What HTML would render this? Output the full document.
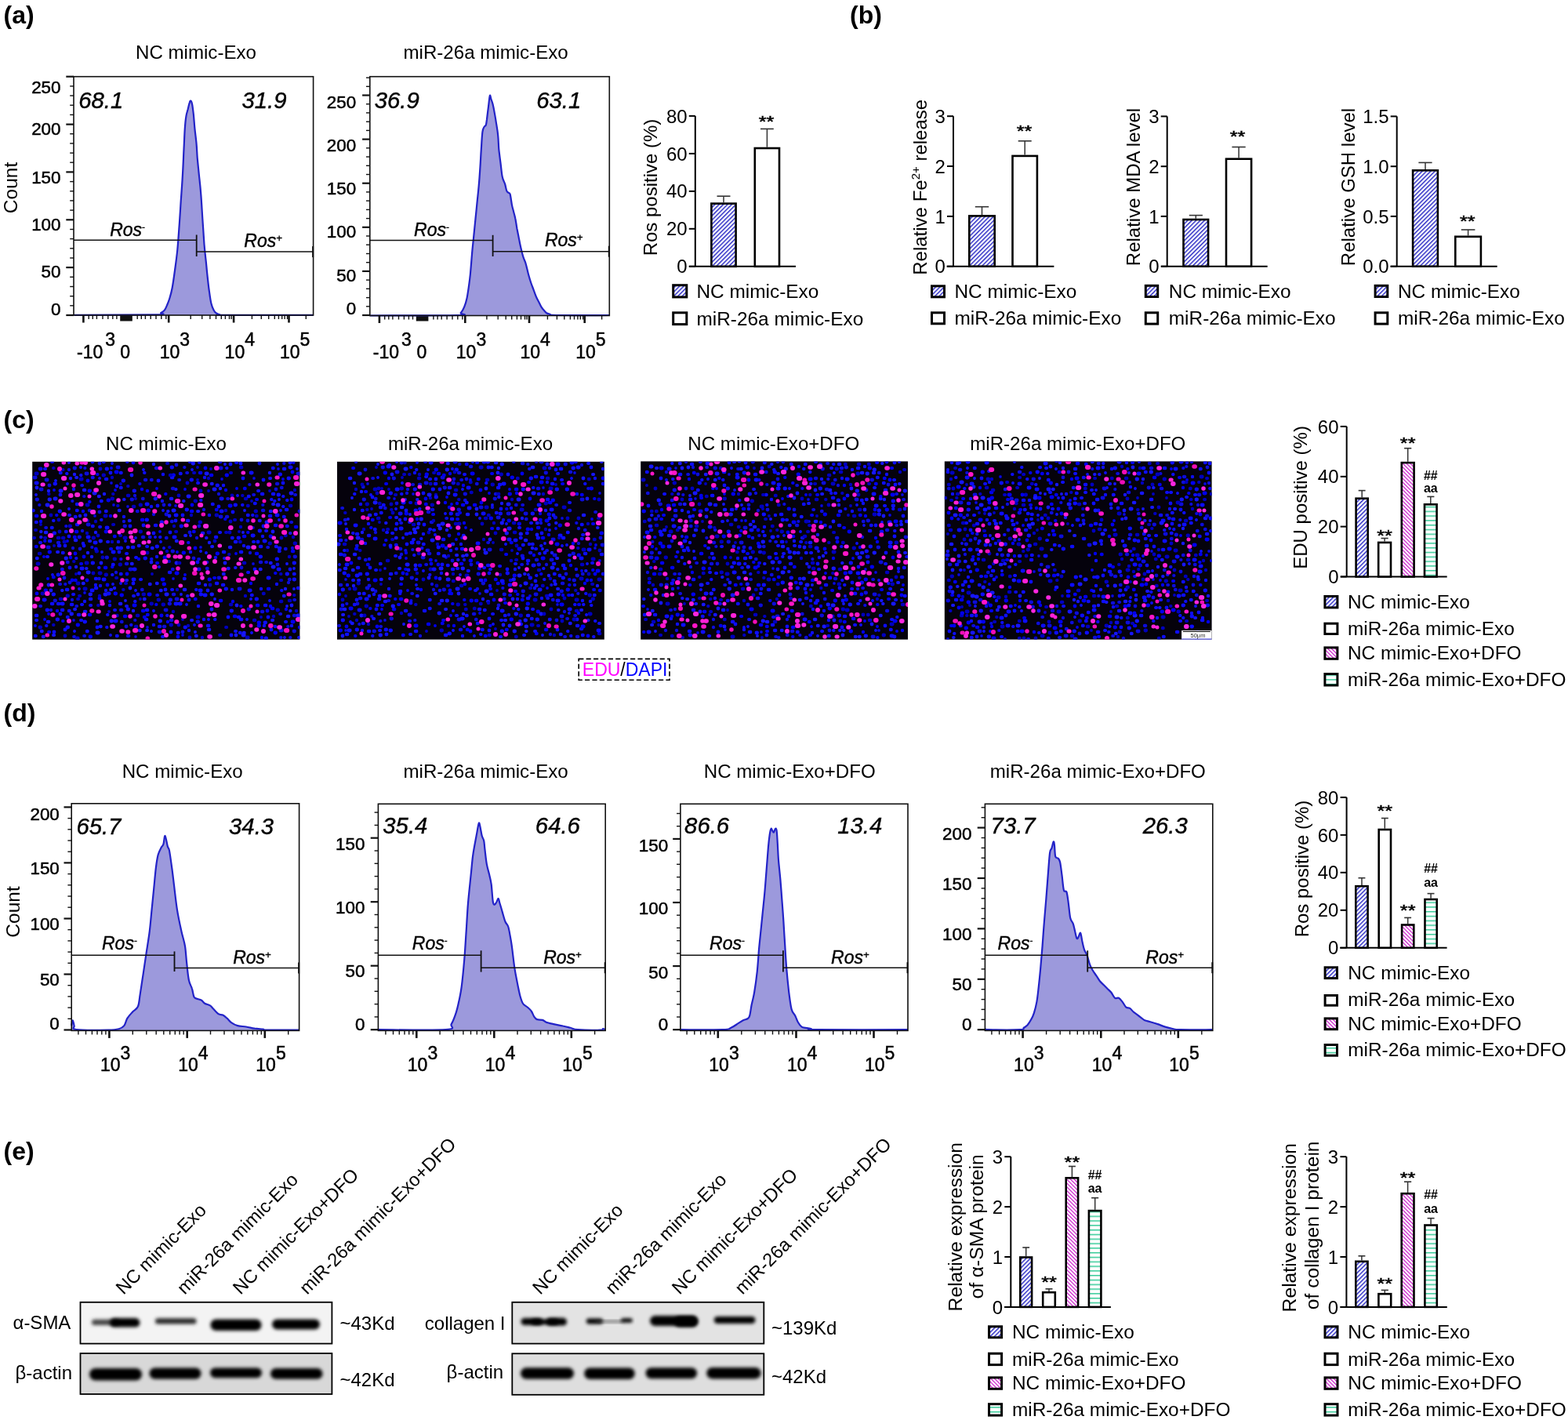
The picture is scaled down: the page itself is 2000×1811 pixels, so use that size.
<!DOCTYPE html>
<html><head><meta charset="utf-8"><title>Figure</title>
<style>html,body{margin:0;padding:0;background:#fff;width:2000px;height:1811px;overflow:hidden}svg{display:block}</style>
</head><body>
<svg width="2000" height="1811" viewBox="0 0 2000 1811" font-family="'Liberation Sans', Arial, Helvetica, sans-serif">
<defs>
<pattern id="pBlue" patternUnits="userSpaceOnUse" width="3.8" height="10" patternTransform="rotate(45)"><rect width="3.8" height="10" fill="#fff"/><rect x="0" y="0" width="1.45" height="10" fill="#2626c4"/></pattern>
<pattern id="pPink" patternUnits="userSpaceOnUse" width="3.4" height="10" patternTransform="rotate(-45)"><rect width="3.4" height="10" fill="#fff"/><rect x="0" y="0" width="1.2" height="10" fill="#c814c8"/></pattern>
<pattern id="pGreen" patternUnits="userSpaceOnUse" width="6" height="5.8"><rect width="6" height="5.8" fill="#fff"/><rect x="0" y="2" width="6" height="1.4" fill="#24c890"/></pattern>
<filter id="blur1" x="-20%" y="-80%" width="140%" height="260%"><feGaussianBlur stdDeviation="1.9"/></filter>
<filter id="dotblur" x="-2%" y="-2%" width="104%" height="104%"><feGaussianBlur stdDeviation="0.6"/></filter>
<filter id="blur2" x="-20%" y="-80%" width="140%" height="260%"><feGaussianBlur stdDeviation="2.2"/></filter>
<clipPath id="clip11"><rect x="41.2" y="588.8" width="341.2" height="226.8"/></clipPath><clipPath id="clip22"><rect x="430" y="588.8" width="340.8" height="226.8"/></clipPath><clipPath id="clip33"><rect x="817.2" y="588.4" width="340.8" height="227.2"/></clipPath><clipPath id="clip44"><rect x="1204.8" y="588.4" width="340.8" height="227.2"/></clipPath></defs>
<rect width="2000" height="1811" fill="#fff"/>
<text x="4.5" y="30" font-size="32" font-weight="bold">(a)</text>
<text x="1084" y="30" font-size="32" font-weight="bold">(b)</text>
<text x="4.5" y="546" font-size="32" font-weight="bold">(c)</text>
<text x="4.5" y="920" font-size="32" font-weight="bold">(d)</text>
<text x="4.5" y="1479.3" font-size="32" font-weight="bold">(e)</text>
<line x1="886.8" y1="147.9" x2="886.8" y2="339.8" stroke="#000" stroke-width="2" />
<line x1="878.9" y1="339.8" x2="1015" y2="339.8" stroke="#000" stroke-width="2" />
<line x1="878.8" y1="339.8" x2="886.8" y2="339.8" stroke="#000" stroke-width="2" />
<text x="876.6" y="348.4" font-size="24" text-anchor="end">0</text>
<line x1="878.8" y1="291.8" x2="886.8" y2="291.8" stroke="#000" stroke-width="2" />
<text x="876.6" y="300.4" font-size="24" text-anchor="end">20</text>
<line x1="878.8" y1="243.9" x2="886.8" y2="243.9" stroke="#000" stroke-width="2" />
<text x="876.6" y="252.4" font-size="24" text-anchor="end">40</text>
<line x1="878.8" y1="195.9" x2="886.8" y2="195.9" stroke="#000" stroke-width="2" />
<text x="876.6" y="204.5" font-size="24" text-anchor="end">60</text>
<line x1="878.8" y1="147.9" x2="886.8" y2="147.9" stroke="#000" stroke-width="2" />
<text x="876.6" y="156.5" font-size="24" text-anchor="end">80</text>
<line x1="923" y1="258.3" x2="923" y2="250.2" stroke="#333" stroke-width="1.5" />
<line x1="914.5" y1="250.2" x2="931.5" y2="250.2" stroke="#333" stroke-width="1.6" />
<rect x="907.4" y="259.6" width="31.2" height="80.2" fill="url(#pBlue)" stroke="#000" stroke-width="2.6" />
<line x1="978.4" y1="187.7" x2="978.4" y2="164.4" stroke="#333" stroke-width="1.5" />
<line x1="970" y1="164.4" x2="986.8" y2="164.4" stroke="#333" stroke-width="1.6" />
<rect x="962.8" y="189" width="31.2" height="150.8" fill="#fff" stroke="#000" stroke-width="2.6" />
<text transform="translate(977.5 151.6) scale(1.15 0.92)" x="0" y="11.1" font-size="22" text-anchor="middle" stroke="#000" stroke-width="0.5">**</text>
<text transform="translate(838.3 239) rotate(-90)" text-anchor="middle" font-size="24">Ros positive (%)</text>
<rect x="858.7" y="363.7" width="17.1" height="15.2" fill="url(#pBlue)" stroke="#000" stroke-width="3" />
<text x="888.5" y="379.9" font-size="24.4">NC mimic-Exo</text>
<rect x="858.7" y="398.8" width="17.1" height="14.8" fill="#fff" stroke="#000" stroke-width="3" />
<text x="888.5" y="414.6" font-size="24.4">miR-26a mimic-Exo</text>
<line x1="1216" y1="148.2" x2="1216" y2="339.7" stroke="#000" stroke-width="2" />
<line x1="1207.6" y1="339.7" x2="1344.4" y2="339.7" stroke="#000" stroke-width="2" />
<line x1="1208" y1="339.7" x2="1216" y2="339.7" stroke="#000" stroke-width="2" />
<text x="1205.8" y="348.3" font-size="24" text-anchor="end">0</text>
<line x1="1208" y1="275.9" x2="1216" y2="275.9" stroke="#000" stroke-width="2" />
<text x="1205.8" y="284.5" font-size="24" text-anchor="end">1</text>
<line x1="1208" y1="212" x2="1216" y2="212" stroke="#000" stroke-width="2" />
<text x="1205.8" y="220.6" font-size="24" text-anchor="end">2</text>
<line x1="1208" y1="148.2" x2="1216" y2="148.2" stroke="#000" stroke-width="2" />
<text x="1205.8" y="156.8" font-size="24" text-anchor="end">3</text>
<line x1="1252.5" y1="274.1" x2="1252.5" y2="263.7" stroke="#333" stroke-width="1.5" />
<line x1="1243.8" y1="263.7" x2="1261.2" y2="263.7" stroke="#333" stroke-width="1.6" />
<rect x="1236.3" y="275.4" width="32.4" height="64.3" fill="url(#pBlue)" stroke="#000" stroke-width="2.6" />
<line x1="1307.2" y1="197.6" x2="1307.2" y2="179.8" stroke="#333" stroke-width="1.5" />
<line x1="1298.7" y1="179.8" x2="1315.7" y2="179.8" stroke="#333" stroke-width="1.6" />
<rect x="1291.5" y="198.9" width="31.4" height="140.8" fill="#fff" stroke="#000" stroke-width="2.6" />
<text transform="translate(1306.5 163.3) scale(1.15 0.92)" x="0" y="11.1" font-size="22" text-anchor="middle" stroke="#000" stroke-width="0.5">**</text>
<text transform="translate(1181.5 238.8) rotate(-90)" text-anchor="middle" font-size="24">Relative Fe<tspan font-size="15" dy="-9">2+</tspan><tspan dy="9"> release</tspan></text>
<rect x="1188.5" y="364.8" width="16" height="14" fill="url(#pBlue)" stroke="#000" stroke-width="3" />
<text x="1217.5" y="379.8" font-size="24.4">NC mimic-Exo</text>
<rect x="1188.5" y="398.8" width="16" height="14" fill="#fff" stroke="#000" stroke-width="3" />
<text x="1217.5" y="413.8" font-size="24.4">miR-26a mimic-Exo</text>
<line x1="1488.7" y1="148.4" x2="1488.7" y2="339.7" stroke="#000" stroke-width="2" />
<line x1="1481" y1="339.7" x2="1616.7" y2="339.7" stroke="#000" stroke-width="2" />
<line x1="1480.7" y1="339.7" x2="1488.7" y2="339.7" stroke="#000" stroke-width="2" />
<text x="1478.5" y="348.3" font-size="24" text-anchor="end">0</text>
<line x1="1480.7" y1="275.9" x2="1488.7" y2="275.9" stroke="#000" stroke-width="2" />
<text x="1478.5" y="284.5" font-size="24" text-anchor="end">1</text>
<line x1="1480.7" y1="212.2" x2="1488.7" y2="212.2" stroke="#000" stroke-width="2" />
<text x="1478.5" y="220.8" font-size="24" text-anchor="end">2</text>
<line x1="1480.7" y1="148.4" x2="1488.7" y2="148.4" stroke="#000" stroke-width="2" />
<text x="1478.5" y="157" font-size="24" text-anchor="end">3</text>
<line x1="1525.3" y1="278.7" x2="1525.3" y2="274.6" stroke="#333" stroke-width="1.5" />
<line x1="1516.8" y1="274.6" x2="1533.9" y2="274.6" stroke="#333" stroke-width="1.6" />
<rect x="1509.5" y="280" width="31.6" height="59.7" fill="url(#pBlue)" stroke="#000" stroke-width="2.6" />
<line x1="1580.1" y1="201.4" x2="1580.1" y2="187.5" stroke="#333" stroke-width="1.5" />
<line x1="1571.4" y1="187.5" x2="1588.7" y2="187.5" stroke="#333" stroke-width="1.6" />
<rect x="1564" y="202.7" width="32.1" height="137" fill="#fff" stroke="#000" stroke-width="2.6" />
<text transform="translate(1578.6 170.4) scale(1.15 0.92)" x="0" y="11.1" font-size="22" text-anchor="middle" stroke="#000" stroke-width="0.5">**</text>
<text transform="translate(1454.3 238.5) rotate(-90)" text-anchor="middle" font-size="24">Relative MDA level</text>
<rect x="1461.3" y="364.3" width="15.4" height="14.2" fill="url(#pBlue)" stroke="#000" stroke-width="3" />
<text x="1490.8" y="379.5" font-size="24.4">NC mimic-Exo</text>
<rect x="1461.3" y="398.8" width="15.4" height="14.3" fill="#fff" stroke="#000" stroke-width="3" />
<text x="1490.8" y="414.1" font-size="24.4">miR-26a mimic-Exo</text>
<line x1="1781.7" y1="148.4" x2="1781.7" y2="339.7" stroke="#000" stroke-width="2" />
<line x1="1773.6" y1="339.7" x2="1909.7" y2="339.7" stroke="#000" stroke-width="2" />
<line x1="1773.7" y1="339.7" x2="1781.7" y2="339.7" stroke="#000" stroke-width="2" />
<text x="1771.5" y="348.3" font-size="24" text-anchor="end">0.0</text>
<line x1="1773.7" y1="275.9" x2="1781.7" y2="275.9" stroke="#000" stroke-width="2" />
<text x="1771.5" y="284.5" font-size="24" text-anchor="end">0.5</text>
<line x1="1773.7" y1="212.2" x2="1781.7" y2="212.2" stroke="#000" stroke-width="2" />
<text x="1771.5" y="220.8" font-size="24" text-anchor="end">1.0</text>
<line x1="1773.7" y1="148.4" x2="1781.7" y2="148.4" stroke="#000" stroke-width="2" />
<text x="1771.5" y="157" font-size="24" text-anchor="end">1.5</text>
<line x1="1818" y1="216" x2="1818" y2="207.4" stroke="#333" stroke-width="1.5" />
<line x1="1809.4" y1="207.4" x2="1826.6" y2="207.4" stroke="#333" stroke-width="1.6" />
<rect x="1802.1" y="217.3" width="31.8" height="122.4" fill="url(#pBlue)" stroke="#000" stroke-width="2.6" />
<line x1="1872.6" y1="300.5" x2="1872.6" y2="293" stroke="#333" stroke-width="1.5" />
<line x1="1863.8" y1="293" x2="1881.4" y2="293" stroke="#333" stroke-width="1.6" />
<rect x="1856.3" y="301.8" width="32.6" height="37.9" fill="#fff" stroke="#000" stroke-width="2.6" />
<text transform="translate(1871.8 278.3) scale(1.15 0.92)" x="0" y="11.1" font-size="22" text-anchor="middle" stroke="#000" stroke-width="0.5">**</text>
<text transform="translate(1727.5 238.5) rotate(-90)" text-anchor="middle" font-size="24">Relative GSH level</text>
<rect x="1754.1" y="364.3" width="15.7" height="14.2" fill="url(#pBlue)" stroke="#000" stroke-width="3" />
<text x="1783" y="379.5" font-size="24.4">NC mimic-Exo</text>
<rect x="1754.1" y="398.8" width="15.7" height="14.3" fill="#fff" stroke="#000" stroke-width="3" />
<text x="1783" y="414.1" font-size="24.4">miR-26a mimic-Exo</text>
<line x1="1717.7" y1="543.9" x2="1717.7" y2="735.5" stroke="#000" stroke-width="2" />
<line x1="1709.9" y1="735.5" x2="1845.7" y2="735.5" stroke="#000" stroke-width="2" />
<line x1="1709.7" y1="735.5" x2="1717.7" y2="735.5" stroke="#000" stroke-width="2" />
<text x="1707.5" y="744.1" font-size="24" text-anchor="end">0</text>
<line x1="1709.7" y1="671.6" x2="1717.7" y2="671.6" stroke="#000" stroke-width="2" />
<text x="1707.5" y="680.2" font-size="24" text-anchor="end">20</text>
<line x1="1709.7" y1="607.8" x2="1717.7" y2="607.8" stroke="#000" stroke-width="2" />
<text x="1707.5" y="616.4" font-size="24" text-anchor="end">40</text>
<line x1="1709.7" y1="543.9" x2="1717.7" y2="543.9" stroke="#000" stroke-width="2" />
<text x="1707.5" y="552.5" font-size="24" text-anchor="end">60</text>
<line x1="1737.2" y1="634.4" x2="1737.2" y2="625.6" stroke="#333" stroke-width="1.5" />
<line x1="1732.7" y1="625.6" x2="1741.6" y2="625.6" stroke="#333" stroke-width="1.6" />
<rect x="1729.6" y="635.7" width="15.1" height="99.8" fill="url(#pBlue)" stroke="#000" stroke-width="2.6" />
<line x1="1766.1" y1="690.6" x2="1766.1" y2="686.5" stroke="#333" stroke-width="1.5" />
<line x1="1761.5" y1="686.5" x2="1770.7" y2="686.5" stroke="#333" stroke-width="1.6" />
<rect x="1758.2" y="691.9" width="15.8" height="43.6" fill="#fff" stroke="#000" stroke-width="2.6" />
<line x1="1795.7" y1="588.8" x2="1795.7" y2="571.7" stroke="#333" stroke-width="1.5" />
<line x1="1791.1" y1="571.7" x2="1800.3" y2="571.7" stroke="#333" stroke-width="1.6" />
<rect x="1787.8" y="590.1" width="15.8" height="145.4" fill="url(#pPink)" stroke="#000" stroke-width="2.6" />
<line x1="1824.8" y1="642" x2="1824.8" y2="633.4" stroke="#333" stroke-width="1.5" />
<line x1="1820.3" y1="633.4" x2="1829.4" y2="633.4" stroke="#333" stroke-width="1.6" />
<rect x="1817" y="643.3" width="15.6" height="92.2" fill="url(#pGreen)" stroke="#000" stroke-width="2.6" />
<text transform="translate(1766 679.3) scale(1.15 0.92)" x="0" y="11.1" font-size="22" text-anchor="middle" stroke="#000" stroke-width="0.5">**</text>
<text transform="translate(1795.7 561.9) scale(1.15 0.92)" x="0" y="11.1" font-size="22" text-anchor="middle" stroke="#000" stroke-width="0.5">**</text>
<text x="1824.8" y="611.6" font-size="16" text-anchor="middle" font-weight="bold">##</text>
<text x="1824.8" y="628.4" font-size="16" text-anchor="middle" font-weight="bold">aa</text>
<text transform="translate(1666.5 634.4) rotate(-90)" text-anchor="middle" font-size="24">EDU positive (%)</text>
<rect x="1689.9" y="760.5" width="16" height="14.4" fill="url(#pBlue)" stroke="#000" stroke-width="3" />
<text x="1719" y="775.9" font-size="24.4">NC mimic-Exo</text>
<rect x="1689.9" y="795.2" width="16" height="13.3" fill="#fff" stroke="#000" stroke-width="3" />
<text x="1719" y="809.5" font-size="24.4">miR-26a mimic-Exo</text>
<rect x="1689.9" y="825.9" width="16" height="14.4" fill="url(#pPink)" stroke="#000" stroke-width="3" />
<text x="1719" y="841.3" font-size="24.4">NC mimic-Exo+DFO</text>
<rect x="1689.9" y="859.5" width="16" height="14.5" fill="url(#pGreen)" stroke="#000" stroke-width="3" />
<text x="1719" y="875" font-size="24.4">miR-26a mimic-Exo+DFO</text>
<line x1="1717.6" y1="1016.9" x2="1717.6" y2="1208.8" stroke="#000" stroke-width="2" />
<line x1="1709.2" y1="1208.8" x2="1845.6" y2="1208.8" stroke="#000" stroke-width="2" />
<line x1="1709.6" y1="1208.8" x2="1717.6" y2="1208.8" stroke="#000" stroke-width="2" />
<text x="1707.4" y="1217.4" font-size="24" text-anchor="end">0</text>
<line x1="1709.6" y1="1160.8" x2="1717.6" y2="1160.8" stroke="#000" stroke-width="2" />
<text x="1707.4" y="1169.4" font-size="24" text-anchor="end">20</text>
<line x1="1709.6" y1="1112.8" x2="1717.6" y2="1112.8" stroke="#000" stroke-width="2" />
<text x="1707.4" y="1121.4" font-size="24" text-anchor="end">40</text>
<line x1="1709.6" y1="1064.9" x2="1717.6" y2="1064.9" stroke="#000" stroke-width="2" />
<text x="1707.4" y="1073.5" font-size="24" text-anchor="end">60</text>
<line x1="1709.6" y1="1016.9" x2="1717.6" y2="1016.9" stroke="#000" stroke-width="2" />
<text x="1707.4" y="1025.5" font-size="24" text-anchor="end">80</text>
<line x1="1737" y1="1128.9" x2="1737" y2="1119.7" stroke="#333" stroke-width="1.5" />
<line x1="1732.5" y1="1119.7" x2="1741.4" y2="1119.7" stroke="#333" stroke-width="1.6" />
<rect x="1729.3" y="1130.2" width="15.3" height="78.6" fill="url(#pBlue)" stroke="#000" stroke-width="2.6" />
<line x1="1766.3" y1="1056.7" x2="1766.3" y2="1043.5" stroke="#333" stroke-width="1.5" />
<line x1="1761.9" y1="1043.5" x2="1770.8" y2="1043.5" stroke="#333" stroke-width="1.6" />
<rect x="1758.7" y="1058" width="15.3" height="150.8" fill="#fff" stroke="#000" stroke-width="2.6" />
<line x1="1795.7" y1="1178.2" x2="1795.7" y2="1170.4" stroke="#333" stroke-width="1.5" />
<line x1="1791.2" y1="1170.4" x2="1800.1" y2="1170.4" stroke="#333" stroke-width="1.6" />
<rect x="1788.1" y="1179.5" width="15.2" height="29.3" fill="url(#pPink)" stroke="#000" stroke-width="2.6" />
<line x1="1825.1" y1="1145.7" x2="1825.1" y2="1139.6" stroke="#333" stroke-width="1.5" />
<line x1="1820.6" y1="1139.6" x2="1829.5" y2="1139.6" stroke="#333" stroke-width="1.6" />
<rect x="1817.5" y="1147" width="15.2" height="61.8" fill="url(#pGreen)" stroke="#000" stroke-width="2.6" />
<text transform="translate(1766.3 1030.9) scale(1.15 0.92)" x="0" y="11.1" font-size="22" text-anchor="middle" stroke="#000" stroke-width="0.5">**</text>
<text transform="translate(1795.7 1157.9) scale(1.15 0.92)" x="0" y="11.1" font-size="22" text-anchor="middle" stroke="#000" stroke-width="0.5">**</text>
<text x="1825.1" y="1113.3" font-size="16" text-anchor="middle" font-weight="bold">##</text>
<text x="1825.1" y="1130.6" font-size="16" text-anchor="middle" font-weight="bold">aa</text>
<text transform="translate(1668.5 1108) rotate(-90)" text-anchor="middle" font-size="24">Ros positive (%)</text>
<rect x="1690.1" y="1233.8" width="15.4" height="13.8" fill="url(#pBlue)" stroke="#000" stroke-width="3" />
<text x="1719.2" y="1248.6" font-size="24.4">NC mimic-Exo</text>
<rect x="1690.1" y="1269.5" width="15.4" height="12.7" fill="#fff" stroke="#000" stroke-width="3" />
<text x="1719.2" y="1283.2" font-size="24.4">miR-26a mimic-Exo</text>
<rect x="1690.1" y="1298.9" width="15.4" height="13.8" fill="url(#pPink)" stroke="#000" stroke-width="3" />
<text x="1719.2" y="1313.7" font-size="24.4">NC mimic-Exo+DFO</text>
<rect x="1690.1" y="1332.5" width="15.4" height="13.7" fill="url(#pGreen)" stroke="#000" stroke-width="3" />
<text x="1719.2" y="1347.2" font-size="24.4">miR-26a mimic-Exo+DFO</text>
<line x1="1289.3" y1="1475.2" x2="1289.3" y2="1666.9" stroke="#000" stroke-width="2" />
<line x1="1281.1" y1="1666.9" x2="1416.9" y2="1666.9" stroke="#000" stroke-width="2" />
<line x1="1281.3" y1="1666.9" x2="1289.3" y2="1666.9" stroke="#000" stroke-width="2" />
<text x="1279.1" y="1675.5" font-size="24" text-anchor="end">0</text>
<line x1="1281.3" y1="1603" x2="1289.3" y2="1603" stroke="#000" stroke-width="2" />
<text x="1279.1" y="1611.6" font-size="24" text-anchor="end">1</text>
<line x1="1281.3" y1="1539.1" x2="1289.3" y2="1539.1" stroke="#000" stroke-width="2" />
<text x="1279.1" y="1547.7" font-size="24" text-anchor="end">2</text>
<line x1="1281.3" y1="1475.2" x2="1289.3" y2="1475.2" stroke="#000" stroke-width="2" />
<text x="1279.1" y="1483.8" font-size="24" text-anchor="end">3</text>
<line x1="1308.7" y1="1602.2" x2="1308.7" y2="1591" stroke="#333" stroke-width="1.5" />
<line x1="1304.3" y1="1591" x2="1313.1" y2="1591" stroke="#333" stroke-width="1.6" />
<rect x="1301.3" y="1603.5" width="14.8" height="63.4" fill="url(#pBlue)" stroke="#000" stroke-width="2.6" />
<line x1="1338" y1="1646.9" x2="1338" y2="1643.8" stroke="#333" stroke-width="1.5" />
<line x1="1333.5" y1="1643.8" x2="1342.5" y2="1643.8" stroke="#333" stroke-width="1.6" />
<rect x="1330.2" y="1648.2" width="15.6" height="18.7" fill="#fff" stroke="#000" stroke-width="2.6" />
<line x1="1367.4" y1="1501" x2="1367.4" y2="1487.5" stroke="#333" stroke-width="1.5" />
<line x1="1362.9" y1="1487.5" x2="1371.9" y2="1487.5" stroke="#333" stroke-width="1.6" />
<rect x="1359.7" y="1502.3" width="15.4" height="164.6" fill="url(#pPink)" stroke="#000" stroke-width="2.6" />
<line x1="1396.7" y1="1542.8" x2="1396.7" y2="1527.7" stroke="#333" stroke-width="1.5" />
<line x1="1392.1" y1="1527.7" x2="1401.2" y2="1527.7" stroke="#333" stroke-width="1.6" />
<rect x="1388.9" y="1544.1" width="15.5" height="122.8" fill="url(#pGreen)" stroke="#000" stroke-width="2.6" />
<text transform="translate(1338 1631.5) scale(1.15 0.92)" x="0" y="11.1" font-size="22" text-anchor="middle" stroke="#000" stroke-width="0.5">**</text>
<text transform="translate(1367.4 1478.9) scale(1.15 0.92)" x="0" y="11.1" font-size="22" text-anchor="middle" stroke="#000" stroke-width="0.5">**</text>
<text x="1396.6" y="1504.2" font-size="16" text-anchor="middle" font-weight="bold">##</text>
<text x="1396.6" y="1521" font-size="16" text-anchor="middle" font-weight="bold">aa</text>
<text transform="translate(1226.5 1564.7) rotate(-90)" text-anchor="middle" font-size="24.7">Relative expression</text>
<text transform="translate(1253.5 1564.4) rotate(-90)" text-anchor="middle" font-size="24.7">of α-SMA protein</text>
<rect x="1261.5" y="1691.8" width="16.1" height="14" fill="url(#pBlue)" stroke="#000" stroke-width="3" />
<text x="1290.9" y="1706.8" font-size="24.4">NC mimic-Exo</text>
<rect x="1261.5" y="1726.2" width="16.1" height="14.4" fill="#fff" stroke="#000" stroke-width="3" />
<text x="1290.9" y="1741.6" font-size="24.4">miR-26a mimic-Exo</text>
<rect x="1261.5" y="1756.9" width="16.1" height="14.4" fill="url(#pPink)" stroke="#000" stroke-width="3" />
<text x="1290.9" y="1772.3" font-size="24.4">NC mimic-Exo+DFO</text>
<rect x="1261.5" y="1790.7" width="16.1" height="14.4" fill="url(#pGreen)" stroke="#000" stroke-width="3" />
<text x="1290.9" y="1806.1" font-size="24.4">miR-26a mimic-Exo+DFO</text>
<line x1="1717.4" y1="1475.2" x2="1717.4" y2="1666.9" stroke="#000" stroke-width="2" />
<line x1="1709.6" y1="1666.9" x2="1845.8" y2="1666.9" stroke="#000" stroke-width="2" />
<line x1="1709.4" y1="1666.9" x2="1717.4" y2="1666.9" stroke="#000" stroke-width="2" />
<text x="1707.2" y="1675.5" font-size="24" text-anchor="end">0</text>
<line x1="1709.4" y1="1603" x2="1717.4" y2="1603" stroke="#000" stroke-width="2" />
<text x="1707.2" y="1611.6" font-size="24" text-anchor="end">1</text>
<line x1="1709.4" y1="1539.1" x2="1717.4" y2="1539.1" stroke="#000" stroke-width="2" />
<text x="1707.2" y="1547.7" font-size="24" text-anchor="end">2</text>
<line x1="1709.4" y1="1475.2" x2="1717.4" y2="1475.2" stroke="#000" stroke-width="2" />
<text x="1707.2" y="1483.8" font-size="24" text-anchor="end">3</text>
<line x1="1736.9" y1="1607.5" x2="1736.9" y2="1601.8" stroke="#333" stroke-width="1.5" />
<line x1="1732.5" y1="1601.8" x2="1741.4" y2="1601.8" stroke="#333" stroke-width="1.6" />
<rect x="1729.3" y="1608.8" width="15.2" height="58.1" fill="url(#pBlue)" stroke="#000" stroke-width="2.6" />
<line x1="1766.3" y1="1648.9" x2="1766.3" y2="1645.4" stroke="#333" stroke-width="1.5" />
<line x1="1761.7" y1="1645.4" x2="1770.9" y2="1645.4" stroke="#333" stroke-width="1.6" />
<rect x="1758.4" y="1650.2" width="15.8" height="16.7" fill="#fff" stroke="#000" stroke-width="2.6" />
<line x1="1795.6" y1="1520.9" x2="1795.6" y2="1507.2" stroke="#333" stroke-width="1.5" />
<line x1="1791" y1="1507.2" x2="1800.2" y2="1507.2" stroke="#333" stroke-width="1.6" />
<rect x="1787.7" y="1522.2" width="15.8" height="144.7" fill="url(#pPink)" stroke="#000" stroke-width="2.6" />
<line x1="1825.1" y1="1561.2" x2="1825.1" y2="1553.7" stroke="#333" stroke-width="1.5" />
<line x1="1820.6" y1="1553.7" x2="1829.6" y2="1553.7" stroke="#333" stroke-width="1.6" />
<rect x="1817.4" y="1562.5" width="15.4" height="104.4" fill="url(#pGreen)" stroke="#000" stroke-width="2.6" />
<text transform="translate(1766.3 1633.5) scale(1.15 0.92)" x="0" y="11.1" font-size="22" text-anchor="middle" stroke="#000" stroke-width="0.5">**</text>
<text transform="translate(1795.6 1498.4) scale(1.15 0.92)" x="0" y="11.1" font-size="22" text-anchor="middle" stroke="#000" stroke-width="0.5">**</text>
<text x="1825.1" y="1528.8" font-size="16" text-anchor="middle" font-weight="bold">##</text>
<text x="1825.1" y="1546.6" font-size="16" text-anchor="middle" font-weight="bold">aa</text>
<text transform="translate(1653.2 1565.7) rotate(-90)" text-anchor="middle" font-size="24.7">Relative expression</text>
<text transform="translate(1682.3 1562.8) rotate(-90)" text-anchor="middle" font-size="24.6">of collagen I protein</text>
<rect x="1690" y="1691.8" width="16" height="14" fill="url(#pBlue)" stroke="#000" stroke-width="3" />
<text x="1719.3" y="1706.8" font-size="24.4">NC mimic-Exo</text>
<rect x="1690" y="1726.2" width="16" height="14.4" fill="#fff" stroke="#000" stroke-width="3" />
<text x="1719.3" y="1741.6" font-size="24.4">miR-26a mimic-Exo</text>
<rect x="1690" y="1756.9" width="16" height="14.4" fill="url(#pPink)" stroke="#000" stroke-width="3" />
<text x="1719.3" y="1772.3" font-size="24.4">NC mimic-Exo+DFO</text>
<rect x="1690" y="1790.7" width="16" height="14.4" fill="url(#pGreen)" stroke="#000" stroke-width="3" />
<text x="1719.3" y="1806.1" font-size="24.4">miR-26a mimic-Exo+DFO</text>
<rect x="153.2" y="402" width="15.6" height="7.5" fill="#111" />
<path d="M94.5,401.9 C111.9,401.8 180.2,401.7 198.7,401.3 C217.2,400.8 203.5,400 205.3,399.1 C207.2,398.1 208.5,397.4 209.8,395.7 C211,394.1 212,391.7 213.1,389.1 C214.2,386.5 215.3,384 216.4,380.3 C217.5,376.6 218.6,372.9 219.7,367 C220.8,361.2 221.9,353.1 223,345 C224.1,336.9 225.4,327.7 226.3,318.5 C227.2,309.3 227.8,300.1 228.5,289.8 C229.3,279.5 230,267.7 230.7,256.6 C231.5,245.6 232.3,234.6 232.9,223.5 C233.6,212.5 234,200.3 234.5,190.4 C235,180.5 235.3,170.9 235.8,163.9 C236.3,156.9 236.7,152.5 237.4,148.4 C238,144.4 238.8,142.6 239.6,139.6 C240.3,136.7 241.1,132.6 241.8,130.8 C242.4,128.9 242.8,128.2 243.3,128.6 C243.9,128.9 244.5,130 245.1,133 C245.7,135.9 246.3,141.1 246.9,146.2 C247.4,151.4 247.8,157.6 248.4,163.9 C249,170.2 250.1,177.5 250.6,183.8 C251.2,190 251.2,194.8 251.7,201.4 C252.3,208.1 253.2,216.2 253.9,223.5 C254.7,230.9 255.4,236.4 256.1,245.6 C256.9,254.8 257.6,267.7 258.3,278.7 C259.1,289.8 259.8,302.6 260.5,311.8 C261.3,321 262,326.6 262.8,333.9 C263.5,341.3 264.2,349.4 265,356 C265.7,362.6 266.4,368.5 267.2,373.7 C267.9,378.8 268.5,383.2 269.4,386.9 C270.3,390.6 271.6,393.6 272.7,395.7 C273.8,397.8 274.7,398.6 276,399.5 C277.3,400.4 278.6,400.9 280.4,401.3 C282.3,401.7 267.2,401.8 287,401.9 C306.9,402 380.9,401.9 399.6,401.9 L399.6,402 L94.5,402 Z" fill="#9c99dc" />
<path d="M94.5,401.9 C111.9,401.8 180.2,401.7 198.7,401.3 C217.2,400.8 203.5,400 205.3,399.1 C207.2,398.1 208.5,397.4 209.8,395.7 C211,394.1 212,391.7 213.1,389.1 C214.2,386.5 215.3,384 216.4,380.3 C217.5,376.6 218.6,372.9 219.7,367 C220.8,361.2 221.9,353.1 223,345 C224.1,336.9 225.4,327.7 226.3,318.5 C227.2,309.3 227.8,300.1 228.5,289.8 C229.3,279.5 230,267.7 230.7,256.6 C231.5,245.6 232.3,234.6 232.9,223.5 C233.6,212.5 234,200.3 234.5,190.4 C235,180.5 235.3,170.9 235.8,163.9 C236.3,156.9 236.7,152.5 237.4,148.4 C238,144.4 238.8,142.6 239.6,139.6 C240.3,136.7 241.1,132.6 241.8,130.8 C242.4,128.9 242.8,128.2 243.3,128.6 C243.9,128.9 244.5,130 245.1,133 C245.7,135.9 246.3,141.1 246.9,146.2 C247.4,151.4 247.8,157.6 248.4,163.9 C249,170.2 250.1,177.5 250.6,183.8 C251.2,190 251.2,194.8 251.7,201.4 C252.3,208.1 253.2,216.2 253.9,223.5 C254.7,230.9 255.4,236.4 256.1,245.6 C256.9,254.8 257.6,267.7 258.3,278.7 C259.1,289.8 259.8,302.6 260.5,311.8 C261.3,321 262,326.6 262.8,333.9 C263.5,341.3 264.2,349.4 265,356 C265.7,362.6 266.4,368.5 267.2,373.7 C267.9,378.8 268.5,383.2 269.4,386.9 C270.3,390.6 271.6,393.6 272.7,395.7 C273.8,397.8 274.7,398.6 276,399.5 C277.3,400.4 278.6,400.9 280.4,401.3 C282.3,401.7 267.2,401.8 287,401.9 C306.9,402 380.9,401.9 399.6,401.9" fill="none" stroke="#2323c8" stroke-width="2.2" stroke-linejoin="round"/>
<rect x="94" y="97.7" width="305.6" height="304.3" fill="none" stroke="#111" stroke-width="1.6" />
<line x1="84.3" y1="402" x2="94" y2="402" stroke="#111" stroke-width="2.2" />
<line x1="89.2" y1="389.8" x2="94" y2="389.8" stroke="#111" stroke-width="1.4" />
<line x1="89.2" y1="377.7" x2="94" y2="377.7" stroke="#111" stroke-width="1.4" />
<line x1="89.2" y1="365.5" x2="94" y2="365.5" stroke="#111" stroke-width="1.4" />
<line x1="89.2" y1="353.3" x2="94" y2="353.3" stroke="#111" stroke-width="1.4" />
<line x1="84.3" y1="341.1" x2="94" y2="341.1" stroke="#111" stroke-width="2.2" />
<line x1="89.2" y1="329" x2="94" y2="329" stroke="#111" stroke-width="1.4" />
<line x1="89.2" y1="316.8" x2="94" y2="316.8" stroke="#111" stroke-width="1.4" />
<line x1="89.2" y1="304.6" x2="94" y2="304.6" stroke="#111" stroke-width="1.4" />
<line x1="89.2" y1="292.5" x2="94" y2="292.5" stroke="#111" stroke-width="1.4" />
<line x1="84.3" y1="280.3" x2="94" y2="280.3" stroke="#111" stroke-width="2.2" />
<line x1="89.2" y1="268.1" x2="94" y2="268.1" stroke="#111" stroke-width="1.4" />
<line x1="89.2" y1="255.9" x2="94" y2="255.9" stroke="#111" stroke-width="1.4" />
<line x1="89.2" y1="243.8" x2="94" y2="243.8" stroke="#111" stroke-width="1.4" />
<line x1="89.2" y1="231.6" x2="94" y2="231.6" stroke="#111" stroke-width="1.4" />
<line x1="84.3" y1="219.4" x2="94" y2="219.4" stroke="#111" stroke-width="2.2" />
<line x1="89.2" y1="207.2" x2="94" y2="207.2" stroke="#111" stroke-width="1.4" />
<line x1="89.2" y1="195.1" x2="94" y2="195.1" stroke="#111" stroke-width="1.4" />
<line x1="89.2" y1="182.9" x2="94" y2="182.9" stroke="#111" stroke-width="1.4" />
<line x1="89.2" y1="170.7" x2="94" y2="170.7" stroke="#111" stroke-width="1.4" />
<line x1="84.3" y1="158.6" x2="94" y2="158.6" stroke="#111" stroke-width="2.2" />
<line x1="89.2" y1="146.4" x2="94" y2="146.4" stroke="#111" stroke-width="1.4" />
<line x1="89.2" y1="134.2" x2="94" y2="134.2" stroke="#111" stroke-width="1.4" />
<line x1="89.2" y1="122" x2="94" y2="122" stroke="#111" stroke-width="1.4" />
<line x1="89.2" y1="109.9" x2="94" y2="109.9" stroke="#111" stroke-width="1.4" />
<line x1="84.3" y1="97.7" x2="94" y2="97.7" stroke="#111" stroke-width="2.2" />
<text x="77.5" y="118.9" font-size="22.4" text-anchor="end" stroke="#000" stroke-width="0.5">250</text>
<text x="77.5" y="172.4" font-size="22.4" text-anchor="end" stroke="#000" stroke-width="0.5">200</text>
<text x="77.5" y="233.7" font-size="22.4" text-anchor="end" stroke="#000" stroke-width="0.5">150</text>
<text x="77.5" y="294.4" font-size="22.4" text-anchor="end" stroke="#000" stroke-width="0.5">100</text>
<text x="77.5" y="354" font-size="22.4" text-anchor="end" stroke="#000" stroke-width="0.5">50</text>
<text x="77.5" y="401.5" font-size="22.4" text-anchor="end" stroke="#000" stroke-width="0.5">0</text>
<line x1="106.4" y1="402" x2="106.4" y2="411.5" stroke="#111" stroke-width="2.6" />
<line x1="215.2" y1="402" x2="215.2" y2="411.5" stroke="#111" stroke-width="2.6" />
<line x1="298.1" y1="402" x2="298.1" y2="411.5" stroke="#111" stroke-width="2.6" />
<line x1="368.5" y1="402" x2="368.5" y2="411.5" stroke="#111" stroke-width="2.6" />
<line x1="113.2" y1="402" x2="113.2" y2="407" stroke="#111" stroke-width="1.4" />
<line x1="118.3" y1="402" x2="118.3" y2="407" stroke="#111" stroke-width="1.4" />
<line x1="123.4" y1="402" x2="123.4" y2="407" stroke="#111" stroke-width="1.4" />
<line x1="131" y1="402" x2="131" y2="407" stroke="#111" stroke-width="1.4" />
<line x1="137.8" y1="402" x2="137.8" y2="407" stroke="#111" stroke-width="1.4" />
<line x1="143.8" y1="402" x2="143.8" y2="407" stroke="#111" stroke-width="1.4" />
<line x1="148.9" y1="402" x2="148.9" y2="407" stroke="#111" stroke-width="1.4" />
<line x1="175.2" y1="402" x2="175.2" y2="407" stroke="#111" stroke-width="1.4" />
<line x1="180.3" y1="402" x2="180.3" y2="407" stroke="#111" stroke-width="1.4" />
<line x1="185.4" y1="402" x2="185.4" y2="407" stroke="#111" stroke-width="1.4" />
<line x1="192.2" y1="402" x2="192.2" y2="407" stroke="#111" stroke-width="1.4" />
<line x1="199" y1="402" x2="199" y2="407" stroke="#111" stroke-width="1.4" />
<line x1="205.8" y1="402" x2="205.8" y2="407" stroke="#111" stroke-width="1.4" />
<line x1="211.8" y1="402" x2="211.8" y2="407" stroke="#111" stroke-width="1.4" />
<line x1="243.2" y1="402" x2="243.2" y2="407" stroke="#111" stroke-width="1.4" />
<line x1="257.7" y1="402" x2="257.7" y2="407" stroke="#111" stroke-width="1.4" />
<line x1="267.9" y1="402" x2="267.9" y2="407" stroke="#111" stroke-width="1.4" />
<line x1="275.5" y1="402" x2="275.5" y2="407" stroke="#111" stroke-width="1.4" />
<line x1="282.3" y1="402" x2="282.3" y2="407" stroke="#111" stroke-width="1.4" />
<line x1="287.4" y1="402" x2="287.4" y2="407" stroke="#111" stroke-width="1.4" />
<line x1="292.5" y1="402" x2="292.5" y2="407" stroke="#111" stroke-width="1.4" />
<line x1="295.1" y1="402" x2="295.1" y2="407" stroke="#111" stroke-width="1.4" />
<line x1="321.4" y1="402" x2="321.4" y2="407" stroke="#111" stroke-width="1.4" />
<line x1="333.3" y1="402" x2="333.3" y2="407" stroke="#111" stroke-width="1.4" />
<line x1="342.7" y1="402" x2="342.7" y2="407" stroke="#111" stroke-width="1.4" />
<line x1="350.3" y1="402" x2="350.3" y2="407" stroke="#111" stroke-width="1.4" />
<line x1="355.4" y1="402" x2="355.4" y2="407" stroke="#111" stroke-width="1.4" />
<line x1="359.7" y1="402" x2="359.7" y2="407" stroke="#111" stroke-width="1.4" />
<line x1="363.1" y1="402" x2="363.1" y2="407" stroke="#111" stroke-width="1.4" />
<line x1="366.5" y1="402" x2="366.5" y2="407" stroke="#111" stroke-width="1.4" />
<line x1="390.3" y1="402" x2="390.3" y2="407" stroke="#111" stroke-width="1.4" />
<text x="98.1" y="457" font-size="23" stroke="#000" stroke-width="0.5">-10<tspan dy="-16" dx="3">3</tspan></text>
<text x="153.2" y="457" font-size="23" stroke="#000" stroke-width="0.5">0</text>
<text x="203.7" y="457" font-size="23" stroke="#000" stroke-width="0.5">10<tspan dy="-16">3</tspan></text>
<text x="286.6" y="457" font-size="23" stroke="#000" stroke-width="0.5">10<tspan dy="-16">4</tspan></text>
<text x="357" y="457" font-size="23" stroke="#000" stroke-width="0.5">10<tspan dy="-16">5</tspan></text>
<line x1="94" y1="306.3" x2="250.7" y2="306.3" stroke="#111" stroke-width="1.5" />
<line x1="250.7" y1="321.1" x2="399.6" y2="321.1" stroke="#111" stroke-width="1.5" />
<line x1="250.7" y1="299.5" x2="250.7" y2="327" stroke="#111" stroke-width="1.8" />
<line x1="399.1" y1="314.1" x2="399.1" y2="328.1" stroke="#111" stroke-width="2" />
<text x="100.2" y="138" font-size="29.3" font-style="italic" stroke="#000" stroke-width="0.4">68.1</text>
<text x="365.5" y="138" font-size="29.3" text-anchor="end" font-style="italic" stroke="#000" stroke-width="0.4">31.9</text>
<text x="140.2" y="301.4" font-size="23" font-style="italic" stroke="#000" stroke-width="0.4">Ros<tspan font-size="11" dy="-8">-</tspan></text>
<text x="311.3" y="314.6" font-size="23" font-style="italic" stroke="#000" stroke-width="0.4">Ros<tspan font-size="13" dy="-7">+</tspan></text>
<text x="250" y="75.2" font-size="24.1" text-anchor="middle">NC mimic-Exo</text>
<text x="0" y="0" font-size="24.5" transform="translate(21.9 239.5) rotate(-90)" text-anchor="middle">Count</text>
<rect x="530.8" y="402" width="15.6" height="7.5" fill="#111" />
<path d="M471.8,402.5 C490.4,402.4 564,402.6 583.3,402 C602.7,401.5 586.3,400.9 587.7,399.2 C589.2,397.4 590.9,394.6 592.2,391.4 C593.4,388.3 594.6,384.4 595.5,380.4 C596.4,376.3 596.9,372.3 597.7,367.1 C598.4,362 599.2,356.8 599.9,349.5 C600.6,342.1 601.4,331.1 602.1,323 C602.8,314.9 603.6,308.2 604.3,300.9 C605,293.5 605.8,286.1 606.5,278.8 C607.3,271.4 608,264.1 608.7,256.7 C609.5,249.3 610.3,242 610.9,234.6 C611.6,227.2 612,219.9 612.5,212.5 C613,205.2 613.3,197.8 613.8,190.4 C614.3,183.1 614.7,173.1 615.4,168.3 C616,163.6 616.8,163.2 617.6,161.7 C618.3,160.3 619.2,161 619.8,159.5 C620.3,158 620.3,156.9 620.9,152.9 C621.4,148.8 622.4,140.4 623.1,135.2 C623.7,130.1 624.3,123.4 624.8,122 C625.4,120.5 625.8,124.5 626.4,126.4 C627,128.2 627.9,130.1 628.6,133 C629.3,136 630.1,140 630.8,144.1 C631.5,148.1 632.3,152.5 633,157.3 C633.8,162.1 634.7,167.2 635.2,172.8 C635.8,178.3 635.8,184.5 636.3,190.4 C636.9,196.3 637.8,202.2 638.5,208.1 C639.3,214 639.8,221.4 640.8,225.8 C641.7,230.2 643.1,231.7 644.1,234.6 C645,237.6 645.5,241.6 646.3,243.4 C647,245.3 647.7,244.9 648.5,245.7 C649.2,246.4 650,245.3 650.7,247.9 C651.4,250.4 652.2,257.4 652.9,261.1 C653.6,264.8 654.4,267 655.1,270 C655.8,272.9 656.6,275.1 657.3,278.8 C658.1,282.5 658.8,288 659.5,292 C660.3,296.1 661,299.4 661.7,303.1 C662.5,306.8 663,310.1 663.9,314.1 C664.9,318.2 666.2,323.7 667.3,327.4 C668.4,331.1 669.5,332.5 670.6,336.2 C671.7,339.9 672.8,345.4 673.9,349.5 C675,353.5 676.1,357.2 677.2,360.5 C678.3,363.8 679.4,366.4 680.5,369.3 C681.6,372.3 682.7,375.6 683.8,378.2 C684.9,380.8 686,382.6 687.1,384.8 C688.2,387 689.3,389.6 690.4,391.4 C691.6,393.3 692.7,394.6 693.8,395.8 C694.9,397.1 695.8,398.4 697.1,399.2 C698.4,400 699.5,400.2 701.5,400.7 C703.5,401.2 696.6,401.8 709.2,402 C721.8,402.3 765.9,402 777.3,402 L777.3,402.5 L471.8,402.5 Z" fill="#9c99dc" />
<path d="M471.8,402.5 C490.4,402.4 564,402.6 583.3,402 C602.7,401.5 586.3,400.9 587.7,399.2 C589.2,397.4 590.9,394.6 592.2,391.4 C593.4,388.3 594.6,384.4 595.5,380.4 C596.4,376.3 596.9,372.3 597.7,367.1 C598.4,362 599.2,356.8 599.9,349.5 C600.6,342.1 601.4,331.1 602.1,323 C602.8,314.9 603.6,308.2 604.3,300.9 C605,293.5 605.8,286.1 606.5,278.8 C607.3,271.4 608,264.1 608.7,256.7 C609.5,249.3 610.3,242 610.9,234.6 C611.6,227.2 612,219.9 612.5,212.5 C613,205.2 613.3,197.8 613.8,190.4 C614.3,183.1 614.7,173.1 615.4,168.3 C616,163.6 616.8,163.2 617.6,161.7 C618.3,160.3 619.2,161 619.8,159.5 C620.3,158 620.3,156.9 620.9,152.9 C621.4,148.8 622.4,140.4 623.1,135.2 C623.7,130.1 624.3,123.4 624.8,122 C625.4,120.5 625.8,124.5 626.4,126.4 C627,128.2 627.9,130.1 628.6,133 C629.3,136 630.1,140 630.8,144.1 C631.5,148.1 632.3,152.5 633,157.3 C633.8,162.1 634.7,167.2 635.2,172.8 C635.8,178.3 635.8,184.5 636.3,190.4 C636.9,196.3 637.8,202.2 638.5,208.1 C639.3,214 639.8,221.4 640.8,225.8 C641.7,230.2 643.1,231.7 644.1,234.6 C645,237.6 645.5,241.6 646.3,243.4 C647,245.3 647.7,244.9 648.5,245.7 C649.2,246.4 650,245.3 650.7,247.9 C651.4,250.4 652.2,257.4 652.9,261.1 C653.6,264.8 654.4,267 655.1,270 C655.8,272.9 656.6,275.1 657.3,278.8 C658.1,282.5 658.8,288 659.5,292 C660.3,296.1 661,299.4 661.7,303.1 C662.5,306.8 663,310.1 663.9,314.1 C664.9,318.2 666.2,323.7 667.3,327.4 C668.4,331.1 669.5,332.5 670.6,336.2 C671.7,339.9 672.8,345.4 673.9,349.5 C675,353.5 676.1,357.2 677.2,360.5 C678.3,363.8 679.4,366.4 680.5,369.3 C681.6,372.3 682.7,375.6 683.8,378.2 C684.9,380.8 686,382.6 687.1,384.8 C688.2,387 689.3,389.6 690.4,391.4 C691.6,393.3 692.7,394.6 693.8,395.8 C694.9,397.1 695.8,398.4 697.1,399.2 C698.4,400 699.5,400.2 701.5,400.7 C703.5,401.2 696.6,401.8 709.2,402 C721.8,402.3 765.9,402 777.3,402" fill="none" stroke="#2323c8" stroke-width="2.2" stroke-linejoin="round"/>
<rect x="471.8" y="97.7" width="305.5" height="304.8" fill="none" stroke="#111" stroke-width="1.6" />
<line x1="462.1" y1="402" x2="471.8" y2="402" stroke="#111" stroke-width="2.2" />
<line x1="467" y1="390.8" x2="471.8" y2="390.8" stroke="#111" stroke-width="1.4" />
<line x1="467" y1="379.6" x2="471.8" y2="379.6" stroke="#111" stroke-width="1.4" />
<line x1="467" y1="368.3" x2="471.8" y2="368.3" stroke="#111" stroke-width="1.4" />
<line x1="467" y1="357.1" x2="471.8" y2="357.1" stroke="#111" stroke-width="1.4" />
<line x1="462.1" y1="345.9" x2="471.8" y2="345.9" stroke="#111" stroke-width="2.2" />
<line x1="467" y1="334.7" x2="471.8" y2="334.7" stroke="#111" stroke-width="1.4" />
<line x1="467" y1="323.5" x2="471.8" y2="323.5" stroke="#111" stroke-width="1.4" />
<line x1="467" y1="312.2" x2="471.8" y2="312.2" stroke="#111" stroke-width="1.4" />
<line x1="467" y1="301" x2="471.8" y2="301" stroke="#111" stroke-width="1.4" />
<line x1="462.1" y1="289.8" x2="471.8" y2="289.8" stroke="#111" stroke-width="2.2" />
<line x1="467" y1="278.6" x2="471.8" y2="278.6" stroke="#111" stroke-width="1.4" />
<line x1="467" y1="267.4" x2="471.8" y2="267.4" stroke="#111" stroke-width="1.4" />
<line x1="467" y1="256.1" x2="471.8" y2="256.1" stroke="#111" stroke-width="1.4" />
<line x1="467" y1="244.9" x2="471.8" y2="244.9" stroke="#111" stroke-width="1.4" />
<line x1="462.1" y1="233.7" x2="471.8" y2="233.7" stroke="#111" stroke-width="2.2" />
<line x1="467" y1="222.5" x2="471.8" y2="222.5" stroke="#111" stroke-width="1.4" />
<line x1="467" y1="211.3" x2="471.8" y2="211.3" stroke="#111" stroke-width="1.4" />
<line x1="467" y1="200" x2="471.8" y2="200" stroke="#111" stroke-width="1.4" />
<line x1="467" y1="188.8" x2="471.8" y2="188.8" stroke="#111" stroke-width="1.4" />
<line x1="462.1" y1="177.6" x2="471.8" y2="177.6" stroke="#111" stroke-width="2.2" />
<line x1="467" y1="166.4" x2="471.8" y2="166.4" stroke="#111" stroke-width="1.4" />
<line x1="467" y1="155.2" x2="471.8" y2="155.2" stroke="#111" stroke-width="1.4" />
<line x1="467" y1="143.9" x2="471.8" y2="143.9" stroke="#111" stroke-width="1.4" />
<line x1="467" y1="132.7" x2="471.8" y2="132.7" stroke="#111" stroke-width="1.4" />
<line x1="462.1" y1="121.5" x2="471.8" y2="121.5" stroke="#111" stroke-width="2.2" />
<line x1="467" y1="110.3" x2="471.8" y2="110.3" stroke="#111" stroke-width="1.4" />
<line x1="467" y1="99.1" x2="471.8" y2="99.1" stroke="#111" stroke-width="1.4" />
<text x="454.1" y="137.7" font-size="22.4" text-anchor="end" stroke="#000" stroke-width="0.5">250</text>
<text x="454.1" y="192.9" font-size="22.4" text-anchor="end" stroke="#000" stroke-width="0.5">200</text>
<text x="454.1" y="248.1" font-size="22.4" text-anchor="end" stroke="#000" stroke-width="0.5">150</text>
<text x="454.1" y="303.4" font-size="22.4" text-anchor="end" stroke="#000" stroke-width="0.5">100</text>
<text x="454.1" y="359.2" font-size="22.4" text-anchor="end" stroke="#000" stroke-width="0.5">50</text>
<text x="454.1" y="400.5" font-size="22.4" text-anchor="end" stroke="#000" stroke-width="0.5">0</text>
<line x1="483.9" y1="402.5" x2="483.9" y2="412" stroke="#111" stroke-width="2.6" />
<line x1="593.3" y1="402.5" x2="593.3" y2="412" stroke="#111" stroke-width="2.6" />
<line x1="675" y1="402.5" x2="675" y2="412" stroke="#111" stroke-width="2.6" />
<line x1="745.7" y1="402.5" x2="745.7" y2="412" stroke="#111" stroke-width="2.6" />
<line x1="490.7" y1="402.5" x2="490.7" y2="407.5" stroke="#111" stroke-width="1.4" />
<line x1="495.8" y1="402.5" x2="495.8" y2="407.5" stroke="#111" stroke-width="1.4" />
<line x1="500.9" y1="402.5" x2="500.9" y2="407.5" stroke="#111" stroke-width="1.4" />
<line x1="508.5" y1="402.5" x2="508.5" y2="407.5" stroke="#111" stroke-width="1.4" />
<line x1="515.4" y1="402.5" x2="515.4" y2="407.5" stroke="#111" stroke-width="1.4" />
<line x1="521.4" y1="402.5" x2="521.4" y2="407.5" stroke="#111" stroke-width="1.4" />
<line x1="526.5" y1="402.5" x2="526.5" y2="407.5" stroke="#111" stroke-width="1.4" />
<line x1="552.9" y1="402.5" x2="552.9" y2="407.5" stroke="#111" stroke-width="1.4" />
<line x1="558.1" y1="402.5" x2="558.1" y2="407.5" stroke="#111" stroke-width="1.4" />
<line x1="563.2" y1="402.5" x2="563.2" y2="407.5" stroke="#111" stroke-width="1.4" />
<line x1="570.1" y1="402.5" x2="570.1" y2="407.5" stroke="#111" stroke-width="1.4" />
<line x1="577" y1="402.5" x2="577" y2="407.5" stroke="#111" stroke-width="1.4" />
<line x1="583.8" y1="402.5" x2="583.8" y2="407.5" stroke="#111" stroke-width="1.4" />
<line x1="589.9" y1="402.5" x2="589.9" y2="407.5" stroke="#111" stroke-width="1.4" />
<line x1="620.9" y1="402.5" x2="620.9" y2="407.5" stroke="#111" stroke-width="1.4" />
<line x1="635.2" y1="402.5" x2="635.2" y2="407.5" stroke="#111" stroke-width="1.4" />
<line x1="645.2" y1="402.5" x2="645.2" y2="407.5" stroke="#111" stroke-width="1.4" />
<line x1="652.7" y1="402.5" x2="652.7" y2="407.5" stroke="#111" stroke-width="1.4" />
<line x1="659.4" y1="402.5" x2="659.4" y2="407.5" stroke="#111" stroke-width="1.4" />
<line x1="664.5" y1="402.5" x2="664.5" y2="407.5" stroke="#111" stroke-width="1.4" />
<line x1="669.5" y1="402.5" x2="669.5" y2="407.5" stroke="#111" stroke-width="1.4" />
<line x1="672" y1="402.5" x2="672" y2="407.5" stroke="#111" stroke-width="1.4" />
<line x1="698.4" y1="402.5" x2="698.4" y2="407.5" stroke="#111" stroke-width="1.4" />
<line x1="710.4" y1="402.5" x2="710.4" y2="407.5" stroke="#111" stroke-width="1.4" />
<line x1="719.8" y1="402.5" x2="719.8" y2="407.5" stroke="#111" stroke-width="1.4" />
<line x1="727.4" y1="402.5" x2="727.4" y2="407.5" stroke="#111" stroke-width="1.4" />
<line x1="732.5" y1="402.5" x2="732.5" y2="407.5" stroke="#111" stroke-width="1.4" />
<line x1="736.9" y1="402.5" x2="736.9" y2="407.5" stroke="#111" stroke-width="1.4" />
<line x1="740.3" y1="402.5" x2="740.3" y2="407.5" stroke="#111" stroke-width="1.4" />
<line x1="743.7" y1="402.5" x2="743.7" y2="407.5" stroke="#111" stroke-width="1.4" />
<line x1="767.6" y1="402.5" x2="767.6" y2="407.5" stroke="#111" stroke-width="1.4" />
<text x="475.8" y="457" font-size="23" stroke="#000" stroke-width="0.5">-10<tspan dy="-16" dx="3">3</tspan></text>
<text x="531.5" y="457" font-size="23" stroke="#000" stroke-width="0.5">0</text>
<text x="581.8" y="457" font-size="23" stroke="#000" stroke-width="0.5">10<tspan dy="-16">3</tspan></text>
<text x="663.5" y="457" font-size="23" stroke="#000" stroke-width="0.5">10<tspan dy="-16">4</tspan></text>
<text x="734.2" y="457" font-size="23" stroke="#000" stroke-width="0.5">10<tspan dy="-16">5</tspan></text>
<line x1="471.8" y1="306.4" x2="628.6" y2="306.4" stroke="#111" stroke-width="1.5" />
<line x1="628.6" y1="320.7" x2="777.3" y2="320.7" stroke="#111" stroke-width="1.5" />
<line x1="628.6" y1="299.8" x2="628.6" y2="327" stroke="#111" stroke-width="1.8" />
<line x1="776.8" y1="313.7" x2="776.8" y2="327.7" stroke="#111" stroke-width="2" />
<text x="477.7" y="137.9" font-size="29.3" font-style="italic" stroke="#000" stroke-width="0.4">36.9</text>
<text x="741.3" y="137.9" font-size="29.3" text-anchor="end" font-style="italic" stroke="#000" stroke-width="0.4">63.1</text>
<text x="528.1" y="300.9" font-size="23" font-style="italic" stroke="#000" stroke-width="0.4">Ros<tspan font-size="11" dy="-8">-</tspan></text>
<text x="694.9" y="314.1" font-size="23" font-style="italic" stroke="#000" stroke-width="0.4">Ros<tspan font-size="13" dy="-7">+</tspan></text>
<text x="619.6" y="75.2" font-size="24.1" text-anchor="middle">miR-26a mimic-Exo</text>
<path d="M91.2,1308.1 C91.5,1307 92.2,1301.4 92.8,1301.4 C93.4,1301.4 94,1306.2 94.7,1308.1 C95.5,1310.1 90.2,1312.1 97.4,1313 C104.6,1313.9 129,1313.7 138,1313.5 C147,1313.4 148.2,1313.1 151.6,1312.2 C154.9,1311.3 156.5,1310.4 158.3,1308.1 C160.1,1305.9 160.6,1301.6 162.4,1298.7 C164.2,1295.7 166.9,1293 169.1,1290.5 C171.4,1288.1 174.3,1287.4 175.9,1283.8 C177.5,1280.2 177.5,1275.9 178.6,1268.9 C179.7,1261.9 181.3,1250.8 182.7,1241.8 C184,1232.8 185.4,1223.8 186.7,1214.8 C188.1,1205.7 189.7,1196.7 190.8,1187.7 C191.9,1178.7 192.6,1169.7 193.5,1160.6 C194.4,1151.6 195.3,1142.6 196.2,1133.6 C197.1,1124.6 198,1113.7 198.9,1106.5 C199.8,1099.3 200.5,1094.6 201.6,1090.3 C202.8,1086 204.6,1083.1 205.7,1080.8 C206.8,1078.5 207.6,1079.2 208.4,1076.7 C209.2,1074.3 209.7,1065.5 210.6,1065.9 C211.5,1066.4 212.9,1076.3 213.8,1079.4 C214.7,1082.6 215.1,1080.3 216,1084.9 C216.9,1089.4 218.2,1099.3 219.2,1106.5 C220.2,1113.7 220.8,1119.1 221.9,1128.2 C223,1137.2 224.4,1150.7 226,1160.6 C227.6,1170.6 229.7,1180 231.4,1187.7 C233.1,1195.4 234.9,1199.9 236,1206.6 C237.1,1213.4 237.3,1221.1 238.2,1228.3 C239,1235.5 239.7,1244.5 240.9,1249.9 C242,1255.4 243.8,1257.2 244.9,1260.8 C246.1,1264.4 246.3,1269.3 247.6,1271.6 C249,1273.9 251.5,1273.6 253,1274.3 C254.6,1275 255.8,1274.8 257.1,1275.7 C258.5,1276.6 259.4,1278.6 261.2,1279.7 C263,1280.8 266.1,1281.3 267.9,1282.4 C269.7,1283.5 270.2,1284.7 272,1286.5 C273.8,1288.3 276.7,1291.9 278.8,1293.2 C280.8,1294.6 282.4,1293.7 284.2,1294.6 C286,1295.5 287.8,1297.1 289.6,1298.7 C291.4,1300.2 292.7,1302.5 295,1304.1 C297.2,1305.7 300,1307.2 303.1,1308.1 C306.3,1309 310.3,1308.9 313.9,1309.5 C317.5,1310.1 321.2,1311.1 324.8,1311.7 C328.4,1312.2 332.9,1312.4 335.6,1312.7 C338.3,1313 333.3,1313.4 341,1313.5 C348.7,1313.7 374.8,1313.5 381.6,1313.5 L381.6,1314.4 L91.2,1314.4 Z" fill="#9c99dc" />
<path d="M91.2,1308.1 C91.5,1307 92.2,1301.4 92.8,1301.4 C93.4,1301.4 94,1306.2 94.7,1308.1 C95.5,1310.1 90.2,1312.1 97.4,1313 C104.6,1313.9 129,1313.7 138,1313.5 C147,1313.4 148.2,1313.1 151.6,1312.2 C154.9,1311.3 156.5,1310.4 158.3,1308.1 C160.1,1305.9 160.6,1301.6 162.4,1298.7 C164.2,1295.7 166.9,1293 169.1,1290.5 C171.4,1288.1 174.3,1287.4 175.9,1283.8 C177.5,1280.2 177.5,1275.9 178.6,1268.9 C179.7,1261.9 181.3,1250.8 182.7,1241.8 C184,1232.8 185.4,1223.8 186.7,1214.8 C188.1,1205.7 189.7,1196.7 190.8,1187.7 C191.9,1178.7 192.6,1169.7 193.5,1160.6 C194.4,1151.6 195.3,1142.6 196.2,1133.6 C197.1,1124.6 198,1113.7 198.9,1106.5 C199.8,1099.3 200.5,1094.6 201.6,1090.3 C202.8,1086 204.6,1083.1 205.7,1080.8 C206.8,1078.5 207.6,1079.2 208.4,1076.7 C209.2,1074.3 209.7,1065.5 210.6,1065.9 C211.5,1066.4 212.9,1076.3 213.8,1079.4 C214.7,1082.6 215.1,1080.3 216,1084.9 C216.9,1089.4 218.2,1099.3 219.2,1106.5 C220.2,1113.7 220.8,1119.1 221.9,1128.2 C223,1137.2 224.4,1150.7 226,1160.6 C227.6,1170.6 229.7,1180 231.4,1187.7 C233.1,1195.4 234.9,1199.9 236,1206.6 C237.1,1213.4 237.3,1221.1 238.2,1228.3 C239,1235.5 239.7,1244.5 240.9,1249.9 C242,1255.4 243.8,1257.2 244.9,1260.8 C246.1,1264.4 246.3,1269.3 247.6,1271.6 C249,1273.9 251.5,1273.6 253,1274.3 C254.6,1275 255.8,1274.8 257.1,1275.7 C258.5,1276.6 259.4,1278.6 261.2,1279.7 C263,1280.8 266.1,1281.3 267.9,1282.4 C269.7,1283.5 270.2,1284.7 272,1286.5 C273.8,1288.3 276.7,1291.9 278.8,1293.2 C280.8,1294.6 282.4,1293.7 284.2,1294.6 C286,1295.5 287.8,1297.1 289.6,1298.7 C291.4,1300.2 292.7,1302.5 295,1304.1 C297.2,1305.7 300,1307.2 303.1,1308.1 C306.3,1309 310.3,1308.9 313.9,1309.5 C317.5,1310.1 321.2,1311.1 324.8,1311.7 C328.4,1312.2 332.9,1312.4 335.6,1312.7 C338.3,1313 333.3,1313.4 341,1313.5 C348.7,1313.7 374.8,1313.5 381.6,1313.5" fill="none" stroke="#2323c8" stroke-width="2.2" stroke-linejoin="round"/>
<rect x="91.2" y="1024.8" width="290.4" height="289.6" fill="none" stroke="#111" stroke-width="1.6" />
<line x1="81.5" y1="1313.5" x2="91.2" y2="1313.5" stroke="#111" stroke-width="2.2" />
<line x1="86.4" y1="1299.3" x2="91.2" y2="1299.3" stroke="#111" stroke-width="1.4" />
<line x1="86.4" y1="1285.1" x2="91.2" y2="1285.1" stroke="#111" stroke-width="1.4" />
<line x1="86.4" y1="1270.9" x2="91.2" y2="1270.9" stroke="#111" stroke-width="1.4" />
<line x1="86.4" y1="1256.7" x2="91.2" y2="1256.7" stroke="#111" stroke-width="1.4" />
<line x1="81.5" y1="1242.5" x2="91.2" y2="1242.5" stroke="#111" stroke-width="2.2" />
<line x1="86.4" y1="1228.3" x2="91.2" y2="1228.3" stroke="#111" stroke-width="1.4" />
<line x1="86.4" y1="1214.1" x2="91.2" y2="1214.1" stroke="#111" stroke-width="1.4" />
<line x1="86.4" y1="1199.9" x2="91.2" y2="1199.9" stroke="#111" stroke-width="1.4" />
<line x1="86.4" y1="1185.7" x2="91.2" y2="1185.7" stroke="#111" stroke-width="1.4" />
<line x1="81.5" y1="1171.5" x2="91.2" y2="1171.5" stroke="#111" stroke-width="2.2" />
<line x1="86.4" y1="1157.2" x2="91.2" y2="1157.2" stroke="#111" stroke-width="1.4" />
<line x1="86.4" y1="1143" x2="91.2" y2="1143" stroke="#111" stroke-width="1.4" />
<line x1="86.4" y1="1128.8" x2="91.2" y2="1128.8" stroke="#111" stroke-width="1.4" />
<line x1="86.4" y1="1114.6" x2="91.2" y2="1114.6" stroke="#111" stroke-width="1.4" />
<line x1="81.5" y1="1100.4" x2="91.2" y2="1100.4" stroke="#111" stroke-width="2.2" />
<line x1="86.4" y1="1086.2" x2="91.2" y2="1086.2" stroke="#111" stroke-width="1.4" />
<line x1="86.4" y1="1072" x2="91.2" y2="1072" stroke="#111" stroke-width="1.4" />
<line x1="86.4" y1="1057.8" x2="91.2" y2="1057.8" stroke="#111" stroke-width="1.4" />
<line x1="86.4" y1="1043.6" x2="91.2" y2="1043.6" stroke="#111" stroke-width="1.4" />
<line x1="81.5" y1="1029.4" x2="91.2" y2="1029.4" stroke="#111" stroke-width="2.2" />
<text x="75.8" y="1045.8" font-size="22.4" text-anchor="end" stroke="#000" stroke-width="0.5">200</text>
<text x="75.8" y="1115.2" font-size="22.4" text-anchor="end" stroke="#000" stroke-width="0.5">150</text>
<text x="75.8" y="1186.2" font-size="22.4" text-anchor="end" stroke="#000" stroke-width="0.5">100</text>
<text x="75.8" y="1256.6" font-size="22.4" text-anchor="end" stroke="#000" stroke-width="0.5">50</text>
<text x="75.8" y="1313.4" font-size="22.4" text-anchor="end" stroke="#000" stroke-width="0.5">0</text>
<line x1="139.4" y1="1314.4" x2="139.4" y2="1323.9" stroke="#111" stroke-width="2.6" />
<line x1="238.7" y1="1314.4" x2="238.7" y2="1323.9" stroke="#111" stroke-width="2.6" />
<line x1="337.8" y1="1314.4" x2="337.8" y2="1323.9" stroke="#111" stroke-width="2.6" />
<line x1="99.9" y1="1314.4" x2="99.9" y2="1319.4" stroke="#111" stroke-width="1.4" />
<line x1="109.5" y1="1314.4" x2="109.5" y2="1319.4" stroke="#111" stroke-width="1.4" />
<line x1="117.4" y1="1314.4" x2="117.4" y2="1319.4" stroke="#111" stroke-width="1.4" />
<line x1="124" y1="1314.4" x2="124" y2="1319.4" stroke="#111" stroke-width="1.4" />
<line x1="129.8" y1="1314.4" x2="129.8" y2="1319.4" stroke="#111" stroke-width="1.4" />
<line x1="134.9" y1="1314.4" x2="134.9" y2="1319.4" stroke="#111" stroke-width="1.4" />
<line x1="169.3" y1="1314.4" x2="169.3" y2="1319.4" stroke="#111" stroke-width="1.4" />
<line x1="186.8" y1="1314.4" x2="186.8" y2="1319.4" stroke="#111" stroke-width="1.4" />
<line x1="199.2" y1="1314.4" x2="199.2" y2="1319.4" stroke="#111" stroke-width="1.4" />
<line x1="208.8" y1="1314.4" x2="208.8" y2="1319.4" stroke="#111" stroke-width="1.4" />
<line x1="216.7" y1="1314.4" x2="216.7" y2="1319.4" stroke="#111" stroke-width="1.4" />
<line x1="223.3" y1="1314.4" x2="223.3" y2="1319.4" stroke="#111" stroke-width="1.4" />
<line x1="229.1" y1="1314.4" x2="229.1" y2="1319.4" stroke="#111" stroke-width="1.4" />
<line x1="234.2" y1="1314.4" x2="234.2" y2="1319.4" stroke="#111" stroke-width="1.4" />
<line x1="268.5" y1="1314.4" x2="268.5" y2="1319.4" stroke="#111" stroke-width="1.4" />
<line x1="286" y1="1314.4" x2="286" y2="1319.4" stroke="#111" stroke-width="1.4" />
<line x1="298.4" y1="1314.4" x2="298.4" y2="1319.4" stroke="#111" stroke-width="1.4" />
<line x1="308" y1="1314.4" x2="308" y2="1319.4" stroke="#111" stroke-width="1.4" />
<line x1="315.8" y1="1314.4" x2="315.8" y2="1319.4" stroke="#111" stroke-width="1.4" />
<line x1="322.4" y1="1314.4" x2="322.4" y2="1319.4" stroke="#111" stroke-width="1.4" />
<line x1="328.2" y1="1314.4" x2="328.2" y2="1319.4" stroke="#111" stroke-width="1.4" />
<line x1="333.3" y1="1314.4" x2="333.3" y2="1319.4" stroke="#111" stroke-width="1.4" />
<line x1="367.7" y1="1314.4" x2="367.7" y2="1319.4" stroke="#111" stroke-width="1.4" />
<text x="127.9" y="1366.4" font-size="23" stroke="#000" stroke-width="0.5">10<tspan dy="-15">3</tspan></text>
<text x="227.2" y="1366.4" font-size="23" stroke="#000" stroke-width="0.5">10<tspan dy="-15">4</tspan></text>
<text x="326.3" y="1366.4" font-size="23" stroke="#000" stroke-width="0.5">10<tspan dy="-15">5</tspan></text>
<line x1="91.2" y1="1218.3" x2="222.5" y2="1218.3" stroke="#111" stroke-width="1.5" />
<line x1="222.5" y1="1234.5" x2="381.6" y2="1234.5" stroke="#111" stroke-width="1.5" />
<line x1="222.5" y1="1213.4" x2="222.5" y2="1239" stroke="#111" stroke-width="1.8" />
<line x1="381.1" y1="1227.5" x2="381.1" y2="1241.5" stroke="#111" stroke-width="2" />
<text x="97.4" y="1063.5" font-size="29.3" font-style="italic" stroke="#000" stroke-width="0.4">65.7</text>
<text x="349.1" y="1063.5" font-size="29.3" text-anchor="end" font-style="italic" stroke="#000" stroke-width="0.4">34.3</text>
<text x="130" y="1210.7" font-size="23" font-style="italic" stroke="#000" stroke-width="0.4">Ros<tspan font-size="11" dy="-8">-</tspan></text>
<text x="297.2" y="1229" font-size="23" font-style="italic" stroke="#000" stroke-width="0.4">Ros<tspan font-size="13" dy="-7">+</tspan></text>
<text x="232.7" y="992.3" font-size="24.1" text-anchor="middle">NC mimic-Exo</text>
<text x="0" y="0" font-size="24.5" transform="translate(24.8 1163) rotate(-90)" text-anchor="middle">Count</text>
<path d="M482.4,1313.2 C496.7,1313.2 553,1314.4 568.5,1313.2 C584.1,1312 573.5,1309.6 575.7,1306.1 C577.8,1302.5 580,1296.6 581.6,1291.8 C583.2,1287.1 584,1283.1 585.2,1277.6 C586.4,1272.1 587.5,1267.7 588.7,1258.6 C589.9,1249.5 591.3,1234.9 592.3,1223 C593.3,1211.1 593.9,1199.3 594.7,1187.4 C595.5,1175.5 596,1163.6 597,1151.8 C598,1139.9 599.6,1126.1 600.6,1116.2 C601.6,1106.3 602.2,1098.8 603,1092.4 C603.8,1086.1 604.4,1083.3 605.3,1078.2 C606.3,1073 607.5,1066.3 608.4,1061.6 C609.3,1056.8 610.1,1050.9 610.8,1049.7 C611.5,1048.5 611.8,1051.7 612.5,1054.5 C613.1,1057.2 614,1063.4 614.8,1066.3 C615.6,1069.3 616.6,1069.5 617.2,1072.3 C617.8,1075 617.8,1078 618.4,1082.9 C619,1087.9 619.8,1096.4 620.8,1101.9 C621.8,1107.5 623.3,1111.8 624.3,1116.2 C625.3,1120.5 625.9,1122.1 626.7,1128 C627.5,1134 628.1,1147.8 629.1,1151.8 C630.1,1155.7 631.6,1152.8 632.6,1151.8 C633.7,1150.8 634.7,1145.8 635.5,1145.8 C636.3,1145.8 636.5,1148.8 637.4,1151.8 C638.3,1154.7 639.8,1159.7 640.9,1163.6 C642.1,1167.6 643.3,1172.6 644.5,1175.5 C645.7,1178.5 647.1,1178.7 648.1,1181.5 C649.1,1184.2 649.7,1188 650.4,1192.1 C651.2,1196.3 651.8,1199.3 652.8,1206.4 C653.8,1213.5 655.2,1227 656.4,1234.9 C657.6,1242.8 658.8,1247.9 659.9,1253.9 C661.1,1259.8 662.3,1266.1 663.5,1270.5 C664.7,1274.8 665.5,1277.6 667.1,1280 C668.6,1282.3 671.2,1283.1 673,1284.7 C674.8,1286.3 676.4,1287.5 677.7,1289.5 C679.1,1291.4 680.1,1294.8 681.3,1296.6 C682.5,1298.4 683.1,1299.4 684.9,1300.1 C686.6,1300.9 690,1300.3 692,1300.9 C694,1301.5 694.4,1302.8 696.7,1303.7 C699.1,1304.6 702.7,1305.3 706.2,1306.1 C709.8,1306.9 714.5,1307.7 718.1,1308.5 C721.7,1309.2 724.4,1310 727.6,1310.8 C730.8,1311.6 730.8,1312.7 737.1,1313.2 C743.4,1313.7 760.2,1313.9 765.6,1313.7 C770.9,1313.5 768,1312.1 769.1,1312 C770.2,1311.9 771.7,1313 772.2,1313.2 L772.2,1314.4 L482.4,1314.4 Z" fill="#9c99dc" />
<path d="M482.4,1313.2 C496.7,1313.2 553,1314.4 568.5,1313.2 C584.1,1312 573.5,1309.6 575.7,1306.1 C577.8,1302.5 580,1296.6 581.6,1291.8 C583.2,1287.1 584,1283.1 585.2,1277.6 C586.4,1272.1 587.5,1267.7 588.7,1258.6 C589.9,1249.5 591.3,1234.9 592.3,1223 C593.3,1211.1 593.9,1199.3 594.7,1187.4 C595.5,1175.5 596,1163.6 597,1151.8 C598,1139.9 599.6,1126.1 600.6,1116.2 C601.6,1106.3 602.2,1098.8 603,1092.4 C603.8,1086.1 604.4,1083.3 605.3,1078.2 C606.3,1073 607.5,1066.3 608.4,1061.6 C609.3,1056.8 610.1,1050.9 610.8,1049.7 C611.5,1048.5 611.8,1051.7 612.5,1054.5 C613.1,1057.2 614,1063.4 614.8,1066.3 C615.6,1069.3 616.6,1069.5 617.2,1072.3 C617.8,1075 617.8,1078 618.4,1082.9 C619,1087.9 619.8,1096.4 620.8,1101.9 C621.8,1107.5 623.3,1111.8 624.3,1116.2 C625.3,1120.5 625.9,1122.1 626.7,1128 C627.5,1134 628.1,1147.8 629.1,1151.8 C630.1,1155.7 631.6,1152.8 632.6,1151.8 C633.7,1150.8 634.7,1145.8 635.5,1145.8 C636.3,1145.8 636.5,1148.8 637.4,1151.8 C638.3,1154.7 639.8,1159.7 640.9,1163.6 C642.1,1167.6 643.3,1172.6 644.5,1175.5 C645.7,1178.5 647.1,1178.7 648.1,1181.5 C649.1,1184.2 649.7,1188 650.4,1192.1 C651.2,1196.3 651.8,1199.3 652.8,1206.4 C653.8,1213.5 655.2,1227 656.4,1234.9 C657.6,1242.8 658.8,1247.9 659.9,1253.9 C661.1,1259.8 662.3,1266.1 663.5,1270.5 C664.7,1274.8 665.5,1277.6 667.1,1280 C668.6,1282.3 671.2,1283.1 673,1284.7 C674.8,1286.3 676.4,1287.5 677.7,1289.5 C679.1,1291.4 680.1,1294.8 681.3,1296.6 C682.5,1298.4 683.1,1299.4 684.9,1300.1 C686.6,1300.9 690,1300.3 692,1300.9 C694,1301.5 694.4,1302.8 696.7,1303.7 C699.1,1304.6 702.7,1305.3 706.2,1306.1 C709.8,1306.9 714.5,1307.7 718.1,1308.5 C721.7,1309.2 724.4,1310 727.6,1310.8 C730.8,1311.6 730.8,1312.7 737.1,1313.2 C743.4,1313.7 760.2,1313.9 765.6,1313.7 C770.9,1313.5 768,1312.1 769.1,1312 C770.2,1311.9 771.7,1313 772.2,1313.2" fill="none" stroke="#2323c8" stroke-width="2.2" stroke-linejoin="round"/>
<rect x="482.4" y="1025.3" width="289.8" height="289.1" fill="none" stroke="#111" stroke-width="1.6" />
<line x1="472.7" y1="1313.2" x2="482.4" y2="1313.2" stroke="#111" stroke-width="2.2" />
<line x1="477.6" y1="1296.9" x2="482.4" y2="1296.9" stroke="#111" stroke-width="1.4" />
<line x1="477.6" y1="1280.6" x2="482.4" y2="1280.6" stroke="#111" stroke-width="1.4" />
<line x1="477.6" y1="1264.3" x2="482.4" y2="1264.3" stroke="#111" stroke-width="1.4" />
<line x1="477.6" y1="1248" x2="482.4" y2="1248" stroke="#111" stroke-width="1.4" />
<line x1="472.7" y1="1231.7" x2="482.4" y2="1231.7" stroke="#111" stroke-width="2.2" />
<line x1="477.6" y1="1215.4" x2="482.4" y2="1215.4" stroke="#111" stroke-width="1.4" />
<line x1="477.6" y1="1199.1" x2="482.4" y2="1199.1" stroke="#111" stroke-width="1.4" />
<line x1="477.6" y1="1182.8" x2="482.4" y2="1182.8" stroke="#111" stroke-width="1.4" />
<line x1="477.6" y1="1166.5" x2="482.4" y2="1166.5" stroke="#111" stroke-width="1.4" />
<line x1="472.7" y1="1150.2" x2="482.4" y2="1150.2" stroke="#111" stroke-width="2.2" />
<line x1="477.6" y1="1133.9" x2="482.4" y2="1133.9" stroke="#111" stroke-width="1.4" />
<line x1="477.6" y1="1117.6" x2="482.4" y2="1117.6" stroke="#111" stroke-width="1.4" />
<line x1="477.6" y1="1101.3" x2="482.4" y2="1101.3" stroke="#111" stroke-width="1.4" />
<line x1="477.6" y1="1085" x2="482.4" y2="1085" stroke="#111" stroke-width="1.4" />
<line x1="472.7" y1="1068.7" x2="482.4" y2="1068.7" stroke="#111" stroke-width="2.2" />
<line x1="477.6" y1="1052.4" x2="482.4" y2="1052.4" stroke="#111" stroke-width="1.4" />
<line x1="477.6" y1="1036.1" x2="482.4" y2="1036.1" stroke="#111" stroke-width="1.4" />
<text x="465.4" y="1083.8" font-size="22.4" text-anchor="end" stroke="#000" stroke-width="0.5">150</text>
<text x="465.4" y="1164.5" font-size="22.4" text-anchor="end" stroke="#000" stroke-width="0.5">100</text>
<text x="465.4" y="1246.4" font-size="22.4" text-anchor="end" stroke="#000" stroke-width="0.5">50</text>
<text x="465.4" y="1314.1" font-size="22.4" text-anchor="end" stroke="#000" stroke-width="0.5">0</text>
<line x1="531.3" y1="1314.4" x2="531.3" y2="1323.9" stroke="#111" stroke-width="2.6" />
<line x1="630.3" y1="1314.4" x2="630.3" y2="1323.9" stroke="#111" stroke-width="2.6" />
<line x1="728.8" y1="1314.4" x2="728.8" y2="1323.9" stroke="#111" stroke-width="2.6" />
<line x1="491.9" y1="1314.4" x2="491.9" y2="1319.4" stroke="#111" stroke-width="1.4" />
<line x1="501.5" y1="1314.4" x2="501.5" y2="1319.4" stroke="#111" stroke-width="1.4" />
<line x1="509.3" y1="1314.4" x2="509.3" y2="1319.4" stroke="#111" stroke-width="1.4" />
<line x1="516" y1="1314.4" x2="516" y2="1319.4" stroke="#111" stroke-width="1.4" />
<line x1="521.7" y1="1314.4" x2="521.7" y2="1319.4" stroke="#111" stroke-width="1.4" />
<line x1="526.8" y1="1314.4" x2="526.8" y2="1319.4" stroke="#111" stroke-width="1.4" />
<line x1="561.1" y1="1314.4" x2="561.1" y2="1319.4" stroke="#111" stroke-width="1.4" />
<line x1="578.5" y1="1314.4" x2="578.5" y2="1319.4" stroke="#111" stroke-width="1.4" />
<line x1="590.9" y1="1314.4" x2="590.9" y2="1319.4" stroke="#111" stroke-width="1.4" />
<line x1="600.5" y1="1314.4" x2="600.5" y2="1319.4" stroke="#111" stroke-width="1.4" />
<line x1="608.3" y1="1314.4" x2="608.3" y2="1319.4" stroke="#111" stroke-width="1.4" />
<line x1="615" y1="1314.4" x2="615" y2="1319.4" stroke="#111" stroke-width="1.4" />
<line x1="620.7" y1="1314.4" x2="620.7" y2="1319.4" stroke="#111" stroke-width="1.4" />
<line x1="625.8" y1="1314.4" x2="625.8" y2="1319.4" stroke="#111" stroke-width="1.4" />
<line x1="660" y1="1314.4" x2="660" y2="1319.4" stroke="#111" stroke-width="1.4" />
<line x1="677.3" y1="1314.4" x2="677.3" y2="1319.4" stroke="#111" stroke-width="1.4" />
<line x1="689.6" y1="1314.4" x2="689.6" y2="1319.4" stroke="#111" stroke-width="1.4" />
<line x1="699.1" y1="1314.4" x2="699.1" y2="1319.4" stroke="#111" stroke-width="1.4" />
<line x1="706.9" y1="1314.4" x2="706.9" y2="1319.4" stroke="#111" stroke-width="1.4" />
<line x1="713.5" y1="1314.4" x2="713.5" y2="1319.4" stroke="#111" stroke-width="1.4" />
<line x1="719.3" y1="1314.4" x2="719.3" y2="1319.4" stroke="#111" stroke-width="1.4" />
<line x1="724.3" y1="1314.4" x2="724.3" y2="1319.4" stroke="#111" stroke-width="1.4" />
<line x1="758.6" y1="1314.4" x2="758.6" y2="1319.4" stroke="#111" stroke-width="1.4" />
<text x="519.8" y="1366.4" font-size="23" stroke="#000" stroke-width="0.5">10<tspan dy="-15">3</tspan></text>
<text x="618.8" y="1366.4" font-size="23" stroke="#000" stroke-width="0.5">10<tspan dy="-15">4</tspan></text>
<text x="717.3" y="1366.4" font-size="23" stroke="#000" stroke-width="0.5">10<tspan dy="-15">5</tspan></text>
<line x1="482.4" y1="1218.3" x2="613.6" y2="1218.3" stroke="#111" stroke-width="1.5" />
<line x1="613.6" y1="1234.2" x2="772.2" y2="1234.2" stroke="#111" stroke-width="1.5" />
<line x1="613.6" y1="1212.3" x2="613.6" y2="1239.6" stroke="#111" stroke-width="1.8" />
<line x1="771.7" y1="1227.2" x2="771.7" y2="1241.2" stroke="#111" stroke-width="2" />
<text x="488.3" y="1062.8" font-size="29.3" font-style="italic" stroke="#000" stroke-width="0.4">35.4</text>
<text x="739.9" y="1062.8" font-size="29.3" text-anchor="end" font-style="italic" stroke="#000" stroke-width="0.4">64.6</text>
<text x="525.8" y="1211.1" font-size="23" font-style="italic" stroke="#000" stroke-width="0.4">Ros<tspan font-size="11" dy="-8">-</tspan></text>
<text x="693.2" y="1228.9" font-size="23" font-style="italic" stroke="#000" stroke-width="0.4">Ros<tspan font-size="13" dy="-7">+</tspan></text>
<text x="619.6" y="991.5" font-size="24.1" text-anchor="middle">miR-26a mimic-Exo</text>
<path d="M868.3,1313.2 C877.2,1313.2 911.1,1313.6 921.8,1313.2 C932.4,1312.8 929.1,1312.2 932.4,1310.8 C935.8,1309.4 939.4,1306.5 941.9,1304.9 C944.5,1303.3 945.9,1302.3 947.9,1301.3 C949.8,1300.3 952.4,1300 953.8,1299 C955.2,1298 955.4,1298.2 956.2,1295.4 C957,1292.6 957.6,1287.3 958.5,1282.3 C959.5,1277.4 960.9,1272.8 962.1,1265.7 C963.3,1258.6 964.7,1248.7 965.7,1239.6 C966.7,1230.5 967.3,1219.8 968,1211.1 C968.8,1202.4 969.6,1195.3 970.4,1187.4 C971.2,1179.5 972,1171.6 972.8,1163.6 C973.6,1155.7 974.4,1148.6 975.2,1139.9 C976,1131.2 976.7,1121.3 977.5,1111.4 C978.3,1101.5 979.2,1088.5 979.9,1080.6 C980.6,1072.7 981.2,1067.9 981.8,1063.9 C982.4,1060 982.9,1057.6 983.5,1056.8 C984,1056 984.5,1058.4 985.1,1059.2 C985.7,1060 986.4,1062 987,1061.6 C987.7,1061.2 988.3,1057.2 988.9,1056.8 C989.5,1056.4 990.1,1056 990.6,1059.2 C991.1,1062.4 991.4,1069.5 991.8,1075.8 C992.2,1082.1 992.4,1089.7 993,1097.2 C993.6,1104.7 994.5,1111.8 995.3,1120.9 C996.1,1130 997,1142.7 997.7,1151.8 C998.4,1160.9 998.8,1166.4 999.4,1175.5 C1000,1184.6 1000.6,1196.5 1001.3,1206.4 C1001.9,1216.3 1002.4,1225.4 1003.2,1234.9 C1004,1244.4 1005,1254.6 1006,1263.4 C1007.1,1272.1 1008.2,1281.8 1009.6,1287.1 C1011,1292.4 1012.9,1292.6 1014.3,1295.4 C1015.7,1298.2 1016.5,1301.3 1017.9,1303.7 C1019.3,1306.1 1021.1,1308.5 1022.6,1309.6 C1024.2,1310.8 1025.4,1310.4 1027.4,1310.8 C1029.4,1311.2 1032.1,1311.6 1034.5,1312 C1036.9,1312.4 1021.1,1313 1041.6,1313.2 C1062.2,1313.4 1138.6,1313.2 1158,1313.2 L1158,1314.4 L868.3,1314.4 Z" fill="#9c99dc" />
<path d="M868.3,1313.2 C877.2,1313.2 911.1,1313.6 921.8,1313.2 C932.4,1312.8 929.1,1312.2 932.4,1310.8 C935.8,1309.4 939.4,1306.5 941.9,1304.9 C944.5,1303.3 945.9,1302.3 947.9,1301.3 C949.8,1300.3 952.4,1300 953.8,1299 C955.2,1298 955.4,1298.2 956.2,1295.4 C957,1292.6 957.6,1287.3 958.5,1282.3 C959.5,1277.4 960.9,1272.8 962.1,1265.7 C963.3,1258.6 964.7,1248.7 965.7,1239.6 C966.7,1230.5 967.3,1219.8 968,1211.1 C968.8,1202.4 969.6,1195.3 970.4,1187.4 C971.2,1179.5 972,1171.6 972.8,1163.6 C973.6,1155.7 974.4,1148.6 975.2,1139.9 C976,1131.2 976.7,1121.3 977.5,1111.4 C978.3,1101.5 979.2,1088.5 979.9,1080.6 C980.6,1072.7 981.2,1067.9 981.8,1063.9 C982.4,1060 982.9,1057.6 983.5,1056.8 C984,1056 984.5,1058.4 985.1,1059.2 C985.7,1060 986.4,1062 987,1061.6 C987.7,1061.2 988.3,1057.2 988.9,1056.8 C989.5,1056.4 990.1,1056 990.6,1059.2 C991.1,1062.4 991.4,1069.5 991.8,1075.8 C992.2,1082.1 992.4,1089.7 993,1097.2 C993.6,1104.7 994.5,1111.8 995.3,1120.9 C996.1,1130 997,1142.7 997.7,1151.8 C998.4,1160.9 998.8,1166.4 999.4,1175.5 C1000,1184.6 1000.6,1196.5 1001.3,1206.4 C1001.9,1216.3 1002.4,1225.4 1003.2,1234.9 C1004,1244.4 1005,1254.6 1006,1263.4 C1007.1,1272.1 1008.2,1281.8 1009.6,1287.1 C1011,1292.4 1012.9,1292.6 1014.3,1295.4 C1015.7,1298.2 1016.5,1301.3 1017.9,1303.7 C1019.3,1306.1 1021.1,1308.5 1022.6,1309.6 C1024.2,1310.8 1025.4,1310.4 1027.4,1310.8 C1029.4,1311.2 1032.1,1311.6 1034.5,1312 C1036.9,1312.4 1021.1,1313 1041.6,1313.2 C1062.2,1313.4 1138.6,1313.2 1158,1313.2" fill="none" stroke="#2323c8" stroke-width="2.2" stroke-linejoin="round"/>
<rect x="867.9" y="1025.3" width="290.1" height="289.1" fill="none" stroke="#111" stroke-width="1.6" />
<line x1="858.2" y1="1313.2" x2="867.9" y2="1313.2" stroke="#111" stroke-width="2.2" />
<line x1="863.1" y1="1297" x2="867.9" y2="1297" stroke="#111" stroke-width="1.4" />
<line x1="863.1" y1="1280.8" x2="867.9" y2="1280.8" stroke="#111" stroke-width="1.4" />
<line x1="863.1" y1="1264.5" x2="867.9" y2="1264.5" stroke="#111" stroke-width="1.4" />
<line x1="863.1" y1="1248.3" x2="867.9" y2="1248.3" stroke="#111" stroke-width="1.4" />
<line x1="858.2" y1="1232.1" x2="867.9" y2="1232.1" stroke="#111" stroke-width="2.2" />
<line x1="863.1" y1="1215.9" x2="867.9" y2="1215.9" stroke="#111" stroke-width="1.4" />
<line x1="863.1" y1="1199.7" x2="867.9" y2="1199.7" stroke="#111" stroke-width="1.4" />
<line x1="863.1" y1="1183.4" x2="867.9" y2="1183.4" stroke="#111" stroke-width="1.4" />
<line x1="863.1" y1="1167.2" x2="867.9" y2="1167.2" stroke="#111" stroke-width="1.4" />
<line x1="858.2" y1="1151" x2="867.9" y2="1151" stroke="#111" stroke-width="2.2" />
<line x1="863.1" y1="1134.8" x2="867.9" y2="1134.8" stroke="#111" stroke-width="1.4" />
<line x1="863.1" y1="1118.6" x2="867.9" y2="1118.6" stroke="#111" stroke-width="1.4" />
<line x1="863.1" y1="1102.3" x2="867.9" y2="1102.3" stroke="#111" stroke-width="1.4" />
<line x1="863.1" y1="1086.1" x2="867.9" y2="1086.1" stroke="#111" stroke-width="1.4" />
<line x1="858.2" y1="1069.9" x2="867.9" y2="1069.9" stroke="#111" stroke-width="2.2" />
<line x1="863.1" y1="1053.7" x2="867.9" y2="1053.7" stroke="#111" stroke-width="1.4" />
<line x1="863.1" y1="1037.5" x2="867.9" y2="1037.5" stroke="#111" stroke-width="1.4" />
<text x="852.2" y="1086.2" font-size="22.4" text-anchor="end" stroke="#000" stroke-width="0.5">150</text>
<text x="852.2" y="1165.7" font-size="22.4" text-anchor="end" stroke="#000" stroke-width="0.5">100</text>
<text x="852.2" y="1248.1" font-size="22.4" text-anchor="end" stroke="#000" stroke-width="0.5">50</text>
<text x="852.2" y="1314.1" font-size="22.4" text-anchor="end" stroke="#000" stroke-width="0.5">0</text>
<line x1="915.8" y1="1314.4" x2="915.8" y2="1323.9" stroke="#111" stroke-width="2.6" />
<line x1="1015.5" y1="1314.4" x2="1015.5" y2="1323.9" stroke="#111" stroke-width="2.6" />
<line x1="1114.5" y1="1314.4" x2="1114.5" y2="1323.9" stroke="#111" stroke-width="2.6" />
<line x1="876.1" y1="1314.4" x2="876.1" y2="1319.4" stroke="#111" stroke-width="1.4" />
<line x1="885.8" y1="1314.4" x2="885.8" y2="1319.4" stroke="#111" stroke-width="1.4" />
<line x1="893.7" y1="1314.4" x2="893.7" y2="1319.4" stroke="#111" stroke-width="1.4" />
<line x1="900.4" y1="1314.4" x2="900.4" y2="1319.4" stroke="#111" stroke-width="1.4" />
<line x1="906.1" y1="1314.4" x2="906.1" y2="1319.4" stroke="#111" stroke-width="1.4" />
<line x1="911.2" y1="1314.4" x2="911.2" y2="1319.4" stroke="#111" stroke-width="1.4" />
<line x1="945.8" y1="1314.4" x2="945.8" y2="1319.4" stroke="#111" stroke-width="1.4" />
<line x1="963.4" y1="1314.4" x2="963.4" y2="1319.4" stroke="#111" stroke-width="1.4" />
<line x1="975.8" y1="1314.4" x2="975.8" y2="1319.4" stroke="#111" stroke-width="1.4" />
<line x1="985.5" y1="1314.4" x2="985.5" y2="1319.4" stroke="#111" stroke-width="1.4" />
<line x1="993.4" y1="1314.4" x2="993.4" y2="1319.4" stroke="#111" stroke-width="1.4" />
<line x1="1000.1" y1="1314.4" x2="1000.1" y2="1319.4" stroke="#111" stroke-width="1.4" />
<line x1="1005.8" y1="1314.4" x2="1005.8" y2="1319.4" stroke="#111" stroke-width="1.4" />
<line x1="1010.9" y1="1314.4" x2="1010.9" y2="1319.4" stroke="#111" stroke-width="1.4" />
<line x1="1045.3" y1="1314.4" x2="1045.3" y2="1319.4" stroke="#111" stroke-width="1.4" />
<line x1="1062.7" y1="1314.4" x2="1062.7" y2="1319.4" stroke="#111" stroke-width="1.4" />
<line x1="1075.1" y1="1314.4" x2="1075.1" y2="1319.4" stroke="#111" stroke-width="1.4" />
<line x1="1084.7" y1="1314.4" x2="1084.7" y2="1319.4" stroke="#111" stroke-width="1.4" />
<line x1="1092.5" y1="1314.4" x2="1092.5" y2="1319.4" stroke="#111" stroke-width="1.4" />
<line x1="1099.2" y1="1314.4" x2="1099.2" y2="1319.4" stroke="#111" stroke-width="1.4" />
<line x1="1104.9" y1="1314.4" x2="1104.9" y2="1319.4" stroke="#111" stroke-width="1.4" />
<line x1="1110" y1="1314.4" x2="1110" y2="1319.4" stroke="#111" stroke-width="1.4" />
<line x1="1144.5" y1="1314.4" x2="1144.5" y2="1319.4" stroke="#111" stroke-width="1.4" />
<text x="904.3" y="1366.4" font-size="23" stroke="#000" stroke-width="0.5">10<tspan dy="-15">3</tspan></text>
<text x="1004" y="1366.4" font-size="23" stroke="#000" stroke-width="0.5">10<tspan dy="-15">4</tspan></text>
<text x="1103" y="1366.4" font-size="23" stroke="#000" stroke-width="0.5">10<tspan dy="-15">5</tspan></text>
<line x1="867.9" y1="1218.3" x2="998.9" y2="1218.3" stroke="#111" stroke-width="1.5" />
<line x1="998.9" y1="1234.2" x2="1158" y2="1234.2" stroke="#111" stroke-width="1.5" />
<line x1="998.9" y1="1212.3" x2="998.9" y2="1239.6" stroke="#111" stroke-width="1.8" />
<line x1="1157.5" y1="1227.2" x2="1157.5" y2="1241.2" stroke="#111" stroke-width="2" />
<text x="873.1" y="1062.8" font-size="29.3" font-style="italic" stroke="#000" stroke-width="0.4">86.6</text>
<text x="1125.2" y="1062.8" font-size="29.3" text-anchor="end" font-style="italic" stroke="#000" stroke-width="0.4">13.4</text>
<text x="905.1" y="1211" font-size="23" font-style="italic" stroke="#000" stroke-width="0.4">Ros<tspan font-size="11" dy="-8">-</tspan></text>
<text x="1060.1" y="1229" font-size="23" font-style="italic" stroke="#000" stroke-width="0.4">Ros<tspan font-size="13" dy="-7">+</tspan></text>
<text x="1007.2" y="991.5" font-size="24.1" text-anchor="middle">NC mimic-Exo+DFO</text>
<path d="M1256.4,1312 C1257.2,1312.2 1253.3,1313 1260.7,1313.2 C1268.2,1313.4 1293.6,1313.6 1301.1,1313.2 C1308.6,1312.8 1304.2,1311.8 1305.8,1310.8 C1307.4,1309.8 1309,1309.1 1310.6,1307.3 C1312.1,1305.5 1313.9,1302.7 1315.3,1300.1 C1316.7,1297.6 1317.7,1295.6 1318.9,1291.8 C1320.1,1288.1 1321.4,1283.1 1322.4,1277.6 C1323.4,1272.1 1324,1265.7 1324.8,1258.6 C1325.6,1251.5 1326.4,1243.6 1327.2,1234.9 C1328,1226.2 1328.8,1216.3 1329.6,1206.4 C1330.3,1196.5 1331.1,1185.4 1331.9,1175.5 C1332.7,1165.6 1333.5,1156.9 1334.3,1147 C1335.1,1137.1 1335.9,1126.1 1336.7,1116.2 C1337.5,1106.3 1338.3,1093.4 1339.1,1087.7 C1339.8,1081.9 1340.6,1084.1 1341.4,1081.8 C1342.2,1079.4 1343.2,1074 1343.8,1073.4 C1344.4,1072.8 1344.6,1075 1345,1078.2 C1345.4,1081.4 1345.4,1089.7 1346.2,1092.4 C1347,1095.2 1348.7,1093.6 1349.7,1094.8 C1350.7,1096 1351.3,1096 1352.1,1099.6 C1352.9,1103.1 1353.7,1110.2 1354.5,1116.2 C1355.3,1122.1 1355.9,1131.6 1356.9,1135.2 C1357.8,1138.7 1359.4,1134.8 1360.4,1137.5 C1361.4,1140.3 1362,1146.2 1362.8,1151.8 C1363.6,1157.3 1364.2,1166.4 1365.2,1170.8 C1366.2,1175.1 1367.7,1175.1 1368.7,1177.9 C1369.7,1180.7 1370.3,1184.2 1371.1,1187.4 C1371.9,1190.6 1372.7,1195.7 1373.5,1196.9 C1374.3,1198.1 1375.1,1195.7 1375.8,1194.5 C1376.6,1193.3 1377.4,1188.6 1378.2,1189.8 C1379,1190.9 1379.8,1198.1 1380.6,1201.6 C1381.4,1205.2 1382,1208.4 1383,1211.1 C1384,1213.9 1385.3,1215.1 1386.5,1218.2 C1387.7,1221.4 1388.9,1227 1390.1,1230.1 C1391.3,1233.3 1392.3,1234.9 1393.6,1237.2 C1395,1239.6 1396.8,1242 1398.4,1244.4 C1400,1246.7 1401.6,1249.5 1403.1,1251.5 C1404.7,1253.5 1406.3,1254.6 1407.9,1256.2 C1409.5,1257.8 1411.1,1259.4 1412.6,1261 C1414.2,1262.6 1415.8,1263.7 1417.4,1265.7 C1419,1267.7 1420.6,1271.7 1422.1,1272.8 C1423.7,1274 1425.3,1272.1 1426.9,1272.8 C1428.5,1273.6 1430,1275.6 1431.6,1277.6 C1433.2,1279.6 1434.8,1283.3 1436.4,1284.7 C1438,1286.1 1439.5,1284.9 1441.1,1285.9 C1442.7,1286.9 1444.3,1289.3 1445.9,1290.7 C1447.5,1292 1449,1293 1450.6,1294.2 C1452.2,1295.4 1453.8,1296.6 1455.4,1297.8 C1457,1299 1458.1,1300.4 1460.1,1301.3 C1462.1,1302.2 1464.5,1302.4 1467.2,1303.2 C1470,1304 1473.6,1305 1476.7,1306.1 C1479.9,1307.2 1483.1,1308.7 1486.2,1309.6 C1489.4,1310.6 1492.6,1311.4 1495.7,1312 C1498.9,1312.6 1496.7,1313 1505.2,1313.2 C1513.7,1313.4 1539.8,1313.2 1546.8,1313.2 L1546.8,1314.4 L1256.4,1314.4 Z" fill="#9c99dc" />
<path d="M1256.4,1312 C1257.2,1312.2 1253.3,1313 1260.7,1313.2 C1268.2,1313.4 1293.6,1313.6 1301.1,1313.2 C1308.6,1312.8 1304.2,1311.8 1305.8,1310.8 C1307.4,1309.8 1309,1309.1 1310.6,1307.3 C1312.1,1305.5 1313.9,1302.7 1315.3,1300.1 C1316.7,1297.6 1317.7,1295.6 1318.9,1291.8 C1320.1,1288.1 1321.4,1283.1 1322.4,1277.6 C1323.4,1272.1 1324,1265.7 1324.8,1258.6 C1325.6,1251.5 1326.4,1243.6 1327.2,1234.9 C1328,1226.2 1328.8,1216.3 1329.6,1206.4 C1330.3,1196.5 1331.1,1185.4 1331.9,1175.5 C1332.7,1165.6 1333.5,1156.9 1334.3,1147 C1335.1,1137.1 1335.9,1126.1 1336.7,1116.2 C1337.5,1106.3 1338.3,1093.4 1339.1,1087.7 C1339.8,1081.9 1340.6,1084.1 1341.4,1081.8 C1342.2,1079.4 1343.2,1074 1343.8,1073.4 C1344.4,1072.8 1344.6,1075 1345,1078.2 C1345.4,1081.4 1345.4,1089.7 1346.2,1092.4 C1347,1095.2 1348.7,1093.6 1349.7,1094.8 C1350.7,1096 1351.3,1096 1352.1,1099.6 C1352.9,1103.1 1353.7,1110.2 1354.5,1116.2 C1355.3,1122.1 1355.9,1131.6 1356.9,1135.2 C1357.8,1138.7 1359.4,1134.8 1360.4,1137.5 C1361.4,1140.3 1362,1146.2 1362.8,1151.8 C1363.6,1157.3 1364.2,1166.4 1365.2,1170.8 C1366.2,1175.1 1367.7,1175.1 1368.7,1177.9 C1369.7,1180.7 1370.3,1184.2 1371.1,1187.4 C1371.9,1190.6 1372.7,1195.7 1373.5,1196.9 C1374.3,1198.1 1375.1,1195.7 1375.8,1194.5 C1376.6,1193.3 1377.4,1188.6 1378.2,1189.8 C1379,1190.9 1379.8,1198.1 1380.6,1201.6 C1381.4,1205.2 1382,1208.4 1383,1211.1 C1384,1213.9 1385.3,1215.1 1386.5,1218.2 C1387.7,1221.4 1388.9,1227 1390.1,1230.1 C1391.3,1233.3 1392.3,1234.9 1393.6,1237.2 C1395,1239.6 1396.8,1242 1398.4,1244.4 C1400,1246.7 1401.6,1249.5 1403.1,1251.5 C1404.7,1253.5 1406.3,1254.6 1407.9,1256.2 C1409.5,1257.8 1411.1,1259.4 1412.6,1261 C1414.2,1262.6 1415.8,1263.7 1417.4,1265.7 C1419,1267.7 1420.6,1271.7 1422.1,1272.8 C1423.7,1274 1425.3,1272.1 1426.9,1272.8 C1428.5,1273.6 1430,1275.6 1431.6,1277.6 C1433.2,1279.6 1434.8,1283.3 1436.4,1284.7 C1438,1286.1 1439.5,1284.9 1441.1,1285.9 C1442.7,1286.9 1444.3,1289.3 1445.9,1290.7 C1447.5,1292 1449,1293 1450.6,1294.2 C1452.2,1295.4 1453.8,1296.6 1455.4,1297.8 C1457,1299 1458.1,1300.4 1460.1,1301.3 C1462.1,1302.2 1464.5,1302.4 1467.2,1303.2 C1470,1304 1473.6,1305 1476.7,1306.1 C1479.9,1307.2 1483.1,1308.7 1486.2,1309.6 C1489.4,1310.6 1492.6,1311.4 1495.7,1312 C1498.9,1312.6 1496.7,1313 1505.2,1313.2 C1513.7,1313.4 1539.8,1313.2 1546.8,1313.2" fill="none" stroke="#2323c8" stroke-width="2.2" stroke-linejoin="round"/>
<rect x="1256.4" y="1025.3" width="290.4" height="289.1" fill="none" stroke="#111" stroke-width="1.6" />
<line x1="1246.7" y1="1313.2" x2="1256.4" y2="1313.2" stroke="#111" stroke-width="2.2" />
<line x1="1251.6" y1="1300.3" x2="1256.4" y2="1300.3" stroke="#111" stroke-width="1.4" />
<line x1="1251.6" y1="1287.4" x2="1256.4" y2="1287.4" stroke="#111" stroke-width="1.4" />
<line x1="1251.6" y1="1274.6" x2="1256.4" y2="1274.6" stroke="#111" stroke-width="1.4" />
<line x1="1251.6" y1="1261.7" x2="1256.4" y2="1261.7" stroke="#111" stroke-width="1.4" />
<line x1="1246.7" y1="1248.8" x2="1256.4" y2="1248.8" stroke="#111" stroke-width="2.2" />
<line x1="1251.6" y1="1235.9" x2="1256.4" y2="1235.9" stroke="#111" stroke-width="1.4" />
<line x1="1251.6" y1="1223" x2="1256.4" y2="1223" stroke="#111" stroke-width="1.4" />
<line x1="1251.6" y1="1210.2" x2="1256.4" y2="1210.2" stroke="#111" stroke-width="1.4" />
<line x1="1251.6" y1="1197.3" x2="1256.4" y2="1197.3" stroke="#111" stroke-width="1.4" />
<line x1="1246.7" y1="1184.4" x2="1256.4" y2="1184.4" stroke="#111" stroke-width="2.2" />
<line x1="1251.6" y1="1171.5" x2="1256.4" y2="1171.5" stroke="#111" stroke-width="1.4" />
<line x1="1251.6" y1="1158.6" x2="1256.4" y2="1158.6" stroke="#111" stroke-width="1.4" />
<line x1="1251.6" y1="1145.8" x2="1256.4" y2="1145.8" stroke="#111" stroke-width="1.4" />
<line x1="1251.6" y1="1132.9" x2="1256.4" y2="1132.9" stroke="#111" stroke-width="1.4" />
<line x1="1246.7" y1="1120" x2="1256.4" y2="1120" stroke="#111" stroke-width="2.2" />
<line x1="1251.6" y1="1107.1" x2="1256.4" y2="1107.1" stroke="#111" stroke-width="1.4" />
<line x1="1251.6" y1="1094.2" x2="1256.4" y2="1094.2" stroke="#111" stroke-width="1.4" />
<line x1="1251.6" y1="1081.4" x2="1256.4" y2="1081.4" stroke="#111" stroke-width="1.4" />
<line x1="1251.6" y1="1068.5" x2="1256.4" y2="1068.5" stroke="#111" stroke-width="1.4" />
<line x1="1246.7" y1="1055.6" x2="1256.4" y2="1055.6" stroke="#111" stroke-width="2.2" />
<line x1="1251.6" y1="1042.7" x2="1256.4" y2="1042.7" stroke="#111" stroke-width="1.4" />
<line x1="1251.6" y1="1029.8" x2="1256.4" y2="1029.8" stroke="#111" stroke-width="1.4" />
<text x="1239.4" y="1070.8" font-size="22.4" text-anchor="end" stroke="#000" stroke-width="0.5">200</text>
<text x="1239.4" y="1134.9" font-size="22.4" text-anchor="end" stroke="#000" stroke-width="0.5">150</text>
<text x="1239.4" y="1199" font-size="22.4" text-anchor="end" stroke="#000" stroke-width="0.5">100</text>
<text x="1239.4" y="1263" font-size="22.4" text-anchor="end" stroke="#000" stroke-width="0.5">50</text>
<text x="1239.4" y="1314.1" font-size="22.4" text-anchor="end" stroke="#000" stroke-width="0.5">0</text>
<line x1="1304.6" y1="1314.4" x2="1304.6" y2="1323.9" stroke="#111" stroke-width="2.6" />
<line x1="1404.3" y1="1314.4" x2="1404.3" y2="1323.9" stroke="#111" stroke-width="2.6" />
<line x1="1502.8" y1="1314.4" x2="1502.8" y2="1323.9" stroke="#111" stroke-width="2.6" />
<line x1="1264.9" y1="1314.4" x2="1264.9" y2="1319.4" stroke="#111" stroke-width="1.4" />
<line x1="1274.6" y1="1314.4" x2="1274.6" y2="1319.4" stroke="#111" stroke-width="1.4" />
<line x1="1282.5" y1="1314.4" x2="1282.5" y2="1319.4" stroke="#111" stroke-width="1.4" />
<line x1="1289.2" y1="1314.4" x2="1289.2" y2="1319.4" stroke="#111" stroke-width="1.4" />
<line x1="1294.9" y1="1314.4" x2="1294.9" y2="1319.4" stroke="#111" stroke-width="1.4" />
<line x1="1300" y1="1314.4" x2="1300" y2="1319.4" stroke="#111" stroke-width="1.4" />
<line x1="1334.6" y1="1314.4" x2="1334.6" y2="1319.4" stroke="#111" stroke-width="1.4" />
<line x1="1352.2" y1="1314.4" x2="1352.2" y2="1319.4" stroke="#111" stroke-width="1.4" />
<line x1="1364.6" y1="1314.4" x2="1364.6" y2="1319.4" stroke="#111" stroke-width="1.4" />
<line x1="1374.3" y1="1314.4" x2="1374.3" y2="1319.4" stroke="#111" stroke-width="1.4" />
<line x1="1382.2" y1="1314.4" x2="1382.2" y2="1319.4" stroke="#111" stroke-width="1.4" />
<line x1="1388.9" y1="1314.4" x2="1388.9" y2="1319.4" stroke="#111" stroke-width="1.4" />
<line x1="1394.6" y1="1314.4" x2="1394.6" y2="1319.4" stroke="#111" stroke-width="1.4" />
<line x1="1399.7" y1="1314.4" x2="1399.7" y2="1319.4" stroke="#111" stroke-width="1.4" />
<line x1="1434" y1="1314.4" x2="1434" y2="1319.4" stroke="#111" stroke-width="1.4" />
<line x1="1451.3" y1="1314.4" x2="1451.3" y2="1319.4" stroke="#111" stroke-width="1.4" />
<line x1="1463.6" y1="1314.4" x2="1463.6" y2="1319.4" stroke="#111" stroke-width="1.4" />
<line x1="1473.1" y1="1314.4" x2="1473.1" y2="1319.4" stroke="#111" stroke-width="1.4" />
<line x1="1480.9" y1="1314.4" x2="1480.9" y2="1319.4" stroke="#111" stroke-width="1.4" />
<line x1="1487.5" y1="1314.4" x2="1487.5" y2="1319.4" stroke="#111" stroke-width="1.4" />
<line x1="1493.3" y1="1314.4" x2="1493.3" y2="1319.4" stroke="#111" stroke-width="1.4" />
<line x1="1498.3" y1="1314.4" x2="1498.3" y2="1319.4" stroke="#111" stroke-width="1.4" />
<line x1="1532.8" y1="1314.4" x2="1532.8" y2="1319.4" stroke="#111" stroke-width="1.4" />
<text x="1293.1" y="1366.4" font-size="23" stroke="#000" stroke-width="0.5">10<tspan dy="-15">3</tspan></text>
<text x="1392.8" y="1366.4" font-size="23" stroke="#000" stroke-width="0.5">10<tspan dy="-15">4</tspan></text>
<text x="1491.3" y="1366.4" font-size="23" stroke="#000" stroke-width="0.5">10<tspan dy="-15">5</tspan></text>
<line x1="1256.4" y1="1218.3" x2="1387.2" y2="1218.3" stroke="#111" stroke-width="1.5" />
<line x1="1387.2" y1="1234.2" x2="1546.8" y2="1234.2" stroke="#111" stroke-width="1.5" />
<line x1="1387.2" y1="1212.3" x2="1387.2" y2="1239.6" stroke="#111" stroke-width="1.8" />
<line x1="1546.3" y1="1227.2" x2="1546.3" y2="1241.2" stroke="#111" stroke-width="2" />
<text x="1263.6" y="1062.8" font-size="29.3" font-style="italic" stroke="#000" stroke-width="0.4">73.7</text>
<text x="1514.7" y="1062.8" font-size="29.3" text-anchor="end" font-style="italic" stroke="#000" stroke-width="0.4">26.3</text>
<text x="1272.6" y="1211" font-size="23" font-style="italic" stroke="#000" stroke-width="0.4">Ros<tspan font-size="11" dy="-8">-</tspan></text>
<text x="1461.3" y="1229" font-size="23" font-style="italic" stroke="#000" stroke-width="0.4">Ros<tspan font-size="13" dy="-7">+</tspan></text>
<text x="1400.3" y="991.5" font-size="24.1" text-anchor="middle">miR-26a mimic-Exo+DFO</text>
<rect x="41.2" y="588.8" width="341.2" height="226.8" fill="#05020c" />
<g clip-path="url(#clip11)"><g filter="url(#dotblur)">
<path d="M66 589h1.2M162 589h0.6M254 590h0.6M301 590h1.2M374 590h0.6M142 597h0M124 605h0.6M361 611h0M69 625h0M147 625h0M200 623h0M236 624h0M302 623h0M211 630h0.6M114 640h0.6M327 637h1.2M72 657h0.6M287 662h0.6M204 678h0M316 679h0.6M57 690h0.6M86 690h0M141 700h1.2M226 704h0M301 706h0M56 710h0M103 719h1.2M200 718h1.2M143 723h0.6M236 733h0M351 731h0.6M61 738h0M273 737h1.2M140 767h0M199 771h0.6M307 773h0.6M62 783h0M57 790h0M80 792h0.6M45 798h0M62 806h1.2" stroke="#0606f0" stroke-width="3.9" stroke-linecap="round" fill="none"/>
<path d="M88 590h0M287 592h0M97 609h1.2M344 610h1.2M224 624h0.6M158 637h0.6M234 639h0.6M356 637h0M348 643h1.2M214 652h0.6M252 652h1.2M312 651h0M356 663h0M52 678h0.6M310 679h0M370 680h0.6M52 685h0.6M236 683h1.2M263 686h0.6M114 690h1.2M270 697h1.2M73 704h1.2M130 704h0M366 719h0M110 725h0.6M300 724h0.6M375 725h0M161 740h1.2M79 753h0.6M141 752h1.2M375 751h0M231 758h0M239 760h0.6M160 766h0M274 764h0M366 773h0M95 777h1.2M370 779h0.6M244 791h1.2M347 791h1.2M187 804h1.2M249 806h0M68 810h1.2" stroke="#1414ff" stroke-width="3.9" stroke-linecap="round" fill="none"/>
<path d="M118 589h0M170 590h0M262 597h0M148 602h1.2M221 606h0.6M289 606h0.6M373 602h0M112 613h0M114 626h0.6M138 638h0.6M372 637h0M245 644h0M293 645h1.2M189 651h0.6M135 678h0.6M345 684h0.6M249 699h0M63 704h0.6M96 706h0M234 705h0.6M277 706h0.6M107 710h0M210 711h0.6M162 732h0M225 731h1.2M92 740h0M111 740h0M207 739h1.2M267 739h0.6M137 746h0M209 745h0.6M58 753h0.6M47 757h0M147 757h0.6M155 759h0.6M190 758h1.2M127 763h0M171 772h1.2M341 779h0M206 785h0M330 794h0.6M373 793h1.2M99 797h0.6M330 798h0.6M351 807h0.6M115 812h0.6M227 812h0" stroke="#0606f0" stroke-width="4.9" stroke-linecap="round" fill="none"/>
<path d="M127 591h0M225 593h0M331 591h0M51 598h1.2M95 597h0.6M150 596h1.2M281 597h1.2M110 604h1.2M380 604h1.2M44 609h1.2M59 612h1.2M63 619h0M52 624h1.2M352 624h0M47 637h0.6M168 637h0.6M209 644h0M127 653h0M382 652h1.2M212 656h0.6M281 659h1.2M308 663h0M316 664h0M112 669h1.2M159 671h0.6M254 671h0M242 679h0M101 685h0.6M61 698h1.2M102 700h0M220 703h0.6M136 711h0.6M247 712h0M376 710h0.6M354 720h0M166 726h1.2M253 726h1.2M308 724h0M279 737h0.6M89 743h0M305 751h1.2M70 766h0.6M225 764h1.2M216 770h0.6M211 778h1.2M317 777h0.6M252 793h0.6M161 799h0M203 806h1.2M233 806h0M358 804h1.2M375 805h0.6" stroke="#0808d8" stroke-width="4.9" stroke-linecap="round" fill="none"/>
<path d="M132 589h0.6M348 597h0.6M77 603h0.6M208 605h0M118 609h0.6M135 611h1.2M219 609h1.2M94 624h0M129 639h0.6M207 639h0M98 643h0.6M193 646h0M271 643h0.6M42 651h0.6M135 652h0.6M96 659h0.6M46 666h0.6M198 670h1.2M84 678h0.6M275 685h1.2M335 684h0M151 691h0M311 696h0M332 697h1.2M80 705h0.6M285 704h1.2M307 704h1.2M356 703h0.6M200 710h0M275 711h0M79 726h0.6M154 732h0.6M216 730h1.2M375 732h0.6M235 738h0.6M128 747h0M284 746h1.2M353 745h0M122 750h1.2M135 753h0M321 759h0.6M115 764h1.2M74 770h1.2M91 771h1.2M338 772h1.2M88 779h0.6M187 778h1.2M86 787h0.6M304 787h1.2M196 797h0M203 799h1.2M265 798h1.2M111 805h0.6M45 811h0.6" stroke="#1010f8" stroke-width="4.4" stroke-linecap="round" fill="none"/>
<path d="M143 591h0M103 596h0M183 599h0M85 604h0.6M86 617h0M329 626h1.2M303 632h0M346 637h0.6M366 638h0.6M216 644h0.6M309 644h0.6M361 646h0.6M88 649h0M208 651h0M68 664h0.6M280 679h1.2M204 685h0.6M243 683h0M51 692h1.2M209 699h0M161 706h1.2M256 703h0M263 705h0M60 710h1.2M173 711h1.2M143 733h0.6M316 730h1.2M179 739h1.2M154 744h0M101 751h0M173 753h0M219 752h1.2M250 752h0.6M93 758h1.2M172 767h0.6M104 771h1.2M161 773h1.2M213 785h0.6M274 790h0.6M315 790h0M364 793h1.2M167 797h0.6M95 805h0M193 805h0M300 805h1.2M321 807h0M207 812h1.2M381 813h0.6" stroke="#0c0cff" stroke-width="3.9" stroke-linecap="round" fill="none"/>
<path d="M196 592h0M95 605h0M344 603h0M90 610h0M270 617h0.6M62 626h0M107 625h1.2M281 623h0M126 633h0.6M133 630h0M218 636h1.2M152 651h0.6M345 652h0.6M102 658h0M165 664h0.6M331 664h0.6M58 679h1.2M122 679h0M258 680h1.2M96 689h1.2M225 690h0.6M267 692h0M163 698h0.6M177 696h0.6M194 699h0.6M293 698h1.2M112 705h0M47 712h0.6M117 710h0M168 719h0.6M345 718h0.6M97 723h0M291 725h0.6M332 726h0.6M285 732h0.6M106 744h0.6M191 745h0.6M200 744h0.6M262 746h0M146 750h0M205 753h0.6M235 752h1.2M364 751h0M362 760h0.6M184 764h0.6M153 770h1.2M108 780h1.2M170 779h0M367 786h1.2M61 793h1.2M124 792h0M128 799h0.6M53 805h0.6M178 804h0.6M266 803h1.2M311 807h0.6M55 812h0.6M250 811h0.6" stroke="#1414ff" stroke-width="4.4" stroke-linecap="round" fill="none"/>
<path d="M213 591h1.2M68 597h0.6M80 599h0.6M252 596h0M269 598h0M247 603h1.2M294 603h1.2M252 612h0M154 617h0M163 620h0.6M266 626h0M344 626h0M62 630h0.6M144 630h0.6M309 632h0.6M173 636h0M321 639h0M150 645h0.6M112 664h0M299 663h1.2M52 669h0M144 669h1.2M323 673h0M45 676h1.2M224 678h1.2M288 679h1.2M305 678h0M43 686h1.2M57 686h1.2M153 683h1.2M69 696h0M216 698h0.6M292 707h0.6M94 716h0.6M215 716h1.2M97 732h0M194 732h0M358 732h0.6M148 737h1.2M358 740h1.2M160 744h1.2M157 752h0.6M101 760h1.2M375 759h0.6M99 764h1.2M179 764h0M125 772h0.6M139 780h0M333 787h0M233 790h0M68 797h0.6M288 800h1.2M280 810h1.2" stroke="#0404c0" stroke-width="3.9" stroke-linecap="round" fill="none"/>
<path d="M242 589h0M280 589h1.2M88 599h0M199 597h1.2M185 612h1.2M193 612h0.6M353 617h1.2M220 623h1.2M359 622h0.6M172 632h0M279 630h0M182 636h0.6M114 651h0.6M175 652h0.6M260 650h0M335 651h1.2M196 656h0M289 659h1.2M158 665h0M219 665h0.6M105 677h0M182 685h1.2M191 685h0.6M212 686h0.6M251 686h0M74 692h1.2M93 699h0M364 700h0.6M373 699h0M319 705h0M86 717h0.6M161 719h1.2M332 717h1.2M220 726h0.6M264 725h0.6M148 730h0M126 738h0.6M369 739h0.6M368 743h0M181 752h0.6M221 758h1.2M92 765h0M65 778h0M154 778h1.2M334 780h1.2M375 785h1.2M155 793h0.6M218 791h1.2M209 799h1.2M163 811h1.2" stroke="#0808d8" stroke-width="4.4" stroke-linecap="round" fill="none"/>
<path d="M246 591h0.6M370 590h0M168 606h0M263 604h1.2M47 622h0M77 626h1.2M273 624h1.2M120 629h1.2M240 633h1.2M371 629h1.2M63 637h0.6M70 636h1.2M198 636h0.6M60 644h1.2M354 644h1.2M221 651h1.2M216 658h0M206 666h0.6M340 666h1.2M348 678h0M128 690h0.6M150 699h0M316 698h1.2M84 712h0.6M129 718h0M193 717h0M225 718h0.6M287 718h0M348 723h1.2M112 730h1.2M62 746h0M65 753h0M166 750h0M115 758h0.6M134 758h1.2M212 758h1.2M270 758h0.6M302 772h0M372 772h0M270 777h0M91 783h0.6M380 785h1.2M142 792h0.6M204 792h0.6M124 807h1.2M301 810h0M310 810h1.2" stroke="#1414ff" stroke-width="4.9" stroke-linecap="round" fill="none"/>
<path d="M294 592h0M136 598h0.6M219 596h0.6M370 596h1.2M141 603h0M320 603h1.2M157 613h0.6M244 612h0.6M336 612h0M46 616h1.2M171 626h0.6M282 636h1.2M126 646h0M187 643h1.2M201 645h0M76 652h0.6M282 652h1.2M109 657h0M224 664h0M166 671h0M183 670h0M231 671h0.6M69 680h0.6M331 677h0.6M88 684h0M322 683h1.2M329 691h0M337 690h1.2M83 696h0M200 697h0.6M353 713h0.6M118 718h0.6M375 718h0.6M89 724h0M171 726h1.2M370 726h0M74 733h0.6M101 731h0M366 732h0.6M82 737h0M342 737h1.2M375 739h0.6M211 752h0M255 753h1.2M288 751h0.6M318 753h1.2M138 757h1.2M56 765h1.2M217 765h0.6M327 764h0.6M163 777h0.6M295 779h0.6M77 783h0M291 787h0M73 790h0.6M86 800h0.6M124 800h0M83 803h0M218 806h0" stroke="#1010f8" stroke-width="4.9" stroke-linecap="round" fill="none"/>
<path d="M307 591h0M357 605h0.6M202 613h0M310 610h0M368 610h0.6M70 617h0.6M149 620h0M277 619h0.6M361 616h0M77 631h0M355 631h0.6M279 646h0M300 644h0.6M238 650h0.6M297 653h0M224 657h1.2M233 657h0M353 657h1.2M187 663h0.6M136 673h1.2M336 671h0.6M196 680h0M217 679h0M112 685h1.2M222 685h1.2M304 686h0.6M121 692h1.2M107 696h0M154 699h0.6M144 704h1.2M152 704h0M185 712h0.6M332 710h0.6M252 717h0M104 725h1.2M325 726h0M355 726h1.2M132 739h1.2M170 739h1.2M170 744h0M117 753h1.2M265 753h0M68 758h0.6M176 758h0M256 758h0.6M261 759h1.2M241 765h0M79 770h1.2M224 770h1.2M229 770h1.2M60 778h0.6M342 787h0M108 793h0.6M147 792h1.2M338 794h0.6M236 800h0.6M69 806h0M346 803h0M295 810h0M339 814h0.6" stroke="#0c0cff" stroke-width="4.9" stroke-linecap="round" fill="none"/>
<path d="M354 592h0M57 598h1.2M245 599h0M289 597h0.6M379 598h0M103 606h0.6M184 603h0.6M71 613h0M127 610h0M252 616h1.2M46 631h0M361 633h0.6M256 638h0.6M350 639h0.6M358 651h0M88 657h1.2M322 657h0.6M129 663h0.6M127 672h1.2M339 677h1.2M173 686h0M198 685h0M137 691h1.2M160 690h0M205 691h0M240 692h0.6M323 691h1.2M187 697h1.2M97 712h0.6M193 713h0.6M286 712h0.6M126 724h0.6M203 723h0M67 733h0M144 745h0M359 753h0.6M170 760h1.2M320 764h0M344 766h0M115 772h1.2M238 771h0M146 778h1.2M196 779h0M137 784h0.6M46 791h1.2M103 791h1.2M266 790h0M59 798h0.6M136 800h0.6M248 797h0M141 810h0M363 813h0" stroke="#1010f8" stroke-width="3.9" stroke-linecap="round" fill="none"/>
<path d="M362 591h0.6M108 597h0.6M235 596h0.6M355 598h0M238 603h1.2M228 612h1.2M283 611h0M324 610h0M104 619h1.2M142 616h0M178 617h0.6M318 618h0.6M107 633h0.6M323 631h1.2M376 631h1.2M92 639h0.6M290 636h1.2M50 644h0.6M145 644h0M163 646h0M224 645h0M335 644h0.6M121 658h0M371 666h1.2M58 673h1.2M84 671h0.6M117 698h0.6M256 698h0M341 698h1.2M154 713h0.6M253 713h1.2M264 717h0.6M323 719h0M339 717h1.2M221 738h0M76 745h1.2M83 745h0.6M108 756h0M200 759h1.2M375 765h1.2M51 773h1.2M97 773h1.2M357 783h1.2M94 791h0M172 791h0.6M188 800h0M367 799h0.6M94 812h1.2M107 811h1.2M173 812h0M233 810h0M358 813h0.6M370 813h0.6" stroke="#0808d8" stroke-width="3.9" stroke-linecap="round" fill="none"/>
<path d="M128 598h0M46 604h1.2M132 606h0.6M103 611h1.2M239 616h0M256 626h0M228 632h0M296 632h0M143 636h0.6M249 639h0.6M111 644h1.2M179 644h0.6M326 652h0.6M65 657h0M134 658h1.2M276 657h0.6M75 663h0M255 666h0.6M294 665h0M89 671h0.6M76 678h0M179 678h0.6M266 679h1.2M293 679h0M119 686h0.6M125 683h0M159 686h1.2M359 686h0M82 691h0.6M274 690h0M344 693h0.6M376 693h0.6M123 703h0.6M188 705h0M131 711h0M146 713h0.6M48 719h1.2M110 718h1.2M153 720h0.6M119 731h0M127 731h1.2M135 733h0.6M99 744h1.2M268 746h0M108 751h1.2M54 757h0.6M86 760h0.6M183 758h0.6M202 765h0.6M193 770h0.6M208 771h0.6M354 778h0.6M252 787h1.2M51 800h0.6M218 797h0.6M228 797h0M83 811h0M98 814h1.2M242 813h0M315 813h1.2" stroke="#0404c0" stroke-width="4.9" stroke-linecap="round" fill="none"/>
<path d="M307 596h1.2M217 606h1.2M143 609h0M266 610h0M376 625h0M163 632h1.2M313 636h1.2M170 646h1.2M316 645h0.6M370 645h1.2M288 651h0M244 657h0M327 658h0.6M122 665h0M222 671h0M307 672h0M111 680h0M74 686h1.2M80 686h1.2M364 683h0.6M374 685h0M143 691h0M306 691h0.6M50 706h1.2M213 703h0M369 710h0M228 718h1.2M311 718h1.2M226 752h0M127 760h0M313 760h0M336 757h0.6M77 764h1.2M358 767h1.2M369 766h1.2M294 771h1.2M221 780h0M378 779h0M149 785h0.6M175 785h1.2M349 786h0M324 791h1.2M173 799h1.2M240 798h0M258 813h0" stroke="#0404c0" stroke-width="4.4" stroke-linecap="round" fill="none"/>
<path d="M362 598h1.2M154 603h0.6M230 604h0.6M261 609h0M285 619h0M154 622h0.6M317 633h0.6M334 630h1.2M348 630h1.2M325 642h0.6M53 652h0M98 651h0.6M365 650h1.2M158 659h0M267 657h0M316 657h0.6M344 658h1.2M362 659h0.6M239 664h1.2M66 673h0.6M98 669h1.2M118 671h0.6M351 670h1.2M366 671h0.6M296 686h0.6M63 690h1.2M106 693h0M300 691h1.2M75 696h1.2M169 698h1.2M352 697h0.6M356 699h1.2M243 704h0M144 720h0.6M122 738h0.6M122 746h0M253 744h1.2M276 744h1.2M85 752h1.2M296 752h0M333 751h0M380 750h0.6M108 767h0M66 770h1.2M140 772h0M253 773h0M79 778h1.2M46 785h1.2M100 784h1.2M186 790h1.2M260 790h0M307 790h1.2M337 798h0M351 799h0M372 798h0M227 807h0.6M241 804h0M306 807h0.6M149 811h0.6" stroke="#0c0cff" stroke-width="4.4" stroke-linecap="round" fill="none"/>
<path d="M255 603h1.2M269 606h1.2M181 624h0M188 626h0M288 625h0M312 623h0.6M106 652h0M244 652h1.2M276 650h0.6M46 658h1.2M141 658h0M52 665h0M181 663h1.2M377 672h1.2M97 678h1.2M247 678h0.6M95 685h0.6M146 684h0.6M311 684h1.2M46 697h0.6M122 700h0.6M327 706h1.2M373 703h1.2M90 711h0M177 713h0M134 724h1.2M68 736h0.6M96 740h0.6M320 744h0M342 751h1.2M249 764h0.6M281 766h1.2M297 767h0M328 772h1.2M345 773h0M73 779h0M182 779h1.2M347 776h1.2M365 777h0M114 784h1.2M159 786h1.2M184 787h0.6M188 784h0.6M299 786h1.2M214 793h0M382 800h1.2M334 813h0" stroke="#0606f0" stroke-width="4.4" stroke-linecap="round" fill="none"/>
<path d="M59 593h0.6M276 597h0.6M55 605h1.2M118 603h1.2M378 617h1.2M90 632h0.6M98 631h1.2M103 643h0.6M230 645h1.2M255 644h1.2M167 651h0.6M55 658h1.2M206 670h0M294 673h0.6M319 673h0.6M377 680h0M64 683h1.2M267 710h0M210 716h1.2M274 716h0M60 757h0.6M269 770h0.6M234 786h1.2M88 792h0M380 790h1.2M310 798h0M336 805h0" stroke="#ff20d8" stroke-width="6.0" stroke-linecap="round" fill="none"/>
<path d="M81 590h0.6M117 598h0.6M54 618h1.2M328 618h0.6M152 679h0M166 679h1.2M349 686h0.6M190 691h0M280 696h0.6M307 713h0.6M304 719h1.2M76 739h0M230 747h0.6M83 764h0" stroke="#ff28e0" stroke-width="5.0" stroke-linecap="round" fill="none"/>
<path d="M98 591h0.6M204 597h0.6M310 603h0.6M83 623h0M114 633h0M336 658h0M140 678h0.6M189 680h0.6M167 685h0.6M183 692h1.2M352 691h1.2M89 706h0M205 705h0.6M105 737h0M130 770h1.2M125 780h1.2M328 780h0M145 786h1.2" stroke="#ff20d8" stroke-width="5.0" stroke-linecap="round" fill="none"/>
<path d="M104 590h1.2M353 609h1.2M296 636h0.6M233 663h0.6M237 670h1.2M248 672h0.6M257 683h0M223 710h1.2M287 737h0.6M66 746h0.6M49 750h1.2M280 753h0.6M320 773h0M266 784h1.2M255 798h1.2" stroke="#ff14c8" stroke-width="5.0" stroke-linecap="round" fill="none"/>
<path d="M109 590h0M81 610h1.2M126 616h0M256 632h1.2M118 653h1.2M351 652h0.6M262 671h1.2M91 677h0M327 730h0M44 773h0.6M276 772h1.2M273 784h0.6M181 798h0M212 810h0" stroke="#ff28e0" stroke-width="6.0" stroke-linecap="round" fill="none"/>
<path d="M179 590h0M343 618h0.6M66 646h0M197 652h0.6M212 666h0M323 664h0M344 664h1.2M364 664h0M215 709h0M156 740h0M52 746h0.6M166 786h0M198 786h0M225 793h0.6M163 806h0.6" stroke="#ff14c8" stroke-width="5.5" stroke-linecap="round" fill="none"/>
<path d="M76 598h0M377 609h1.2M196 630h1.2M226 639h1.2M91 663h0.6M340 671h0.6M172 677h0.6M362 679h1.2M379 698h0.6M182 705h1.2M304 740h1.2M47 764h1.2M172 804h1.2" stroke="#ff14c8" stroke-width="6.0" stroke-linecap="round" fill="none"/>
<path d="M166 599h1.2M182 651h1.2M156 677h0M231 692h1.2M197 723h0.6M80 731h0.6M248 731h0.6M310 779h0M345 798h0.6M209 805h0M365 804h1.2" stroke="#f010b8" stroke-width="6.0" stroke-linecap="round" fill="none"/>
<path d="M94 619h0M358 671h1.2M46 725h0.6M227 725h0M285 726h1.2M322 738h1.2M117 779h0.6M67 784h0.6" stroke="#f010b8" stroke-width="5.5" stroke-linecap="round" fill="none"/>
<path d="M261 618h1.2M122 625h1.2M203 633h0M81 656h1.2M101 666h0.6M108 663h1.2M54 697h1.2M323 698h1.2M229 710h1.2M261 718h0.6M265 730h0M312 740h0.6M245 759h0.6M219 786h0M155 805h1.2M327 803h0.6M267 812h1.2" stroke="#ff20d8" stroke-width="5.5" stroke-linecap="round" fill="none"/>
<path d="M248 624h1.2M337 639h0M259 656h0.6M378 657h0.6M188 671h1.2M241 699h0.6M163 712h0M239 711h1.2M290 712h1.2M257 732h0M307 733h1.2M93 750h0M368 758h1.2M232 765h0M184 772h0M320 798h0M60 810h0.6M188 814h0.6" stroke="#f010b8" stroke-width="5.0" stroke-linecap="round" fill="none"/>
<path d="M77 639h0.6M151 638h0M147 658h0M169 690h0.6M65 720h0.6M79 718h0.6M245 718h1.2M249 726h0M258 737h0M130 767h0M107 784h0.6M143 799h1.2M356 800h1.2" stroke="#ff28e0" stroke-width="5.5" stroke-linecap="round" fill="none"/>
</g></g>
<rect x="430" y="588.8" width="340.8" height="226.8" fill="#05020c" />
<g clip-path="url(#clip22)"><g filter="url(#dotblur)">
<path d="M454 589h0M666 591h1.2M742 593h0M600 595h1.2M701 597h0M585 603h1.2M727 602h1.2M535 618h1.2M608 617h0.6M698 615h0M463 621h0.6M520 624h0M686 623h1.2M519 629h0M632 630h1.2M479 636h0.6M593 638h0.6M658 644h0.6M491 648h0.6M551 650h1.2M628 647h0M726 651h1.2M546 653h1.2M440 663h0.6M642 663h0M671 662h0.6M550 666h1.2M690 667h0M738 674h0M746 676h0.6M479 679h0M461 688h1.2M455 696h0.6M738 693h0M510 700h1.2M512 707h0M547 706h1.2M676 705h1.2M458 712h0.6M466 714h0.6M592 714h0M684 714h1.2M697 720h0M505 731h0.6M743 732h0.6M434 746h1.2M551 745h0M717 744h1.2M733 746h0M553 752h0M609 751h0M459 763h1.2M643 764h0.6M705 765h0.6M720 780h0M604 783h1.2M649 784h0M607 790h0.6M587 803h1.2M741 802h1.2M536 811h0M702 809h0M736 812h1.2" stroke="#0808d8" stroke-width="4.4" stroke-linecap="round" fill="none"/>
<path d="M482 592h0M496 593h1.2M603 589h0M531 599h0.6M577 598h0M675 598h0.6M592 605h1.2M711 604h1.2M543 608h1.2M716 612h1.2M729 610h0M680 622h0.6M636 634h0.6M726 641h1.2M535 649h0.6M522 666h1.2M493 679h1.2M500 680h1.2M743 682h1.2M514 686h0M537 687h0.6M690 696h0.6M723 695h0M538 699h0.6M683 700h1.2M528 708h0.6M726 708h1.2M433 720h0M637 722h1.2M673 719h0M749 719h0M540 728h0M617 724h1.2M625 726h1.2M548 733h0.6M684 734h0.6M694 739h0.6M531 746h0M664 747h0M606 753h1.2M747 757h0.6M754 772h0.6M679 777h1.2M582 785h1.2M628 783h1.2M726 782h0M447 793h0M639 791h1.2M682 805h1.2M475 811h0.6M638 812h1.2M728 811h0.6" stroke="#1010f8" stroke-width="3.9" stroke-linecap="round" fill="none"/>
<path d="M506 589h0M750 591h1.2M482 609h0M548 611h1.2M513 616h0M565 616h0.6M620 616h0.6M746 617h0.6M590 624h0M452 630h0.6M473 631h0M512 630h0.6M505 649h0M568 655h0M612 661h0M646 668h0M677 667h1.2M700 669h0.6M548 675h1.2M553 676h1.2M601 676h0M662 673h1.2M450 680h0.6M555 682h0M527 688h1.2M645 694h0M717 696h0M439 702h0.6M582 700h0.6M504 709h1.2M660 706h0M688 706h0.6M657 719h1.2M755 718h1.2M479 727h1.2M583 725h1.2M693 725h0.6M711 726h0.6M674 733h0M450 740h1.2M497 738h0M531 739h0.6M532 751h1.2M510 757h0.6M622 767h1.2M733 771h0.6M744 771h0.6M578 779h0M661 777h0.6M748 784h0M522 792h1.2M759 792h0.6M592 799h0M629 796h0M695 795h0M764 795h1.2M484 804h1.2M578 804h0M724 805h0.6M523 809h1.2M605 811h0M613 809h0.6M668 810h1.2M757 812h0.6" stroke="#0c0cff" stroke-width="3.9" stroke-linecap="round" fill="none"/>
<path d="M512 590h0.6M690 589h1.2M721 592h0.6M466 599h0M488 596h0.6M506 602h1.2M696 603h0.6M502 610h0.6M564 609h1.2M579 611h0M595 611h0M543 616h1.2M578 616h0.6M567 622h0.6M593 630h0.6M464 637h0.6M631 636h0.6M742 637h1.2M506 642h0M585 650h0.6M613 647h1.2M583 656h1.2M648 655h1.2M670 655h1.2M635 660h1.2M708 660h0.6M573 683h0M705 688h1.2M766 686h0M533 692h1.2M768 695h1.2M545 702h1.2M624 701h1.2M439 708h0.6M666 709h0.6M707 708h1.2M731 706h0.6M539 711h1.2M577 715h0M703 714h1.2M601 720h0M687 720h0.6M610 732h0.6M722 732h0M736 734h0.6M525 737h0.6M732 740h0.6M471 747h0M616 744h0.6M468 750h1.2M479 754h0M566 752h0.6M667 754h0.6M716 754h0.6M643 758h0.6M667 760h0M683 758h1.2M456 770h0M636 772h0M435 777h0.6M522 784h1.2M716 786h1.2M499 789h0.6M585 790h1.2M710 791h0M477 805h0.6" stroke="#0808d8" stroke-width="4.9" stroke-linecap="round" fill="none"/>
<path d="M516 590h0.6M684 589h0M535 605h0M534 610h1.2M621 612h1.2M660 610h0.6M698 610h1.2M751 611h0.6M549 617h0.6M584 617h0.6M600 615h0.6M454 624h0M581 625h1.2M556 631h0M601 628h0.6M635 630h1.2M693 630h0M549 635h0M653 637h0M484 642h0.6M683 650h0.6M623 657h0.6M482 661h1.2M553 664h0M619 661h1.2M527 669h1.2M581 668h0.6M630 667h0M655 667h1.2M750 668h0M464 675h0M489 676h0M696 675h0M656 679h1.2M617 688h0M758 688h0.6M439 694h1.2M558 694h0M753 694h0M443 702h0M639 701h1.2M534 706h0.6M572 709h0M494 715h1.2M652 715h0M742 720h1.2M687 727h1.2M532 731h0M578 732h0M638 733h0M578 741h0.6M702 738h0M588 747h1.2M692 747h0.6M446 751h0M697 760h1.2M613 770h0.6M623 769h0M594 777h0.6M605 776h0.6M735 779h1.2M512 782h0M455 791h0M470 796h0M572 798h0M624 810h0.6M658 812h0.6M707 810h0M764 808h1.2" stroke="#0404c0" stroke-width="4.4" stroke-linecap="round" fill="none"/>
<path d="M532 590h0M608 590h1.2M655 589h0.6M450 597h1.2M524 596h0.6M627 604h1.2M600 612h0M492 617h1.2M674 615h1.2M717 617h1.2M650 624h0M466 627h1.2M624 629h0M570 634h0M758 636h0.6M523 641h1.2M576 643h0M646 649h0.6M552 656h1.2M586 654h1.2M497 660h1.2M583 662h1.2M755 662h0M756 668h1.2M473 673h0.6M594 673h0M627 674h1.2M709 674h0M433 683h1.2M492 689h0.6M582 688h0M490 695h0.6M760 695h0M498 698h0.6M645 707h1.2M518 712h0M765 715h0M517 726h1.2M742 728h0M756 727h0.6M690 732h0.6M726 739h0.6M511 745h1.2M641 744h1.2M726 746h0.6M520 753h0M599 751h1.2M625 751h1.2M657 754h1.2M698 750h0M757 752h1.2M573 757h1.2M650 759h1.2M660 758h0.6M676 760h0M725 759h1.2M504 764h0.6M592 765h0.6M487 772h1.2M508 771h1.2M577 770h0.6M644 769h1.2M738 771h1.2M472 776h0.6M487 777h0M575 785h0M612 782h0M565 791h1.2M555 798h0M625 798h0.6M453 811h0.6" stroke="#0606f0" stroke-width="3.9" stroke-linecap="round" fill="none"/>
<path d="M542 589h1.2M673 592h0.6M733 603h0M475 610h1.2M588 612h1.2M469 617h0M526 618h1.2M693 622h0M750 623h0.6M527 630h0M765 629h0M495 635h1.2M503 636h0M666 644h1.2M709 644h1.2M436 648h1.2M759 653h1.2M569 661h1.2M717 661h0M511 667h1.2M735 667h0.6M441 689h0.6M589 686h0M622 692h1.2M517 702h0.6M526 701h0.6M697 702h1.2M759 699h0M556 715h0M569 711h0M543 720h1.2M665 720h1.2M491 725h0M441 739h0M678 746h0.6M703 746h0.6M641 750h0.6M525 757h1.2M612 757h0M737 757h0.6M495 766h1.2M524 766h0.6M698 763h1.2M442 770h0.6M560 770h1.2M711 771h0M655 776h0.6M474 786h0.6M733 785h1.2M485 792h0.6M491 791h0M529 791h0.6M723 789h1.2M432 798h1.2M458 796h0.6M485 799h1.2M441 804h0M720 812h1.2" stroke="#0808d8" stroke-width="3.9" stroke-linecap="round" fill="none"/>
<path d="M549 590h1.2M617 589h1.2M495 595h1.2M582 599h0.6M623 596h0M731 597h0.6M754 596h0M648 605h0M642 617h1.2M529 624h0.6M552 624h0.6M597 622h1.2M667 624h0.6M475 634h0M514 641h1.2M687 644h1.2M518 651h0M530 651h0.6M598 648h1.2M703 650h1.2M575 655h0.6M517 662h0M453 670h1.2M506 668h0M541 669h0M691 680h0M714 683h1.2M478 687h1.2M649 688h1.2M657 689h1.2M686 686h0.6M525 692h1.2M609 693h1.2M559 698h0.6M751 701h1.2M695 705h0M667 712h0M726 715h0M741 712h1.2M442 720h1.2M564 720h0M472 724h0M521 727h0M530 726h0.6M439 731h0.6M468 732h0.6M624 731h0M714 734h0M718 737h0.6M650 746h1.2M688 752h1.2M702 759h1.2M712 758h0.6M711 766h1.2M437 772h0M524 769h0M437 791h0.6M736 790h0M664 796h0.6M498 804h0.6M763 804h1.2M573 808h0.6" stroke="#0c0cff" stroke-width="4.9" stroke-linecap="round" fill="none"/>
<path d="M571 591h0.6M632 590h1.2M636 597h0M679 596h1.2M769 598h0M446 610h1.2M452 616h0M461 627h0M640 642h0M452 650h0M512 647h1.2M696 651h0M471 657h1.2M596 656h1.2M744 657h1.2M510 663h0M666 661h0M559 670h1.2M685 667h0.6M528 675h1.2M533 673h0M570 676h0M462 679h0M529 679h1.2M591 683h0.6M505 686h0.6M670 689h1.2M577 694h1.2M679 699h0M452 707h1.2M566 709h1.2M595 708h0.6M704 705h0M440 725h1.2M450 727h0.6M700 734h0M486 739h0.6M451 747h0M708 745h0.6M762 747h0M458 757h0.6M484 760h0.6M532 760h0.6M555 757h0.6M491 767h1.2M563 766h1.2M616 764h0M439 777h1.2M635 776h0M591 783h0M673 785h1.2M449 795h0.6M727 795h0.6M462 804h0M715 809h0.6" stroke="#1414ff" stroke-width="4.4" stroke-linecap="round" fill="none"/>
<path d="M580 589h1.2M711 592h1.2M729 590h1.2M556 599h0.6M491 603h0.6M544 605h0.6M602 604h1.2M666 604h0M653 609h0.6M769 610h1.2M690 615h1.2M613 625h0M754 623h0.6M650 630h0.6M543 636h0M676 636h0M705 638h0.6M614 641h0M518 655h0.6M700 656h0.6M626 661h0.6M649 664h0.6M697 664h1.2M433 667h1.2M662 668h0.6M714 670h0.6M673 675h0.6M767 680h0.6M564 696h1.2M710 694h1.2M662 700h1.2M738 708h0.6M600 715h0.6M692 712h1.2M448 718h0M550 719h0M559 720h0M762 728h1.2M444 734h0.6M514 731h0M656 734h0.6M759 732h0M478 740h1.2M556 737h0M619 740h0M749 740h0M574 753h0M724 752h0.6M601 766h0.6M630 765h0M673 770h0.6M716 771h1.2M447 776h1.2M686 780h0.6M652 790h0.6M442 799h0M481 799h0M530 798h1.2M743 799h1.2M434 804h0.6M600 805h0M750 811h0" stroke="#0606f0" stroke-width="4.9" stroke-linecap="round" fill="none"/>
<path d="M586 592h0.6M480 596h0M515 605h1.2M522 605h0.6M553 603h1.2M513 609h0M709 618h0M487 623h0M496 624h0M504 631h1.2M585 637h0.6M468 650h0.6M474 649h0M499 650h0.6M440 654h0.6M763 661h1.2M484 666h0M494 675h1.2M500 688h1.2M713 686h0.6M629 692h0M459 702h0.6M653 702h0M737 699h0.6M658 714h1.2M485 727h0M486 745h0M571 747h1.2M755 745h1.2M634 753h0M676 750h1.2M734 753h0.6M441 760h0M530 771h0.6M593 771h0.6M445 786h0M452 783h0.6M686 798h1.2M544 805h0M632 802h0" stroke="#0404c0" stroke-width="3.9" stroke-linecap="round" fill="none"/>
<path d="M595 592h0.6M734 589h0.6M559 604h1.2M566 606h0.6M574 604h0M496 610h0M610 611h0.6M591 619h0M658 624h1.2M659 629h0M742 631h0.6M543 643h0.6M568 641h0M583 642h0M590 644h1.2M605 644h1.2M701 641h1.2M573 647h1.2M689 655h0M475 663h0.6M532 662h0M689 663h0.6M592 667h0M678 675h0M686 673h1.2M585 681h0M700 682h0M692 686h1.2M652 692h0.6M731 693h0M454 700h1.2M518 705h0M681 708h0M549 714h0.6M469 720h0.6M535 721h1.2M588 719h1.2M609 718h0.6M728 721h0M611 725h0.6M519 732h0M632 739h0.6M651 740h0.6M754 740h0M593 745h0M635 744h0.6M746 744h0M537 752h0M765 753h0.6M433 758h0M576 757h0M718 759h0M511 764h1.2M607 766h1.2M666 765h0.6M502 777h1.2M738 782h0M546 796h1.2M564 795h0.6M579 798h0M596 803h0.6M646 803h0.6M696 803h1.2M514 810h0.6M619 811h0.6M684 808h0.6" stroke="#0606f0" stroke-width="4.4" stroke-linecap="round" fill="none"/>
<path d="M622 589h0.6M640 592h0.6M698 592h0M517 598h1.2M570 599h0.6M458 604h1.2M500 605h0M635 603h0M744 610h0M620 623h0M547 631h1.2M572 629h0M680 629h1.2M661 637h1.2M749 636h0M478 641h1.2M648 643h1.2M608 649h0M608 656h0M537 662h0.6M534 668h0M564 668h1.2M640 667h0.6M561 674h0.6M649 674h1.2M646 680h0.6M664 681h0.6M685 682h0M456 686h1.2M551 689h1.2M625 688h0M431 694h1.2M498 696h0M619 705h1.2M510 711h0M519 720h1.2M530 721h0M562 725h1.2M590 725h0.6M704 724h1.2M662 734h1.2M512 738h0.6M547 737h0M561 738h0M571 739h1.2M655 739h0.6M670 744h1.2M475 752h0.6M583 751h1.2M620 754h1.2M585 757h0M570 766h0.6M654 764h0M501 773h0.6M672 776h0.6M461 785h0M560 782h0.6M658 783h0.6M690 783h0.6M670 791h0.6M642 797h0M650 798h0M671 799h0.6M656 805h0.6M437 811h0M485 810h0.6" stroke="#1414ff" stroke-width="4.9" stroke-linecap="round" fill="none"/>
<path d="M767 589h0.6M546 599h0M756 605h1.2M449 635h0M517 637h0M532 637h0.6M628 644h0M523 656h0M444 662h0M505 660h1.2M441 668h0M492 667h0.6M709 667h0.6M575 673h0M701 676h0M762 673h0.6M695 693h0M618 701h0M692 700h0M582 708h1.2M590 709h1.2M584 714h0.6M710 712h1.2M509 725h1.2M662 724h0M747 728h0.6M587 733h0M669 732h0.6M457 740h1.2M711 751h1.2M568 777h1.2M712 778h0.6M741 778h1.2M437 784h1.2M483 783h1.2M476 789h1.2M644 791h1.2M663 792h0.6M750 791h0.6M515 796h0M671 805h0.6M692 810h0" stroke="#1414ff" stroke-width="3.9" stroke-linecap="round" fill="none"/>
<path d="M613 596h1.2M694 597h1.2M580 602h0M639 605h0.6M462 618h0M628 618h0.6M478 624h1.2M483 623h0M512 623h0.6M702 623h1.2M481 629h0M764 637h0M468 643h0.6M499 643h0M531 642h0.6M551 644h0.6M696 642h0.6M620 647h1.2M665 650h1.2M719 647h1.2M501 654h0M724 661h0M738 661h0M585 668h1.2M615 668h0M547 679h0M632 680h0M659 696h0M744 701h1.2M765 702h0M756 713h1.2M549 726h0.6M595 734h1.2M751 732h0M540 739h0M741 738h1.2M764 739h1.2M457 744h0.6M557 747h0M452 751h1.2M752 759h0.6M437 765h0M682 765h1.2M720 763h0M735 765h1.2M756 764h0.6M467 773h0.6M584 771h0.6M703 777h0M465 785h0M664 785h0.6M694 783h0M752 783h1.2M717 792h0M732 790h1.2M678 797h1.2M563 804h0.6" stroke="#0404c0" stroke-width="4.9" stroke-linecap="round" fill="none"/>
<path d="M627 596h0.6M715 598h1.2M683 608h1.2M708 611h0M555 617h1.2M704 617h1.2M769 617h1.2M460 643h0M489 644h0.6M595 641h0.6M462 651h0.6M652 648h0M479 656h0.6M576 662h1.2M470 668h0M742 669h0.6M442 675h0M455 681h1.2M523 680h0.6M540 681h0M672 680h0.6M724 679h0.6M664 686h0.6M718 686h1.2M466 693h0M667 695h0.6M675 694h0M575 702h0M589 700h1.2M559 706h0.6M571 721h0.6M706 719h1.2M433 727h0.6M577 726h1.2M597 728h0.6M459 732h1.2M470 739h0M613 740h1.2M707 741h0.6M443 746h0M496 751h0M510 754h1.2M682 750h0M464 757h0.6M477 758h0M730 759h0M483 764h1.2M660 764h0M673 763h1.2M753 767h0M517 779h1.2M548 776h0.6M618 778h0.6M595 785h0.6M678 789h0.6M701 790h0.6M463 795h0.6M530 805h1.2M615 803h0.6M442 809h1.2M568 810h1.2M590 811h0M743 810h0.6" stroke="#0c0cff" stroke-width="4.4" stroke-linecap="round" fill="none"/>
<path d="M709 599h0M737 596h1.2M556 611h0M677 610h0.6M506 624h1.2M561 624h0M710 624h0.6M723 624h0.6M498 629h0.6M540 629h0M580 631h1.2M556 634h0.6M639 649h0M510 655h1.2M616 655h1.2M638 655h0.6M679 655h0.6M706 657h0M701 661h0M505 675h0M511 674h1.2M519 694h0M569 699h0M680 721h1.2M553 726h1.2M647 726h0M455 734h1.2M647 731h0.6M640 741h1.2M676 737h0.6M683 741h0M437 752h0.6M455 765h0M467 764h1.2M458 778h1.2M480 777h0M640 779h1.2M726 777h1.2M589 789h1.2M624 789h0M685 790h0.6M445 804h1.2M455 803h0.6M492 803h0.6M624 804h0M640 805h0.6M711 803h0M493 809h0" stroke="#1010f8" stroke-width="4.9" stroke-linecap="round" fill="none"/>
<path d="M529 603h0M691 609h1.2M759 610h0M637 618h1.2M573 622h1.2M635 622h1.2M687 630h0.6M736 630h0M698 637h1.2M485 647h1.2M486 654h0.6M633 654h0.6M478 675h0.6M635 674h0.6M470 683h1.2M518 681h1.2M434 689h1.2M565 688h1.2M742 687h0.6M505 695h0.6M540 694h0.6M588 694h0M679 694h0.6M434 707h1.2M746 706h1.2M767 707h1.2M471 713h0M673 715h1.2M485 719h0.6M622 721h1.2M718 721h1.2M456 724h1.2M657 726h0M720 725h1.2M735 726h0M498 732h1.2M563 731h0M707 732h0.6M769 732h1.2M625 747h0M684 747h0.6M561 753h0M471 760h0M497 760h0.6M626 758h1.2M758 759h0.6M548 765h0.6M691 763h0M743 766h0M452 771h0.6M481 772h0.6M541 779h1.2M611 777h1.2M644 785h0.6M609 795h0.6M736 798h1.2M470 805h1.2" stroke="#1010f8" stroke-width="4.4" stroke-linecap="round" fill="none"/>
<path d="M487 589h1.2M617 637h0.6M577 649h0.6M463 660h0.6M447 686h1.2M734 689h0M703 692h0M650 770h0" stroke="#ff14c8" stroke-width="5.5" stroke-linecap="round" fill="none"/>
<path d="M563 589h1.2M468 611h0M645 635h0M655 654h0.6M682 662h1.2M594 701h0M742 751h1.2M571 790h0.6M461 808h0" stroke="#ff14c8" stroke-width="5.0" stroke-linecap="round" fill="none"/>
<path d="M704 592h0.6M635 610h0.6M689 650h0M763 667h1.2M469 791h0" stroke="#ff28e0" stroke-width="6.0" stroke-linecap="round" fill="none"/>
<path d="M502 596h0.6M584 673h0.6M729 698h1.2M672 726h0M584 738h1.2M651 753h0.6M490 760h1.2" stroke="#ff20d8" stroke-width="5.5" stroke-linecap="round" fill="none"/>
<path d="M572 612h1.2M664 630h0M514 638h0M593 686h0M660 796h1.2" stroke="#ff28e0" stroke-width="5.5" stroke-linecap="round" fill="none"/>
<path d="M520 618h1.2M535 641h0M531 655h1.2M536 654h1.2M609 699h1.2M604 708h0M443 713h1.2M628 721h0.6M763 719h0M656 745h1.2M700 798h0" stroke="#f010b8" stroke-width="6.0" stroke-linecap="round" fill="none"/>
<path d="M657 615h0M726 616h0M487 628h1.2M524 663h0.6M601 701h0.6M581 720h0.6M613 721h0.6M632 809h0" stroke="#ff20d8" stroke-width="6.0" stroke-linecap="round" fill="none"/>
<path d="M667 618h1.2M533 630h0M765 657h0.6M558 686h1.2M642 687h0.6M461 692h0.6M597 738h0.6M614 793h0.6M522 798h0M645 809h0" stroke="#ff14c8" stroke-width="6.0" stroke-linecap="round" fill="none"/>
<path d="M535 621h0.6M673 624h1.2M559 641h0M545 648h1.2M658 662h0.6M571 670h1.2M749 681h1.2M749 687h1.2M540 707h0.6M733 711h0M634 732h0M638 765h0.6M659 772h0M693 771h0.6M746 792h0.6" stroke="#ff28e0" stroke-width="5.0" stroke-linecap="round" fill="none"/>
<path d="M701 628h1.2M730 630h1.2M691 638h1.2M723 669h1.2M506 699h0.6M533 701h1.2M713 702h1.2M617 732h0M518 766h0.6" stroke="#f010b8" stroke-width="5.5" stroke-linecap="round" fill="none"/>
<path d="M469 661h0M644 676h0M573 696h0.6M498 783h1.2M709 799h1.2" stroke="#f010b8" stroke-width="5.0" stroke-linecap="round" fill="none"/>
<path d="M443 679h0.6M622 681h0M570 732h0M591 740h0.6M599 796h0.6M610 802h0" stroke="#ff20d8" stroke-width="5.0" stroke-linecap="round" fill="none"/>
</g></g>
<rect x="817.2" y="588.4" width="340.8" height="227.2" fill="#05020c" />
<g clip-path="url(#clip33)"><g filter="url(#dotblur)">
<path d="M857 591h0.6M1063 592h0.6M933 597h0M987 599h0.6M996 596h0.6M1060 597h1.2M1064 603h0M850 612h0M895 612h0.6M903 611h0M937 625h0M961 624h1.2M1115 622h1.2M978 644h0.6M907 653h0.6M939 649h0M1139 649h0.6M921 665h1.2M928 664h0M1003 663h1.2M1102 670h0M912 676h0.6M973 678h0.6M822 685h0M992 684h0.6M1000 683h0M992 696h1.2M878 702h0.6M999 706h1.2M1053 705h0.6M998 710h0.6M873 719h0.6M1129 719h1.2M933 723h1.2M1044 726h1.2M957 732h0.6M1074 740h0.6M902 744h1.2M1133 744h0.6M827 752h0M1086 751h1.2M1097 766h0.6M955 790h1.2M949 800h0M1117 804h0" stroke="#1010f8" stroke-width="3.9" stroke-linecap="round" fill="none"/>
<path d="M867 591h0.6M1070 592h1.2M945 598h0.6M900 605h0.6M1099 603h1.2M1114 603h1.2M912 612h0.6M1048 611h0M1058 625h1.2M1129 625h1.2M1105 637h0.6M1123 636h0.6M1128 637h0M873 643h0.6M1070 644h0M870 651h0M924 650h1.2M1071 652h1.2M1022 659h0.6M938 663h0.6M1040 665h1.2M1156 665h1.2M829 671h1.2M957 669h0.6M962 672h1.2M1007 670h0.6M887 676h1.2M853 683h1.2M1043 682h0M880 692h0M1033 692h1.2M998 697h1.2M908 706h0.6M1018 705h0.6M1028 705h0.6M1099 705h1.2M957 711h0.6M1050 709h0M949 730h1.2M846 759h0M1133 757h1.2M884 765h0.6M1020 765h0.6M897 771h0.6M832 779h0.6M912 784h0.6M1123 785h0.6M978 793h1.2M1039 790h1.2M1043 798h0.6M997 804h0.6M1091 812h0.6M1096 812h0.6" stroke="#1414ff" stroke-width="4.4" stroke-linecap="round" fill="none"/>
<path d="M875 589h0M893 589h0.6M992 589h0M884 596h0M1073 597h1.2M850 602h0M977 602h0.6M1121 603h0.6M1040 610h1.2M1065 612h0.6M1069 619h0M1054 624h1.2M826 629h0.6M964 629h0M867 643h1.2M967 651h0M1048 652h0.6M840 658h0M1101 665h0.6M881 671h0.6M1016 670h1.2M1131 676h1.2M1023 686h1.2M1067 686h1.2M1100 685h0M910 692h1.2M974 697h0.6M969 704h1.2M964 713h0.6M907 719h1.2M881 723h0M826 730h0M984 733h0.6M1065 738h1.2M1150 736h1.2M1094 751h0M1028 763h1.2M1052 764h0.6M861 777h0M1131 779h1.2M1023 783h0.6M910 790h0M1004 790h0M910 800h0M849 804h0M863 804h0M1010 805h1.2M1004 810h0.6M1028 813h0.6" stroke="#0808d8" stroke-width="4.4" stroke-linecap="round" fill="none"/>
<path d="M882 592h1.2M1009 592h0.6M923 602h1.2M940 605h0.6M1074 610h0M1119 609h0.6M977 631h0.6M857 638h0.6M984 637h0M1062 635h1.2M1025 643h0.6M1101 642h0M861 651h1.2M878 653h0M933 650h1.2M955 649h0M1087 652h0M996 656h1.2M858 663h0.6M1052 670h0.6M1111 670h0.6M830 676h1.2M847 676h1.2M885 683h0.6M975 683h0.6M942 699h0M872 702h1.2M870 711h0M941 712h0M1045 711h0M1008 719h1.2M1146 725h0M975 730h1.2M884 739h1.2M1020 738h0.6M1058 737h1.2M1053 746h1.2M835 752h1.2M858 751h0M980 752h1.2M1028 756h0M1051 756h0M928 766h0.6M966 763h1.2M1042 766h1.2M1040 769h1.2M884 778h1.2M1037 777h0M1051 779h0M822 784h0.6M835 784h1.2M1077 786h1.2M856 789h0M1088 789h1.2M988 804h1.2M1036 807h0M1136 803h0.6" stroke="#1010f8" stroke-width="4.4" stroke-linecap="round" fill="none"/>
<path d="M902 591h1.2M1141 590h0M853 598h1.2M949 603h0.6M940 609h1.2M964 612h1.2M1080 611h1.2M924 619h0M1142 618h0M860 625h0.6M1046 623h0.6M956 630h0.6M1069 638h0.6M1139 639h0.6M1117 645h1.2M1139 645h0.6M1154 649h0M1013 657h0.6M1121 656h0.6M1152 658h0M828 663h0.6M859 671h1.2M905 672h1.2M1117 670h0M825 679h1.2M929 678h0.6M843 682h1.2M1135 692h1.2M877 699h0M957 699h0M968 697h1.2M1020 697h0M1041 699h1.2M1110 697h0.6M886 712h0M910 712h0.6M1043 719h0M1085 718h0.6M992 726h0M1001 724h0M936 730h1.2M974 746h0.6M998 743h0.6M1087 743h0M1099 743h0.6M1071 750h0M900 757h1.2M994 759h0M1075 766h0M1147 779h0M850 786h1.2M1070 785h0.6M1026 790h1.2M938 796h0M1004 799h0M1129 798h0M827 806h1.2M896 806h1.2M880 810h0.6M978 810h0M1137 811h1.2M1141 812h0" stroke="#1010f8" stroke-width="4.9" stroke-linecap="round" fill="none"/>
<path d="M930 590h0M1131 589h0M843 597h1.2M953 596h0.6M1109 597h0.6M1018 605h0.6M955 612h0M1033 611h1.2M1135 612h0M935 630h0.6M1138 631h1.2M1077 636h0M852 645h1.2M821 652h0.6M1006 649h0.6M1116 650h0M1131 650h0.6M1052 656h0.6M1012 666h1.2M1142 665h1.2M967 676h0M1005 679h0M1083 678h0.6M923 684h0.6M943 683h0.6M842 693h0.6M1068 691h0M845 697h1.2M1052 700h0M837 712h1.2M925 711h0M1139 711h0M897 725h0.6M963 724h1.2M1112 723h0.6M1078 731h0.6M1104 739h0.6M884 758h0.6M1099 758h0M1150 759h0M1065 766h0.6M1079 765h0.6M958 777h1.2M985 779h1.2M1058 776h0.6M864 784h0.6M1141 792h1.2M1085 805h0.6" stroke="#0606f0" stroke-width="4.9" stroke-linecap="round" fill="none"/>
<path d="M936 589h1.2M984 592h0.6M1125 591h0.6M1147 589h0M837 597h1.2M992 604h1.2M858 611h0.6M1034 617h0.6M1147 617h0.6M865 630h0.6M880 632h0M1048 630h1.2M923 643h0M946 644h0M1031 642h1.2M831 657h0.6M983 662h0M1125 666h0M866 673h1.2M1149 669h1.2M822 704h0M885 703h0M1044 703h0M1154 705h1.2M975 719h0.6M1029 719h0.6M1074 718h0.6M830 724h0.6M1006 729h0.6M1032 730h0.6M921 736h0.6M1036 746h0M1145 743h1.2M1078 760h0M821 764h0.6M870 763h0.6M876 764h1.2M1124 766h0.6M887 770h1.2M1024 770h0M1076 770h0M1126 770h0.6M998 783h1.2M831 797h1.2M836 805h0M1071 804h0.6M966 811h0" stroke="#1414ff" stroke-width="3.9" stroke-linecap="round" fill="none"/>
<path d="M943 588h0M830 595h1.2M870 597h0M878 596h0M972 597h0M1002 598h0.6M1115 599h0.6M914 604h1.2M1106 604h0.6M1040 625h0M1086 623h0M1093 626h0.6M1154 626h0.6M886 629h1.2M1017 629h0M840 638h0.6M1013 635h0M905 643h1.2M1103 650h0M880 659h0M901 659h0M932 656h0.6M1127 658h0M1063 665h0M897 677h0M985 685h1.2M973 691h0.6M936 697h0M1026 698h0M1013 705h0.6M1093 706h0.6M1115 705h0.6M1007 711h1.2M1096 711h1.2M898 717h1.2M985 717h1.2M954 723h0.6M1063 725h0.6M998 730h1.2M942 737h0.6M1025 738h0.6M894 746h1.2M931 743h0M953 745h0.6M1029 746h1.2M930 751h0.6M907 757h0.6M934 759h1.2M843 769h0M1056 771h0.6M1062 772h1.2M1084 771h0.6M1139 770h1.2M893 780h0M916 776h0M973 792h0.6M1064 791h0M924 799h0M1051 799h0.6M1112 796h0M1075 810h0" stroke="#1414ff" stroke-width="4.9" stroke-linecap="round" fill="none"/>
<path d="M951 590h0M988 602h0.6M843 610h0M892 616h0.6M986 616h1.2M993 618h1.2M928 623h0.6M992 623h1.2M1001 623h0.6M1081 632h0M1114 630h1.2M827 645h0M901 650h0.6M1121 651h0.6M974 656h0.6M998 663h0.6M1134 666h1.2M842 678h0.6M958 676h1.2M1141 684h0M873 690h1.2M853 697h1.2M870 697h0M1135 697h1.2M948 703h0.6M1007 704h0.6M1105 703h0.6M1130 705h0M1146 704h0M936 718h0.6M942 719h1.2M994 717h0.6M1107 717h0M1095 723h0M1084 730h1.2M1094 731h1.2M1009 737h0.6M857 744h0.6M1021 744h0.6M1017 750h0.6M1027 751h0M954 771h0M871 797h1.2M1074 800h0M916 806h0M965 807h0.6M1104 811h0.6" stroke="#0c0cff" stroke-width="4.9" stroke-linecap="round" fill="none"/>
<path d="M960 589h0.6M999 589h0M912 597h0.6M1049 598h0.6M1079 596h0.6M890 605h0M992 611h0M1112 612h0.6M1050 616h1.2M1133 618h0M875 623h0M1105 625h0M1092 637h1.2M842 643h0.6M955 644h0M893 652h1.2M979 650h0M1013 650h0M861 658h1.2M836 662h1.2M1107 664h0.6M950 673h1.2M1155 685h0.6M857 690h0M929 691h0.6M945 692h1.2M949 698h0M1120 698h0.6M831 705h0.6M830 711h1.2M981 711h1.2M1106 710h1.2M915 719h0M1123 717h1.2M1032 723h0M866 738h0M843 746h0.6M850 746h0.6M971 751h0M1008 758h0M1104 756h0.6M1115 758h1.2M970 772h0.6M987 770h0.6M991 786h1.2M1048 785h0.6M1058 804h0M1113 812h1.2" stroke="#0808d8" stroke-width="4.9" stroke-linecap="round" fill="none"/>
<path d="M975 590h0.6M1027 592h0.6M1087 599h0M1094 597h1.2M1103 595h0M825 602h0.6M867 605h1.2M963 605h1.2M1131 605h0M1127 616h0.6M890 625h0.6M908 632h1.2M880 637h1.2M1099 638h0.6M912 644h1.2M884 658h0M989 657h0M961 665h0M975 672h0M1059 672h0M1070 670h1.2M1109 677h1.2M1124 678h1.2M960 686h0M997 691h1.2M1013 690h0M1005 700h0M841 705h0.6M950 712h1.2M1153 724h0.6M1137 740h0M910 752h0.6M970 757h0.6M1090 757h1.2M1154 760h0.6M912 763h0M1034 766h0M918 770h0.6M941 770h0.6M922 778h1.2M1010 779h0.6M870 785h0.6M896 786h0.6M934 793h1.2M1057 791h0M864 796h0M985 797h1.2M879 805h1.2M949 803h0M956 806h1.2M1017 806h0.6M1057 811h0.6" stroke="#0c0cff" stroke-width="4.4" stroke-linecap="round" fill="none"/>
<path d="M1040 589h1.2M1025 598h0.6M1033 602h0.6M922 612h0.6M1140 612h1.2M941 617h1.2M1007 623h0M847 630h1.2M1005 633h0.6M1060 629h0.6M1065 629h1.2M1093 644h0M1128 645h1.2M1149 665h0.6M1021 678h0M1141 677h0.6M870 684h0M1021 691h1.2M1093 693h0M903 699h1.2M920 697h1.2M1013 696h1.2M1073 697h0.6M864 704h0.6M989 706h1.2M1034 705h1.2M865 716h0.6M950 719h0.6M905 730h1.2M913 731h1.2M1146 729h0M907 739h0.6M1121 740h0M1077 746h0.6M894 752h0M1135 751h1.2M1150 752h1.2M1036 760h0M1113 766h0M1142 765h1.2M1094 770h1.2M986 787h1.2M1144 787h0.6M1137 790h1.2M954 799h0M1090 797h1.2M1098 797h0M1048 805h1.2M1063 804h0.6M1076 804h0.6M904 811h1.2M1043 811h0" stroke="#0c0cff" stroke-width="3.9" stroke-linecap="round" fill="none"/>
<path d="M1046 592h1.2M1055 591h1.2M862 597h0M901 596h1.2M941 598h1.2M877 605h1.2M930 605h0M968 612h0.6M1056 611h0.6M978 618h0.6M1016 619h1.2M1023 623h0.6M871 631h0.6M1143 630h1.2M1151 631h0M887 636h0M1031 637h0M1152 637h1.2M1000 643h0.6M1048 645h0M1037 650h1.2M1078 649h0.6M1135 657h0M946 664h0M1018 665h0.6M1032 665h0M1143 670h1.2M901 686h0.6M968 683h0.6M832 691h0.6M982 690h0.6M989 691h1.2M913 697h0.6M1036 713h0.6M888 718h1.2M946 724h1.2M986 725h0M1104 726h0M860 732h1.2M866 732h1.2M1117 730h0M858 740h1.2M928 739h0.6M957 739h1.2M1113 739h1.2M924 746h1.2M1064 744h0M865 750h0M1100 750h1.2M867 757h1.2M1103 772h0.6M826 777h0M855 778h1.2M890 807h0M925 803h0M971 806h0M1121 804h0M989 812h1.2M993 813h0.6M1020 810h0.6" stroke="#0808d8" stroke-width="3.9" stroke-linecap="round" fill="none"/>
<path d="M1078 592h0.6M1095 592h1.2M1108 592h0.6M919 597h0.6M981 595h0.6M1057 606h1.2M1072 602h1.2M1148 602h0M1085 618h0M901 633h0.6M942 630h0M989 632h0.6M1041 637h1.2M993 644h0.6M831 652h0.6M837 652h0.6M1096 650h1.2M1147 650h1.2M1089 658h1.2M822 665h0.6M881 664h0.6M837 670h1.2M888 671h1.2M932 669h1.2M942 672h0.6M985 671h0.6M864 676h0.6M1026 684h1.2M1075 692h0.6M1033 697h1.2M940 704h0.6M1022 712h0M1036 718h1.2M842 726h1.2M1037 725h1.2M1071 726h1.2M841 732h1.2M897 731h0.6M1131 730h1.2M828 738h0.6M851 738h0M833 746h0M992 745h0.6M947 751h1.2M964 752h0.6M949 766h0M991 764h0M1119 764h0M1034 773h0.6M1151 771h1.2M963 784h1.2M1107 784h0.6M833 793h1.2M924 790h0.6M988 793h1.2M1109 791h1.2M857 811h0.6" stroke="#0404c0" stroke-width="4.4" stroke-linecap="round" fill="none"/>
<path d="M1118 590h1.2M1137 597h1.2M917 610h0.6M1001 609h0.6M1011 616h0.6M909 623h0.6M914 623h0M924 630h0M1028 631h0M1042 631h1.2M1123 633h0.6M894 635h1.2M943 638h0.6M998 636h0M885 650h1.2M846 657h1.2M1035 657h1.2M843 662h1.2M951 664h0M1076 673h1.2M945 677h0.6M835 685h0.6M837 700h0M899 696h0.6M953 706h1.2M862 710h0.6M1088 712h0M1156 710h1.2M961 717h0.6M968 718h1.2M967 722h0.6M1053 731h0M880 746h0.6M945 745h0.6M1152 746h0M1034 752h0M1061 753h1.2M1124 752h1.2M830 759h0.6M982 766h0.6M1133 764h1.2M1150 766h0M820 773h1.2M1119 771h0.6M945 786h1.2M1103 792h0M1035 799h0M1119 799h0M821 806h0.6M978 805h1.2M1144 805h0M1011 812h0.6M1033 810h1.2M1119 813h0.6" stroke="#0606f0" stroke-width="3.9" stroke-linecap="round" fill="none"/>
<path d="M962 597h0M1153 599h1.2M825 619h0M900 617h0M1039 617h1.2M1108 617h1.2M857 630h0.6M973 631h1.2M1033 631h0.6M1074 629h0.6M1053 637h0.6M1085 645h0M973 649h0M981 658h0M1042 658h0M1082 657h0M896 665h0M976 662h1.2M850 672h0M911 673h0.6M1032 670h1.2M983 677h0M991 676h0.6M1030 678h1.2M1063 679h1.2M938 692h0M1003 691h0M1028 692h0.6M1057 692h0.6M905 711h0M932 711h0M834 716h0.6M967 730h0.6M1062 731h0.6M892 736h0.6M974 737h0.6M1096 737h0.6M1047 750h0.6M1121 759h0.6M892 763h0.6M906 764h0.6M919 765h1.2M1008 763h1.2M873 770h0M903 773h0.6M906 780h1.2M928 778h0M905 784h0M975 786h0.6M823 790h1.2M840 797h0M1055 798h1.2M842 810h1.2M870 813h1.2M949 810h0.6M972 813h0" stroke="#0404c0" stroke-width="3.9" stroke-linecap="round" fill="none"/>
<path d="M1019 595h0M885 603h0.6M879 611h0M1128 610h0.6M1077 619h0M1117 617h0.6M894 632h0.6M859 644h1.2M844 650h0M948 649h1.2M1069 657h1.2M1097 657h0.6M1104 658h0M1047 666h0M875 685h1.2M955 684h0.6M1011 684h1.2M1117 686h0M967 693h0.6M1119 691h0M832 697h0M1097 698h0M894 706h1.2M990 712h1.2M1063 712h0M844 718h1.2M857 724h1.2M905 725h0M1013 723h0.6M834 732h1.2M883 730h0M987 739h0.6M993 736h0.6M1036 740h1.2M828 743h0.6M938 746h0.6M967 746h1.2M1015 743h0.6M1047 773h0M898 780h1.2M857 786h0M1006 786h0M840 791h0M1032 793h0.6M1077 793h0.6M919 798h0.6M970 797h1.2M978 799h0.6M1011 800h1.2M1101 806h0M1151 804h0" stroke="#0606f0" stroke-width="4.4" stroke-linecap="round" fill="none"/>
<path d="M1067 598h0.6M1094 604h0.6M820 612h1.2M860 616h0.6M1062 617h1.2M836 623h0M883 623h0M1095 631h0M870 637h0M924 636h0.6M959 639h0.6M1023 636h0M892 643h0M971 646h1.2M1057 644h0M1115 656h1.2M1028 665h1.2M855 678h1.2M997 678h0.6M914 684h1.2M920 691h0.6M1143 692h0.6M1089 699h0.6M960 704h0.6M974 705h0.6M1063 704h1.2M849 711h0.6M928 719h0M920 730h0.6M927 732h1.2M980 739h1.2M1143 736h0M1070 745h0.6M1138 745h0.6M961 759h0M851 770h1.2M1075 777h0.6M1080 778h1.2M1061 786h1.2M1101 784h0M1072 792h0M1137 796h1.2M934 812h1.2M1127 810h0.6" stroke="#0404c0" stroke-width="4.9" stroke-linecap="round" fill="none"/>
<path d="M907 592h0M832 604h0M992 639h0M893 657h0M888 666h0.6M1091 669h0M1150 676h0.6M939 684h0.6M905 691h1.2M879 717h0M1041 739h0M850 749h0M1001 753h0.6M857 758h0.6M869 790h1.2M992 789h1.2" stroke="#ff14c8" stroke-width="5.0" stroke-linecap="round" fill="none"/>
<path d="M914 589h1.2M1011 597h0M1045 595h1.2M999 602h1.2M1019 610h1.2M918 656h0.6M1007 684h0.6M1147 709h0M1078 724h1.2M1101 730h0.6M1130 740h0.6M955 751h0M1069 759h0M827 783h1.2M887 783h1.2M1017 792h0M1150 792h0.6M1065 799h1.2" stroke="#ff28e0" stroke-width="6.0" stroke-linecap="round" fill="none"/>
<path d="M894 597h0M1033 596h1.2M1131 597h1.2M944 624h0.6M1009 632h0M1090 631h0M873 676h1.2M1064 698h0.6M1101 697h0M848 732h0.6M877 737h1.2M1008 745h0.6M1108 745h1.2M1123 745h0.6M837 756h0M896 792h0M900 792h1.2" stroke="#ff20d8" stroke-width="5.5" stroke-linecap="round" fill="none"/>
<path d="M923 599h0.6M1026 616h1.2M1129 629h1.2M827 685h0.6M1096 683h0.6M824 699h0M1142 698h0.6M1151 696h0M1155 717h0.6M1053 723h0M1135 724h1.2M882 770h0M1114 778h0M935 785h1.2M1058 786h1.2M1017 798h1.2M1004 805h0M886 811h0.6" stroke="#ff20d8" stroke-width="6.0" stroke-linecap="round" fill="none"/>
<path d="M856 603h0.6M971 602h1.2M1031 622h1.2M1101 623h1.2M1138 623h1.2M917 636h1.2M952 637h1.2M1146 638h0M940 645h0M874 671h1.2M1047 672h1.2M918 678h0.6M1080 737h0.6M836 765h0M994 769h0.6M848 793h0M1025 797h0.6M1082 800h0.6M1052 812h0" stroke="#ff28e0" stroke-width="5.5" stroke-linecap="round" fill="none"/>
<path d="M860 603h0.6M910 619h0.6M1078 706h1.2M864 743h0.6M1094 745h1.2M850 759h0.6M1158 771h1.2M1043 778h0M1017 784h1.2M1093 784h0.6M1117 791h0.6M845 798h1.2M886 798h0.6M866 811h0.6" stroke="#ff14c8" stroke-width="6.0" stroke-linecap="round" fill="none"/>
<path d="M906 603h0.6M948 612h1.2M1093 618h0M862 636h0.6M882 643h1.2M1038 671h0M1124 670h0.6M860 685h0M828 693h0M1041 689h0.6M922 759h0M940 757h0M958 763h0M868 776h0" stroke="#f010b8" stroke-width="6.0" stroke-linecap="round" fill="none"/>
<path d="M954 604h0.6M865 610h1.2M1026 612h0.6M949 619h0.6M1011 678h1.2M1037 685h1.2M934 702h1.2M1053 716h1.2M836 724h0M1088 725h0.6M1044 743h1.2M1113 746h1.2M1008 750h0.6M897 763h1.2M1003 777h0.6" stroke="#f010b8" stroke-width="5.0" stroke-linecap="round" fill="none"/>
<path d="M1088 606h0M867 623h0M818 643h0.6M996 670h0M1051 689h0M1038 731h1.2M1067 732h0M1108 731h1.2M1139 758h1.2M934 765h1.2M913 769h0.6M1009 770h1.2M1086 784h0M1096 791h0.6M897 799h1.2" stroke="#ff14c8" stroke-width="5.5" stroke-linecap="round" fill="none"/>
<path d="M1106 612h0.6M971 617h0M1100 616h0.6M923 626h0.6M1156 644h0M853 649h0.6M926 656h1.2M965 656h0M906 666h0M950 679h0.6M1037 676h1.2M908 685h0.6M930 683h0.6M1124 682h0.6M823 711h1.2M1099 719h1.2M1051 737h0M1086 757h0M1067 777h0.6M963 793h0M933 803h0" stroke="#f010b8" stroke-width="5.5" stroke-linecap="round" fill="none"/>
<path d="M851 616h0M1147 625h0M1113 636h0M1063 644h1.2M1135 669h1.2M867 693h1.2M1150 690h1.2M1079 697h1.2M951 738h0.6M1013 765h0.6M924 770h0M877 791h0M1067 812h1.2" stroke="#ff28e0" stroke-width="5.0" stroke-linecap="round" fill="none"/>
<path d="M985 624h0M948 656h0.6M867 664h1.2M875 665h0M1127 711h0M825 718h1.2M1145 716h1.2M874 745h0M1106 764h1.2M868 771h0M1110 770h0M920 786h0M916 811h0.6" stroke="#ff20d8" stroke-width="5.0" stroke-linecap="round" fill="none"/>
</g></g>
<rect x="1204.8" y="588.4" width="340.8" height="227.2" fill="#05020c" />
<g clip-path="url(#clip44)"><g filter="url(#dotblur)">
<path d="M1214 590h0M1224 590h0M1437 590h0M1537 590h0.6M1407 596h0M1458 597h1.2M1531 598h0.6M1209 602h0M1461 602h0.6M1337 612h0.6M1382 609h0.6M1262 615h0M1384 618h1.2M1215 630h0M1360 630h0M1373 629h0.6M1395 630h0.6M1410 631h0M1238 636h0M1371 636h0.6M1399 637h1.2M1468 637h1.2M1261 648h0.6M1307 650h0.6M1492 649h0M1311 655h0.6M1316 656h0.6M1259 663h0M1491 661h0.6M1276 667h0.6M1378 670h0M1397 668h1.2M1519 667h0.6M1459 681h0.6M1461 687h0.6M1270 693h0M1345 695h0.6M1367 697h1.2M1246 701h1.2M1316 708h0.6M1398 715h0M1220 720h1.2M1266 728h1.2M1464 729h1.2M1249 746h0.6M1398 747h0M1513 749h0M1305 755h0.6M1449 759h0M1219 765h1.2M1271 766h0M1407 767h1.2M1289 773h0.6M1420 774h0M1520 782h0M1239 785h1.2M1534 788h0M1533 791h1.2M1381 798h0.6M1298 805h0.6M1353 805h0.6M1484 812h0.6" stroke="#0c0cff" stroke-width="4.4" stroke-linecap="round" fill="none"/>
<path d="M1221 591h1.2M1352 590h0M1393 589h0.6M1356 597h0M1458 611h0M1348 618h0M1282 624h0.6M1343 624h0.6M1369 622h0.6M1435 631h0M1456 629h1.2M1446 641h1.2M1246 648h1.2M1359 660h0M1537 661h1.2M1509 674h0M1249 690h0.6M1432 690h0M1213 694h1.2M1509 693h0M1209 703h0M1300 709h1.2M1231 716h0.6M1482 714h0.6M1244 719h0M1276 720h1.2M1477 723h0M1238 729h0M1356 729h0.6M1409 727h0M1347 749h1.2M1228 753h0M1260 753h0.6M1404 752h0M1541 760h0M1370 765h0M1375 767h0M1435 767h1.2M1519 765h0.6M1274 774h0.6M1401 772h0M1272 778h0.6M1427 779h1.2M1476 788h0M1225 798h0.6M1423 808h0.6M1443 808h0.6" stroke="#1414ff" stroke-width="4.4" stroke-linecap="round" fill="none"/>
<path d="M1234 589h1.2M1258 590h1.2M1495 590h0.6M1506 589h1.2M1543 591h0M1340 595h0M1400 597h1.2M1499 598h1.2M1323 602h0.6M1452 604h1.2M1542 603h0M1300 617h1.2M1312 622h1.2M1322 624h1.2M1261 637h1.2M1356 635h0M1371 642h0.6M1395 642h0M1533 644h1.2M1235 650h0.6M1256 650h1.2M1401 651h0M1426 648h0M1277 655h1.2M1284 661h1.2M1329 661h0M1374 663h1.2M1453 662h0.6M1483 664h1.2M1518 661h1.2M1262 668h0M1495 668h0M1510 669h1.2M1238 676h0M1441 674h0.6M1452 690h0M1257 695h0.6M1208 708h1.2M1333 709h1.2M1415 721h1.2M1463 721h0M1531 722h1.2M1372 736h0.6M1231 742h0.6M1367 746h1.2M1362 754h1.2M1253 758h0.6M1407 761h1.2M1509 772h0.6M1540 772h0.6M1294 779h0M1395 778h1.2M1441 782h1.2M1529 781h0M1277 788h1.2M1283 785h0M1307 792h1.2M1285 798h1.2M1440 801h0.6M1520 799h0.6M1370 805h0.6M1386 807h0.6" stroke="#0c0cff" stroke-width="4.9" stroke-linecap="round" fill="none"/>
<path d="M1294 589h0M1453 589h0M1209 599h0M1396 605h0.6M1440 603h0M1243 610h0M1326 610h0M1422 617h0M1471 622h0.6M1327 629h0M1333 630h0M1354 630h0M1383 642h1.2M1279 647h0M1417 648h0.6M1458 649h0M1469 647h1.2M1498 649h1.2M1237 664h0.6M1431 662h0.6M1460 664h0.6M1467 664h0M1382 668h0.6M1403 669h1.2M1504 670h0.6M1364 677h0.6M1263 683h0M1370 683h1.2M1440 687h0.6M1405 694h0M1229 701h1.2M1341 701h0.6M1272 707h0M1389 708h0.6M1208 713h0M1281 719h1.2M1343 720h0.6M1278 728h0M1483 735h0.6M1221 748h0.6M1463 754h1.2M1411 768h0.6M1480 765h1.2M1215 772h1.2M1244 773h0M1479 775h0.6M1525 773h0M1303 779h0M1524 788h1.2M1415 799h0.6M1216 813h0.6" stroke="#1414ff" stroke-width="3.9" stroke-linecap="round" fill="none"/>
<path d="M1333 591h1.2M1422 597h0.6M1233 609h1.2M1252 610h0M1239 617h1.2M1277 616h0.6M1526 624h0.6M1417 643h0M1493 642h0M1327 649h0M1365 648h0.6M1506 650h0M1544 661h0.6M1223 676h1.2M1295 675h0M1217 684h0M1312 683h0.6M1404 690h0.6M1447 689h0.6M1485 690h1.2M1282 694h0.6M1434 696h1.2M1472 697h0M1218 701h0M1237 701h1.2M1356 700h0.6M1501 710h1.2M1240 714h0.6M1523 714h1.2M1262 723h0.6M1447 720h1.2M1304 728h1.2M1530 729h1.2M1399 736h1.2M1407 734h0M1239 741h1.2M1268 739h0M1315 742h0M1212 749h0.6M1429 753h0M1436 752h0M1490 755h0M1537 753h0.6M1428 760h0M1459 762h1.2M1465 760h0.6M1471 762h0M1503 760h1.2M1440 772h0M1488 775h0M1286 780h1.2M1245 785h0M1380 785h0.6M1520 786h0.6M1330 798h1.2M1430 800h0M1211 805h0M1347 807h0.6M1246 812h0M1261 812h0.6M1371 815h1.2" stroke="#1010f8" stroke-width="4.9" stroke-linecap="round" fill="none"/>
<path d="M1347 588h1.2M1444 590h1.2M1438 598h0.6M1494 598h0M1314 603h0.6M1504 609h1.2M1514 612h0M1516 629h0.6M1228 636h1.2M1285 637h1.2M1365 638h0M1314 644h1.2M1301 650h1.2M1346 664h0.6M1421 664h0M1305 670h0M1240 680h0.6M1506 683h0M1241 710h0.6M1539 708h0M1284 714h1.2M1530 717h0.6M1545 715h0M1419 723h1.2M1393 727h0M1271 736h0M1480 740h0M1496 741h1.2M1262 745h0M1531 746h0.6M1346 752h0M1392 753h0.6M1214 759h1.2M1295 772h0M1264 779h1.2M1306 788h1.2M1213 798h1.2M1374 800h0M1263 805h0M1401 812h1.2" stroke="#0606f0" stroke-width="3.9" stroke-linecap="round" fill="none"/>
<path d="M1374 591h1.2M1385 592h0.6M1329 604h0.6M1367 611h0M1472 609h1.2M1479 618h0.6M1250 622h0M1509 622h0M1264 628h1.2M1347 631h0.6M1341 643h0.6M1322 648h0M1391 670h1.2M1329 674h0.6M1343 677h0.6M1256 683h1.2M1344 682h1.2M1415 684h0M1292 693h0M1294 709h0M1397 706h0M1405 707h0.6M1445 708h0M1531 707h0.6M1248 713h0M1257 735h1.2M1278 733h0.6M1344 734h1.2M1218 742h0.6M1288 749h0M1483 746h0M1446 752h0.6M1362 760h1.2M1371 758h0.6M1384 761h1.2M1226 765h1.2M1301 766h0M1327 772h0M1386 788h0.6M1415 786h1.2M1541 793h0M1246 800h1.2M1265 799h0M1447 798h1.2M1319 806h0" stroke="#0606f0" stroke-width="4.4" stroke-linecap="round" fill="none"/>
<path d="M1401 591h0.6M1514 590h0M1520 589h0M1224 599h1.2M1468 597h1.2M1300 602h1.2M1510 608h1.2M1509 615h1.2M1542 616h0M1210 623h0.6M1481 623h1.2M1439 628h1.2M1529 631h1.2M1285 643h0M1528 644h0M1234 657h0M1341 654h0.6M1381 657h0.6M1452 655h0.6M1539 658h1.2M1533 669h0.6M1456 673h0.6M1527 677h0.6M1537 675h0.6M1441 682h1.2M1494 687h0.6M1518 702h0.6M1231 707h0M1437 707h1.2M1509 708h0.6M1211 720h1.2M1328 720h0.6M1524 720h0.6M1260 730h0.6M1485 727h0.6M1264 734h0.6M1422 735h1.2M1430 734h0M1429 746h0.6M1497 747h0.6M1499 752h0.6M1378 762h0M1526 759h0.6M1250 765h1.2M1419 769h1.2M1342 779h1.2M1356 788h0M1324 795h0.6M1367 794h0.6M1255 800h0M1460 798h1.2M1337 814h0.6M1396 813h1.2M1433 814h0M1526 815h1.2M1541 814h1.2" stroke="#0808d8" stroke-width="4.4" stroke-linecap="round" fill="none"/>
<path d="M1407 591h0.6M1326 596h1.2M1336 604h0.6M1387 605h0M1402 605h0.6M1410 603h0M1219 609h0.6M1256 617h1.2M1292 616h0M1321 618h0.6M1392 625h1.2M1398 625h0M1412 622h0M1543 623h0.6M1320 632h1.2M1488 628h1.2M1502 629h0M1350 635h0M1379 635h1.2M1315 648h0M1342 649h1.2M1324 657h0M1348 656h0M1232 667h1.2M1485 676h0.6M1246 681h0.6M1281 682h0.6M1300 688h0M1335 689h1.2M1227 693h0M1248 693h0M1532 703h0M1248 707h0.6M1295 720h0.6M1251 735h1.2M1395 736h0.6M1447 735h1.2M1489 733h0.6M1528 739h1.2M1413 747h0M1268 761h0.6M1442 762h0M1308 766h1.2M1441 767h0.6M1469 769h0M1512 767h0.6M1356 773h1.2M1379 772h0M1509 788h0.6M1278 794h0.6M1400 793h0.6M1471 792h0.6M1505 792h1.2M1292 799h0.6M1217 808h0.6M1325 807h0.6M1414 806h0.6M1351 813h1.2" stroke="#1010f8" stroke-width="3.9" stroke-linecap="round" fill="none"/>
<path d="M1427 589h1.2M1445 596h0M1468 602h0.6M1450 611h0.6M1226 615h1.2M1242 621h0M1337 624h1.2M1253 635h1.2M1320 635h1.2M1507 637h0.6M1526 637h0.6M1251 644h1.2M1363 643h1.2M1337 647h0M1397 651h0.6M1434 651h0M1442 649h1.2M1218 657h1.2M1262 656h0.6M1436 661h0M1270 668h0.6M1312 670h1.2M1317 668h0.6M1481 667h1.2M1406 681h1.2M1313 696h0.6M1396 693h1.2M1275 701h1.2M1223 709h0M1286 708h0M1235 723h0.6M1510 720h0M1215 727h0M1428 729h0.6M1336 734h1.2M1528 736h0M1293 740h0.6M1384 739h1.2M1254 749h0.6M1377 745h1.2M1422 747h0.6M1215 755h0M1265 756h1.2M1240 760h1.2M1245 761h1.2M1301 760h0M1449 765h0M1251 779h0.6M1325 779h0M1364 780h1.2M1424 787h1.2M1447 785h1.2M1249 793h1.2M1450 792h0.6M1298 798h1.2M1240 807h1.2" stroke="#1414ff" stroke-width="4.9" stroke-linecap="round" fill="none"/>
<path d="M1466 591h0.6M1431 595h0M1454 597h0M1351 602h0.6M1213 611h0M1265 611h0M1418 610h0.6M1436 610h1.2M1210 618h0.6M1316 617h0.6M1457 616h0M1258 622h1.2M1266 625h1.2M1384 623h0.6M1518 623h0.6M1221 630h1.2M1545 630h0M1206 635h0M1296 642h0.6M1305 644h1.2M1376 643h1.2M1294 649h0M1521 649h0M1333 657h0.6M1512 664h1.2M1210 670h0.6M1228 667h1.2M1242 670h0.6M1212 676h1.2M1402 675h1.2M1234 683h0M1319 680h0M1450 682h1.2M1320 694h1.2M1446 700h0.6M1478 701h0M1525 708h0.6M1254 714h1.2M1279 715h1.2M1431 713h0M1474 713h0.6M1515 714h1.2M1535 715h0M1440 722h0M1345 727h0.6M1446 729h0M1538 727h0M1288 735h0.6M1512 735h0.6M1210 740h0.6M1475 747h0.6M1287 755h1.2M1375 753h1.2M1228 761h0M1283 761h0M1395 760h1.2M1260 769h0M1354 768h1.2M1490 766h0M1424 773h1.2M1226 785h1.2M1438 788h0.6M1300 792h0.6M1417 794h0M1387 799h1.2M1483 801h0.6M1527 806h1.2M1300 814h0.6M1367 811h1.2M1426 812h0M1478 814h0.6" stroke="#0404c0" stroke-width="4.4" stroke-linecap="round" fill="none"/>
<path d="M1476 591h1.2M1218 597h1.2M1305 605h1.2M1300 609h1.2M1396 610h1.2M1539 610h1.2M1233 618h0M1284 615h1.2M1513 615h0.6M1529 615h0.6M1297 622h1.2M1250 630h0.6M1281 631h1.2M1366 628h0.6M1471 630h0M1213 638h1.2M1220 635h0.6M1451 635h0M1488 635h0M1519 637h0.6M1536 637h1.2M1381 649h0.6M1451 650h0.6M1249 654h0M1256 655h0M1268 654h0M1473 655h0.6M1324 663h0M1362 668h0M1465 669h1.2M1255 677h1.2M1323 676h0M1469 674h0.6M1209 681h0M1305 703h0.6M1300 716h1.2M1267 719h0.6M1427 720h0.6M1230 727h0M1452 726h0.6M1256 742h0.6M1348 740h0.6M1442 742h0M1515 739h0.6M1355 760h0M1498 759h0M1539 766h1.2M1227 774h0M1237 772h0M1334 774h1.2M1493 773h0.6M1212 779h0.6M1333 781h0M1417 780h0M1233 785h0.6M1271 787h0.6M1268 793h1.2M1444 795h1.2M1513 792h1.2M1392 804h0" stroke="#0404c0" stroke-width="3.9" stroke-linecap="round" fill="none"/>
<path d="M1234 597h0M1303 596h0.6M1334 597h1.2M1347 598h0M1261 601h0.6M1291 605h0.6M1371 604h1.2M1496 605h0.6M1310 611h0.6M1355 615h1.2M1415 617h1.2M1230 623h0.6M1448 623h0M1339 628h1.2M1384 628h1.2M1493 628h1.2M1524 631h1.2M1513 634h1.2M1242 657h1.2M1510 654h0.6M1268 664h1.2M1315 662h1.2M1526 663h0M1368 670h0M1409 676h1.2M1492 674h0M1497 675h0.6M1544 677h0.6M1338 682h0M1465 683h1.2M1474 683h1.2M1266 687h0.6M1351 696h0.6M1458 709h0M1443 714h1.2M1493 723h0.6M1517 719h0M1225 727h0.6M1470 728h0M1294 734h1.2M1327 733h0.6M1349 733h0.6M1378 735h0.6M1468 755h0.6M1478 753h0.6M1432 759h1.2M1300 774h0.6M1474 775h1.2M1371 787h0M1430 788h0.6M1505 785h0.6M1255 805h0M1409 804h1.2M1277 812h1.2" stroke="#0c0cff" stroke-width="3.9" stroke-linecap="round" fill="none"/>
<path d="M1243 597h0.6M1371 598h1.2M1418 598h0M1485 597h1.2M1521 608h0M1376 615h0M1442 621h0M1420 631h0.6M1305 638h1.2M1313 638h0M1235 642h1.2M1430 642h1.2M1219 648h0.6M1270 648h1.2M1283 658h0.6M1480 657h1.2M1495 654h0.6M1291 664h0M1309 663h0M1496 662h1.2M1246 668h1.2M1292 669h1.2M1308 676h1.2M1494 680h0.6M1530 684h0.6M1539 681h1.2M1382 687h1.2M1263 695h0M1462 696h1.2M1483 701h1.2M1315 714h1.2M1415 729h1.2M1235 736h0M1523 735h0M1509 742h0.6M1538 740h0M1228 746h0.6M1236 748h0M1395 754h0M1522 754h0.6M1509 759h1.2M1388 767h0.6M1460 766h1.2M1258 773h0M1348 773h0M1395 773h1.2M1388 781h0.6M1455 785h1.2M1239 792h0M1385 792h0.6M1353 798h0M1360 802h0.6M1400 806h1.2M1501 806h1.2M1239 813h0.6" stroke="#1010f8" stroke-width="4.4" stroke-linecap="round" fill="none"/>
<path d="M1393 598h0.6M1509 597h0.6M1513 595h0.6M1233 603h0.6M1425 604h1.2M1480 604h0.6M1276 608h0M1441 615h0M1537 617h0M1422 624h0.6M1245 641h0M1353 641h0.6M1519 643h0.6M1434 656h0M1488 657h1.2M1526 655h0.6M1222 662h0.6M1229 660h1.2M1505 663h0.6M1297 667h0.6M1313 673h1.2M1421 676h1.2M1294 689h0.6M1442 703h0.6M1469 703h0M1542 703h0M1325 709h0M1506 714h0.6M1287 723h1.2M1319 729h0M1223 733h0M1497 734h0.6M1471 739h0M1489 746h1.2M1295 755h1.2M1513 754h1.2M1401 760h0.6M1419 760h0M1427 768h1.2M1456 779h0.6M1329 787h1.2M1396 786h1.2M1264 795h0.6M1241 798h1.2M1274 804h0.6M1209 815h0M1252 811h0M1282 815h0M1311 815h1.2M1419 811h1.2" stroke="#0808d8" stroke-width="3.9" stroke-linecap="round" fill="none"/>
<path d="M1540 596h0M1363 602h0M1318 611h0.6M1356 609h0M1408 623h1.2M1465 622h0.6M1243 631h1.2M1290 636h0.6M1296 638h1.2M1406 635h1.2M1225 641h1.2M1506 643h1.2M1300 654h0.6M1382 664h0M1339 668h1.2M1472 669h0.6M1286 676h0M1353 684h1.2M1486 681h1.2M1500 682h0.6M1238 689h0M1244 687h0M1232 694h0.6M1389 695h1.2M1278 708h0.6M1223 716h0.6M1458 716h1.2M1497 716h1.2M1336 723h1.2M1326 727h0M1506 729h0M1417 733h0.6M1475 734h0M1522 746h0M1211 754h0.6M1209 766h0.6M1243 768h1.2M1315 768h0.6M1317 774h0.6M1448 773h0M1373 782h0.6M1424 794h1.2M1438 794h1.2M1338 798h1.2M1249 805h1.2M1377 808h0M1451 805h1.2M1359 811h1.2" stroke="#0808d8" stroke-width="4.9" stroke-linecap="round" fill="none"/>
<path d="M1214 603h1.2M1476 605h1.2M1260 611h0.6M1485 611h0.6M1532 608h1.2M1393 618h0M1470 618h0M1216 623h0M1308 631h0.6M1438 636h0M1502 641h1.2M1478 647h0M1427 655h1.2M1337 661h0M1405 663h0M1231 675h0M1395 677h0M1422 682h1.2M1515 683h0.6M1230 688h0M1274 690h0.6M1288 687h0.6M1326 687h0.6M1299 694h1.2M1494 693h0M1311 701h0.6M1328 700h1.2M1499 702h1.2M1262 706h0M1309 709h0M1429 707h0.6M1450 708h1.2M1472 707h0M1488 710h1.2M1438 727h1.2M1498 727h0M1214 735h0.6M1354 735h0M1460 732h0M1339 741h1.2M1411 742h0.6M1458 739h0M1487 741h0.6M1438 749h0.6M1235 756h1.2M1505 753h1.2M1273 762h1.2M1233 780h1.2M1350 780h1.2M1503 780h0.6M1483 787h1.2M1338 793h0M1377 792h0.6M1278 799h1.2M1411 798h0.6M1339 807h0M1428 806h0.6M1461 804h0.6M1306 814h0M1321 814h0M1329 811h1.2M1512 812h1.2" stroke="#0404c0" stroke-width="4.9" stroke-linecap="round" fill="none"/>
<path d="M1253 602h0.6M1373 610h1.2M1340 616h0.6M1521 616h1.2M1222 621h1.2M1287 631h1.2M1304 631h0M1536 629h1.2M1265 635h0.6M1325 635h1.2M1341 634h1.2M1262 641h0M1350 649h0M1210 654h0M1225 657h0.6M1354 655h0M1531 656h0M1214 661h0M1250 663h1.2M1419 669h0M1310 689h0M1468 689h0M1539 688h1.2M1523 695h1.2M1491 700h1.2M1478 709h0.6M1452 713h1.2M1454 721h0.6M1246 727h0.6M1439 736h0M1299 741h1.2M1456 746h1.2M1462 745h0M1223 760h0M1235 768h0.6M1283 766h0.6M1325 768h0.6M1382 766h1.2M1223 775h0M1263 772h0.6M1371 773h0M1435 773h1.2M1464 772h0.6M1227 782h0.6M1447 782h0M1482 780h0.6M1496 778h1.2M1235 794h0.6M1254 793h0.6M1352 793h1.2M1217 798h0M1232 801h0.6M1345 801h1.2M1422 800h0.6M1303 805h1.2M1267 814h1.2" stroke="#0606f0" stroke-width="4.9" stroke-linecap="round" fill="none"/>
<path d="M1362 589h1.2M1434 602h0.6M1287 623h0.6M1291 641h0.6M1299 676h0M1419 689h0.6M1312 729h1.2M1489 780h1.2M1267 806h0" stroke="#f010b8" stroke-width="6.0" stroke-linecap="round" fill="none"/>
<path d="M1264 599h1.2M1387 596h1.2M1238 605h0.6M1227 628h1.2M1423 638h0M1272 683h1.2M1462 706h0M1413 761h0M1255 768h1.2M1469 787h0.6M1412 814h0" stroke="#ff14c8" stroke-width="6.0" stroke-linecap="round" fill="none"/>
<path d="M1478 597h1.2M1411 611h0.6M1238 623h0M1535 623h0M1244 635h1.2M1461 677h0M1215 714h1.2M1333 728h0M1448 743h0.6M1321 754h0.6M1337 762h0.6M1489 759h0M1341 773h1.2M1318 779h0M1435 778h0M1401 786h0.6" stroke="#ff28e0" stroke-width="5.5" stroke-linecap="round" fill="none"/>
<path d="M1523 595h1.2M1431 615h1.2M1524 727h0.6M1243 780h0.6M1218 792h1.2M1310 805h0" stroke="#f010b8" stroke-width="5.5" stroke-linecap="round" fill="none"/>
<path d="M1356 602h0.6M1388 609h1.2M1529 651h1.2M1254 670h0M1347 669h0.6M1488 670h0M1516 688h0M1436 702h1.2M1516 708h0M1501 773h0.6M1513 780h0.6M1363 805h1.2" stroke="#ff14c8" stroke-width="5.0" stroke-linecap="round" fill="none"/>
<path d="M1447 604h0M1212 648h0.6M1536 651h0M1294 684h1.2M1523 683h0M1501 689h0M1305 697h0M1251 703h0M1290 715h0M1526 768h0.6" stroke="#ff28e0" stroke-width="5.0" stroke-linecap="round" fill="none"/>
<path d="M1426 611h1.2M1327 642h1.2M1292 658h0.6M1459 656h0M1331 667h0.6M1457 667h0M1259 703h1.2M1490 730h1.2M1451 733h1.2M1463 739h1.2M1479 759h0.6M1476 767h0M1533 768h0.6M1396 799h0.6M1227 807h1.2" stroke="#f010b8" stroke-width="5.0" stroke-linecap="round" fill="none"/>
<path d="M1493 612h1.2M1219 641h1.2M1359 656h1.2M1277 748h1.2M1346 787h0M1471 799h0.6M1476 800h0M1233 807h0.6" stroke="#ff20d8" stroke-width="5.0" stroke-linecap="round" fill="none"/>
<path d="M1496 617h0.6M1247 676h1.2M1259 690h0.6M1270 716h0.6M1469 735h0M1261 759h1.2M1532 762h1.2M1535 773h0.6M1259 787h0.6M1394 792h0M1513 799h0.6M1332 805h0" stroke="#ff28e0" stroke-width="6.0" stroke-linecap="round" fill="none"/>
<path d="M1375 622h1.2M1269 642h0.6M1225 650h1.2M1277 694h0.6M1486 721h0M1307 741h1.2M1436 742h1.2M1470 749h0.6M1232 811h0" stroke="#ff20d8" stroke-width="6.0" stroke-linecap="round" fill="none"/>
<path d="M1387 649h0M1355 668h0M1420 694h0.6M1517 697h0.6M1288 702h1.2M1463 702h0.6M1485 754h0M1282 774h0.6M1312 774h1.2M1459 772h0M1342 785h0.6" stroke="#ff20d8" stroke-width="5.5" stroke-linecap="round" fill="none"/>
<path d="M1404 655h1.2M1271 673h1.2M1301 681h0.6M1224 795h0" stroke="#ff14c8" stroke-width="5.5" stroke-linecap="round" fill="none"/>
</g></g>
<rect x="1507.1" y="804.1" width="38.4" height="11.4" fill="#fff" />
<line x1="1507.1" y1="815" x2="1545.5" y2="815" stroke="#4040e0" stroke-width="1" />
<line x1="1509" y1="805.5" x2="1543.8" y2="805.5" stroke="#111" stroke-width="1" />
<text x="1528" y="813.3" font-size="7.5" text-anchor="middle" fill="#333">50μm</text>
<text x="212" y="573.8" font-size="24.1" text-anchor="middle">NC mimic-Exo</text>
<text x="600" y="573.8" font-size="24.1" text-anchor="middle">miR-26a mimic-Exo</text>
<text x="986.8" y="573.8" font-size="24.1" text-anchor="middle">NC mimic-Exo+DFO</text>
<text x="1374.8" y="573.8" font-size="24.1" text-anchor="middle">miR-26a mimic-Exo+DFO</text>
<rect x="738.2" y="840.4" width="115.8" height="26.8" fill="#fff" stroke="#000" stroke-width="1.6" stroke-dasharray="6.2 3.2"/>
<text x="742.8" y="861.6" font-size="23"><tspan fill="#ff00ff">EDU</tspan>/<tspan fill="#0000ff">DAPI</tspan></text>
<rect x="102.5" y="1660.8" width="320.9" height="52.8" fill="#f3f3f3" />
<rect x="117" y="1682.8" width="35" height="7.2" rx="3.6" fill="#444" filter="url(#blur1)"/>
<rect x="140" y="1681" width="38.5" height="11.6" rx="5.8" fill="#000" filter="url(#blur1)"/>
<rect x="198" y="1681.2" width="52.5" height="7.4" rx="3.7" fill="#2a2a2a" filter="url(#blur1)"/>
<rect x="268.5" y="1682.4" width="65" height="14.7" rx="7.3" fill="#000" filter="url(#blur1)"/>
<rect x="347" y="1682.4" width="61" height="13" rx="6.5" fill="#000" filter="url(#blur1)"/>
<rect x="102.5" y="1660.8" width="320.9" height="52.8" fill="none" stroke="#000" stroke-width="1.8" />
<rect x="102.5" y="1726" width="320.9" height="52" fill="#d8d8d8" />
<rect x="114" y="1745" width="67" height="15.5" rx="7.8" fill="#000" filter="url(#blur1)"/>
<rect x="190.5" y="1744.5" width="66" height="14.3" rx="7.1" fill="#000" filter="url(#blur1)"/>
<rect x="268" y="1744.5" width="66" height="12.7" rx="6.4" fill="#000" filter="url(#blur1)"/>
<rect x="345" y="1745" width="66.5" height="13.8" rx="6.9" fill="#000" filter="url(#blur1)"/>
<rect x="102.5" y="1726" width="320.9" height="52" fill="none" stroke="#000" stroke-width="1.8" />
<rect x="653.3" y="1660.8" width="321" height="52.8" fill="#e3e3e3" />
<rect x="664.5" y="1681" width="27.5" height="9" rx="4.5" fill="#000" filter="url(#blur1)"/>
<rect x="678" y="1682.4" width="34" height="6.8" rx="3.4" fill="#000" filter="url(#blur1)"/>
<rect x="697" y="1680.8" width="26" height="9.8" rx="4.9" fill="#000" filter="url(#blur1)"/>
<rect x="747.8" y="1681.6" width="21.2" height="6.8" rx="3.4" fill="#000" filter="url(#blur1)"/>
<rect x="760" y="1684.3" width="35" height="2.2" rx="1.1" fill="#444" filter="url(#blur1)"/>
<rect x="792" y="1681.2" width="14.8" height="5.6" rx="2.8" fill="#000" filter="url(#blur1)"/>
<rect x="829" y="1678.1" width="61" height="12.9" rx="6.5" fill="#000" filter="url(#blur1)"/>
<rect x="860" y="1679" width="30" height="13.3" rx="6.6" fill="#000" filter="url(#blur1)"/>
<rect x="910.7" y="1678.9" width="52.8" height="9.1" rx="4.5" fill="#000" filter="url(#blur1)"/>
<rect x="653.3" y="1660.8" width="321" height="52.8" fill="none" stroke="#000" stroke-width="1.8" />
<rect x="653.3" y="1726.3" width="321" height="52.5" fill="#dedede" />
<rect x="664" y="1744.3" width="68" height="14.5" rx="7.2" fill="#000" filter="url(#blur1)"/>
<rect x="745.2" y="1744.5" width="64.5" height="14.5" rx="7.2" fill="#000" filter="url(#blur1)"/>
<rect x="823.6" y="1744.3" width="65.4" height="14" rx="7" fill="#000" filter="url(#blur1)"/>
<rect x="901.2" y="1743.9" width="69.4" height="14.6" rx="7.3" fill="#000" filter="url(#blur1)"/>
<rect x="653.3" y="1726.3" width="321" height="52.5" fill="none" stroke="#000" stroke-width="1.8" />
<text x="16.5" y="1695" font-size="24">α-SMA</text>
<text x="19.5" y="1758.6" font-size="24">β-actin</text>
<text x="433.5" y="1696" font-size="24">~43Kd</text>
<text x="433.5" y="1768" font-size="24">~42Kd</text>
<text x="541.8" y="1696" font-size="24">collagen I</text>
<text x="569.6" y="1758.4" font-size="24">β-actin</text>
<text x="984" y="1701.8" font-size="24">~139Kd</text>
<text x="984" y="1763.8" font-size="24">~42Kd</text>
<text x="157.5" y="1652" font-size="23.7" transform="rotate(-45 157.5 1652)">NC mimic-Exo</text>
<text x="235.4" y="1652" font-size="23.7" transform="rotate(-45 235.4 1652)">miR-26a mimic-Exo</text>
<text x="306.7" y="1652" font-size="23.7" transform="rotate(-45 306.7 1652)">NC mimic-Exo+DFO</text>
<text x="391.8" y="1652" font-size="23.7" transform="rotate(-45 391.8 1652)">miR-26a mimic-Exo+DFO</text>
<text x="689" y="1652" font-size="23.7" transform="rotate(-45 689 1652)">NC mimic-Exo</text>
<text x="782" y="1652" font-size="23.7" transform="rotate(-45 782 1652)">miR-26a mimic-Exo</text>
<text x="866.7" y="1652" font-size="23.7" transform="rotate(-45 866.7 1652)">NC mimic-Exo+DFO</text>
<text x="947" y="1652" font-size="23.7" transform="rotate(-45 947 1652)">miR-26a mimic-Exo+DFO</text>
</svg>
</body></html>
